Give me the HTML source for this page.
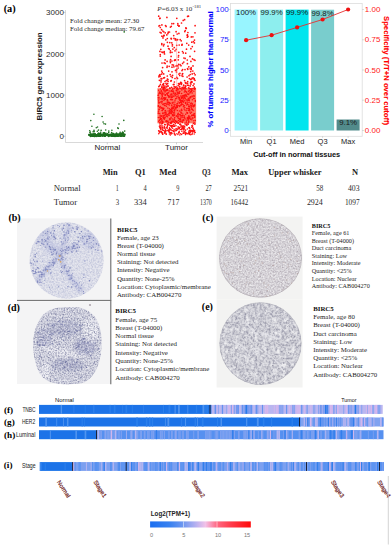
<!DOCTYPE html>
<html><head><meta charset="utf-8"><style>
html,body{margin:0;padding:0;background:#fff;width:392px;height:550px;overflow:hidden}
svg{display:block}
</style></head><body>
<svg width="392" height="550" viewBox="0 0 392 550">
<rect width="392" height="550" fill="#fff"/>
<text x="3.7" y="12.3" font-family="'Liberation Serif', serif" font-size="10.3" fill="#000" font-weight="bold" text-anchor="start">(a)</text>
<line x1="65.5" y1="10" x2="65.5" y2="142.5" stroke="#cfcfcf" stroke-width="0.8"/>
<line x1="65.5" y1="142.5" x2="203" y2="142.5" stroke="#cfcfcf" stroke-width="0.8"/>
<line x1="63.6" y1="136.3" x2="65.5" y2="136.3" stroke="#bbb" stroke-width="0.7"/>
<text x="63.9" y="139.20000000000002" font-family="'Liberation Sans', sans-serif" font-size="8" fill="#2a2a2a" text-anchor="end">0</text>
<line x1="63.6" y1="95.0" x2="65.5" y2="95.0" stroke="#bbb" stroke-width="0.7"/>
<text x="63.9" y="97.9" font-family="'Liberation Sans', sans-serif" font-size="8" fill="#2a2a2a" text-anchor="end">1000</text>
<line x1="63.6" y1="53.7" x2="65.5" y2="53.7" stroke="#bbb" stroke-width="0.7"/>
<text x="63.9" y="56.6" font-family="'Liberation Sans', sans-serif" font-size="8" fill="#2a2a2a" text-anchor="end">2000</text>
<line x1="63.6" y1="12.4" x2="65.5" y2="12.4" stroke="#bbb" stroke-width="0.7"/>
<text x="63.9" y="15.3" font-family="'Liberation Sans', sans-serif" font-size="8" fill="#2a2a2a" text-anchor="end">3000</text>
<line x1="107.3" y1="142.5" x2="107.3" y2="144.4" stroke="#bbb" stroke-width="0.7"/>
<line x1="176.5" y1="142.5" x2="176.5" y2="144.4" stroke="#bbb" stroke-width="0.7"/>
<text x="107.3" y="150.2" font-family="'Liberation Sans', sans-serif" font-size="8" fill="#222" text-anchor="middle">Normal</text>
<text x="176.5" y="150.2" font-family="'Liberation Sans', sans-serif" font-size="8" fill="#222" text-anchor="middle">Tumor</text>
<text transform="translate(42.3,76.4) rotate(-90)" font-family="'Liberation Sans', sans-serif" font-size="7.9" font-weight="bold" fill="#1a1a1a" text-anchor="middle">BIRC5 gene expression</text>
<text x="70" y="23.3" font-family="'Liberation Serif', serif" font-size="6.85" fill="#262626" text-anchor="start">Fold change mean: 27.30</text>
<text x="70" y="30.9" font-family="'Liberation Serif', serif" font-size="6.85" fill="#262626" text-anchor="start">Fold change median: 79.67</text>
<text x="157.3" y="10.7" font-family="'Liberation Serif', serif" font-size="7.1" fill="#333"><tspan font-style="italic">P</tspan>=6.03 x 10<tspan font-size="4.7" dy="-2.4" dx="0.3">-181</tspan></text>
<g fill="#1f6f1f"><circle cx="91.5" cy="135.7" r="0.8"/><circle cx="102.1" cy="135.0" r="0.8"/><circle cx="104.6" cy="133.1" r="0.8"/><circle cx="92.2" cy="134.3" r="0.8"/><circle cx="97.0" cy="135.1" r="0.8"/><circle cx="123.1" cy="134.6" r="0.8"/><circle cx="90.6" cy="136.4" r="0.8"/><circle cx="99.4" cy="136.1" r="0.8"/><circle cx="118.4" cy="134.8" r="0.8"/><circle cx="109.9" cy="134.5" r="0.8"/><circle cx="91.2" cy="135.6" r="0.8"/><circle cx="96.3" cy="134.9" r="0.8"/><circle cx="110.0" cy="135.2" r="0.8"/><circle cx="99.7" cy="135.5" r="0.8"/><circle cx="109.6" cy="134.6" r="0.8"/><circle cx="120.5" cy="135.7" r="0.8"/><circle cx="93.2" cy="136.1" r="0.8"/><circle cx="116.2" cy="135.5" r="0.8"/><circle cx="113.0" cy="134.0" r="0.8"/><circle cx="109.6" cy="134.7" r="0.8"/><circle cx="110.4" cy="135.1" r="0.8"/><circle cx="105.4" cy="135.7" r="0.8"/><circle cx="112.9" cy="133.2" r="0.8"/><circle cx="114.2" cy="135.0" r="0.8"/><circle cx="99.2" cy="136.2" r="0.8"/><circle cx="113.0" cy="135.5" r="0.8"/><circle cx="93.1" cy="133.3" r="0.8"/><circle cx="116.6" cy="134.5" r="0.8"/><circle cx="120.4" cy="134.7" r="0.8"/><circle cx="105.1" cy="134.2" r="0.8"/><circle cx="120.1" cy="136.2" r="0.8"/><circle cx="103.9" cy="135.2" r="0.8"/><circle cx="94.3" cy="136.4" r="0.8"/><circle cx="97.3" cy="131.3" r="0.8"/><circle cx="98.4" cy="135.4" r="0.8"/><circle cx="104.0" cy="132.9" r="0.8"/><circle cx="113.8" cy="136.3" r="0.8"/><circle cx="111.2" cy="134.3" r="0.8"/><circle cx="117.1" cy="136.0" r="0.8"/><circle cx="117.7" cy="136.1" r="0.8"/><circle cx="111.8" cy="134.9" r="0.8"/><circle cx="91.3" cy="134.1" r="0.8"/><circle cx="90.8" cy="135.0" r="0.8"/><circle cx="94.4" cy="134.0" r="0.8"/><circle cx="120.5" cy="133.8" r="0.8"/><circle cx="94.3" cy="135.0" r="0.8"/><circle cx="93.3" cy="135.1" r="0.8"/><circle cx="124.8" cy="134.8" r="0.8"/><circle cx="92.6" cy="135.0" r="0.8"/><circle cx="98.5" cy="134.9" r="0.8"/><circle cx="123.2" cy="134.4" r="0.8"/><circle cx="94.2" cy="135.6" r="0.8"/><circle cx="124.2" cy="135.5" r="0.8"/><circle cx="114.0" cy="135.9" r="0.8"/><circle cx="116.8" cy="134.8" r="0.8"/><circle cx="117.0" cy="134.3" r="0.8"/><circle cx="124.5" cy="136.0" r="0.8"/><circle cx="118.0" cy="135.3" r="0.8"/><circle cx="107.6" cy="134.3" r="0.8"/><circle cx="89.9" cy="135.4" r="0.8"/><circle cx="113.9" cy="134.1" r="0.8"/><circle cx="105.0" cy="136.0" r="0.8"/><circle cx="102.1" cy="116.5" r="0.8"/><circle cx="97.1" cy="135.2" r="0.8"/><circle cx="121.4" cy="135.4" r="0.8"/><circle cx="106.2" cy="135.3" r="0.8"/><circle cx="112.7" cy="135.0" r="0.8"/><circle cx="117.1" cy="136.3" r="0.8"/><circle cx="117.4" cy="134.8" r="0.8"/><circle cx="117.8" cy="135.4" r="0.8"/><circle cx="123.1" cy="134.0" r="0.8"/><circle cx="95.0" cy="135.8" r="0.8"/><circle cx="118.0" cy="135.7" r="0.8"/><circle cx="118.7" cy="134.5" r="0.8"/><circle cx="108.7" cy="132.4" r="0.8"/><circle cx="89.4" cy="134.8" r="0.8"/><circle cx="122.6" cy="132.8" r="0.8"/><circle cx="120.4" cy="135.3" r="0.8"/><circle cx="99.5" cy="134.7" r="0.8"/><circle cx="110.1" cy="135.1" r="0.8"/><circle cx="121.8" cy="134.8" r="0.8"/><circle cx="105.4" cy="133.8" r="0.8"/><circle cx="122.0" cy="135.5" r="0.8"/><circle cx="108.1" cy="135.6" r="0.8"/><circle cx="95.5" cy="135.3" r="0.8"/><circle cx="117.8" cy="134.5" r="0.8"/><circle cx="109.0" cy="135.3" r="0.8"/><circle cx="107.6" cy="133.8" r="0.8"/><circle cx="109.1" cy="135.0" r="0.8"/><circle cx="98.9" cy="135.1" r="0.8"/><circle cx="116.3" cy="135.3" r="0.8"/><circle cx="104.9" cy="136.3" r="0.8"/><circle cx="113.9" cy="135.6" r="0.8"/><circle cx="108.2" cy="135.5" r="0.8"/><circle cx="120.5" cy="136.0" r="0.8"/><circle cx="98.3" cy="135.8" r="0.8"/><circle cx="93.9" cy="136.2" r="0.8"/><circle cx="104.9" cy="135.0" r="0.8"/><circle cx="113.1" cy="134.0" r="0.8"/><circle cx="121.3" cy="135.6" r="0.8"/><circle cx="94.1" cy="134.6" r="0.8"/><circle cx="123.8" cy="133.8" r="0.8"/><circle cx="106.5" cy="134.8" r="0.8"/><circle cx="119.0" cy="124.0" r="0.8"/><circle cx="101.1" cy="134.9" r="0.8"/><circle cx="100.4" cy="133.8" r="0.8"/><circle cx="104.8" cy="135.4" r="0.8"/><circle cx="100.9" cy="134.6" r="0.8"/><circle cx="124.5" cy="134.9" r="0.8"/><circle cx="124.0" cy="136.1" r="0.8"/><circle cx="117.0" cy="134.0" r="0.8"/><circle cx="93.6" cy="134.6" r="0.8"/><circle cx="98.2" cy="136.2" r="0.8"/><circle cx="122.1" cy="133.5" r="0.8"/><circle cx="91.0" cy="135.0" r="0.8"/><circle cx="104.3" cy="135.9" r="0.8"/><circle cx="117.8" cy="127.9" r="0.8"/><circle cx="119.8" cy="133.4" r="0.8"/><circle cx="101.1" cy="130.4" r="0.8"/><circle cx="122.4" cy="134.6" r="0.8"/><circle cx="97.5" cy="135.4" r="0.8"/><circle cx="94.7" cy="134.3" r="0.8"/><circle cx="99.9" cy="134.5" r="0.8"/><circle cx="99.4" cy="135.6" r="0.8"/><circle cx="89.6" cy="135.3" r="0.8"/><circle cx="89.5" cy="134.9" r="0.8"/><circle cx="106.0" cy="134.9" r="0.8"/><circle cx="92.7" cy="136.3" r="0.8"/><circle cx="119.0" cy="135.0" r="0.8"/><circle cx="107.2" cy="135.4" r="0.8"/><circle cx="118.9" cy="135.4" r="0.8"/><circle cx="111.9" cy="136.0" r="0.8"/><circle cx="93.6" cy="134.9" r="0.8"/><circle cx="115.6" cy="134.2" r="0.8"/><circle cx="119.3" cy="134.7" r="0.8"/><circle cx="113.1" cy="135.4" r="0.8"/><circle cx="105.5" cy="135.1" r="0.8"/><circle cx="105.0" cy="134.1" r="0.8"/><circle cx="108.6" cy="136.2" r="0.8"/><circle cx="123.8" cy="120.4" r="0.8"/><circle cx="102.7" cy="134.7" r="0.8"/><circle cx="107.0" cy="134.3" r="0.8"/><circle cx="98.4" cy="134.3" r="0.8"/><circle cx="103.3" cy="133.1" r="0.8"/><circle cx="97.3" cy="134.9" r="0.8"/><circle cx="108.0" cy="135.4" r="0.8"/><circle cx="120.6" cy="135.7" r="0.8"/><circle cx="100.7" cy="135.5" r="0.8"/><circle cx="112.1" cy="135.2" r="0.8"/><circle cx="119.1" cy="134.6" r="0.8"/><circle cx="118.2" cy="134.3" r="0.8"/><circle cx="107.8" cy="135.0" r="0.8"/><circle cx="118.7" cy="136.2" r="0.8"/><circle cx="121.1" cy="135.5" r="0.8"/><circle cx="90.0" cy="135.1" r="0.8"/><circle cx="101.9" cy="135.1" r="0.8"/><circle cx="111.6" cy="132.5" r="0.8"/><circle cx="113.5" cy="133.9" r="0.8"/><circle cx="115.9" cy="135.8" r="0.8"/><circle cx="108.2" cy="135.3" r="0.8"/><circle cx="98.0" cy="135.8" r="0.8"/><circle cx="98.5" cy="134.8" r="0.8"/><circle cx="124.1" cy="135.8" r="0.8"/><circle cx="102.7" cy="135.5" r="0.8"/><circle cx="111.2" cy="136.1" r="0.8"/><circle cx="91.7" cy="135.4" r="0.8"/><circle cx="99.9" cy="135.4" r="0.8"/><circle cx="89.4" cy="134.9" r="0.8"/><circle cx="113.9" cy="134.9" r="0.8"/><circle cx="99.4" cy="135.4" r="0.8"/><circle cx="93.2" cy="135.6" r="0.8"/><circle cx="96.1" cy="136.0" r="0.8"/><circle cx="105.5" cy="124.1" r="0.8"/><circle cx="123.8" cy="136.0" r="0.8"/><circle cx="123.0" cy="135.1" r="0.8"/><circle cx="109.9" cy="134.7" r="0.8"/><circle cx="93.7" cy="135.3" r="0.8"/><circle cx="107.3" cy="134.7" r="0.8"/><circle cx="121.3" cy="133.2" r="0.8"/><circle cx="89.8" cy="135.6" r="0.8"/><circle cx="99.8" cy="133.6" r="0.8"/><circle cx="101.3" cy="134.7" r="0.8"/><circle cx="116.0" cy="134.8" r="0.8"/><circle cx="93.2" cy="131.5" r="0.8"/><circle cx="99.4" cy="133.5" r="0.8"/><circle cx="103.1" cy="135.4" r="0.8"/><circle cx="104.4" cy="132.9" r="0.8"/><circle cx="90.6" cy="135.0" r="0.8"/><circle cx="122.7" cy="132.0" r="0.8"/><circle cx="98.5" cy="133.4" r="0.8"/><circle cx="123.4" cy="135.4" r="0.8"/><circle cx="118.2" cy="136.0" r="0.8"/><circle cx="108.7" cy="136.4" r="0.8"/><circle cx="90.7" cy="136.0" r="0.8"/><circle cx="112.2" cy="135.8" r="0.8"/><circle cx="90.7" cy="135.3" r="0.8"/><circle cx="101.3" cy="134.9" r="0.8"/><circle cx="115.6" cy="135.1" r="0.8"/><circle cx="99.8" cy="134.8" r="0.8"/><circle cx="103.1" cy="135.5" r="0.8"/><circle cx="121.6" cy="134.7" r="0.8"/><circle cx="96.8" cy="134.9" r="0.8"/><circle cx="93.9" cy="114.2" r="0.8"/><circle cx="92.2" cy="135.2" r="0.8"/><circle cx="98.2" cy="135.0" r="0.8"/><circle cx="120.9" cy="135.2" r="0.8"/><circle cx="107.8" cy="135.2" r="0.8"/><circle cx="101.1" cy="135.4" r="0.8"/><circle cx="93.4" cy="135.4" r="0.8"/><circle cx="111.6" cy="135.1" r="0.8"/><circle cx="97.9" cy="134.6" r="0.8"/><circle cx="105.0" cy="135.4" r="0.8"/><circle cx="89.7" cy="130.8" r="0.8"/><circle cx="114.5" cy="134.8" r="0.8"/><circle cx="88.9" cy="134.5" r="0.8"/><circle cx="122.4" cy="135.4" r="0.8"/><circle cx="97.9" cy="135.1" r="0.8"/><circle cx="94.5" cy="135.0" r="0.8"/><circle cx="115.0" cy="136.4" r="0.8"/><circle cx="116.5" cy="135.7" r="0.8"/><circle cx="117.1" cy="134.9" r="0.8"/><circle cx="122.1" cy="134.7" r="0.8"/><circle cx="98.0" cy="134.9" r="0.8"/><circle cx="114.1" cy="135.8" r="0.8"/><circle cx="109.9" cy="135.2" r="0.8"/><circle cx="97.0" cy="135.0" r="0.8"/><circle cx="105.5" cy="135.1" r="0.8"/><circle cx="112.2" cy="136.1" r="0.8"/><circle cx="97.8" cy="134.0" r="0.8"/><circle cx="114.3" cy="136.3" r="0.8"/><circle cx="113.2" cy="135.4" r="0.8"/><circle cx="98.2" cy="135.1" r="0.8"/><circle cx="90.1" cy="135.2" r="0.8"/><circle cx="104.1" cy="135.4" r="0.8"/><circle cx="115.6" cy="135.9" r="0.8"/><circle cx="96.3" cy="135.6" r="0.8"/><circle cx="97.2" cy="134.9" r="0.8"/><circle cx="116.4" cy="135.0" r="0.8"/><circle cx="95.7" cy="135.6" r="0.8"/><circle cx="104.0" cy="123.8" r="0.8"/><circle cx="103.1" cy="135.1" r="0.8"/><circle cx="124.1" cy="135.2" r="0.8"/><circle cx="103.1" cy="134.5" r="0.8"/><circle cx="120.8" cy="135.8" r="0.8"/><circle cx="100.8" cy="136.2" r="0.8"/><circle cx="122.7" cy="135.2" r="0.8"/><circle cx="102.6" cy="135.6" r="0.8"/><circle cx="100.9" cy="135.2" r="0.8"/><circle cx="101.6" cy="135.0" r="0.8"/><circle cx="93.4" cy="136.0" r="0.8"/><circle cx="118.6" cy="134.5" r="0.8"/><circle cx="104.5" cy="135.9" r="0.8"/><circle cx="122.1" cy="133.7" r="0.8"/><circle cx="102.0" cy="134.6" r="0.8"/><circle cx="118.2" cy="135.1" r="0.8"/><circle cx="90.4" cy="135.8" r="0.8"/><circle cx="98.2" cy="135.8" r="0.8"/><circle cx="121.3" cy="135.7" r="0.8"/><circle cx="111.2" cy="136.2" r="0.8"/><circle cx="114.8" cy="134.3" r="0.8"/><circle cx="116.2" cy="134.7" r="0.8"/><circle cx="111.8" cy="135.3" r="0.8"/><circle cx="106.1" cy="134.8" r="0.8"/><circle cx="123.3" cy="136.1" r="0.8"/><circle cx="106.7" cy="135.4" r="0.8"/><circle cx="95.5" cy="135.6" r="0.8"/><circle cx="116.8" cy="135.4" r="0.8"/><circle cx="100.7" cy="135.8" r="0.8"/><circle cx="91.8" cy="135.9" r="0.8"/><circle cx="116.1" cy="133.9" r="0.8"/><circle cx="108.8" cy="134.6" r="0.8"/><circle cx="124.3" cy="134.8" r="0.8"/><circle cx="91.9" cy="126.2" r="0.8"/><circle cx="106.9" cy="135.0" r="0.8"/><circle cx="103.9" cy="135.0" r="0.8"/><circle cx="113.2" cy="135.8" r="0.8"/><circle cx="93.3" cy="135.6" r="0.8"/><circle cx="99.5" cy="136.2" r="0.8"/><circle cx="96.1" cy="136.0" r="0.8"/><circle cx="97.8" cy="135.1" r="0.8"/><circle cx="100.7" cy="133.8" r="0.8"/><circle cx="124.7" cy="131.1" r="0.8"/><circle cx="112.5" cy="136.1" r="0.8"/><circle cx="92.6" cy="136.1" r="0.8"/><circle cx="121.9" cy="136.2" r="0.8"/><circle cx="99.5" cy="134.4" r="0.8"/><circle cx="110.0" cy="135.7" r="0.8"/><circle cx="102.3" cy="135.7" r="0.8"/><circle cx="117.0" cy="134.2" r="0.8"/><circle cx="92.7" cy="136.3" r="0.8"/><circle cx="102.2" cy="135.2" r="0.8"/><circle cx="96.3" cy="135.0" r="0.8"/><circle cx="96.2" cy="135.6" r="0.8"/><circle cx="100.7" cy="132.3" r="0.8"/><circle cx="96.2" cy="135.2" r="0.8"/><circle cx="108.7" cy="136.0" r="0.8"/><circle cx="108.8" cy="134.8" r="0.8"/><circle cx="92.2" cy="135.4" r="0.8"/><circle cx="99.1" cy="134.4" r="0.8"/><circle cx="123.3" cy="132.9" r="0.8"/><circle cx="103.9" cy="135.3" r="0.8"/><circle cx="124.9" cy="134.2" r="0.8"/><circle cx="96.3" cy="135.9" r="0.8"/><circle cx="121.4" cy="134.1" r="0.8"/><circle cx="120.8" cy="135.5" r="0.8"/><circle cx="94.8" cy="134.4" r="0.8"/><circle cx="121.7" cy="133.6" r="0.8"/><circle cx="111.4" cy="134.6" r="0.8"/><circle cx="99.1" cy="135.0" r="0.8"/><circle cx="122.3" cy="134.4" r="0.8"/><circle cx="123.8" cy="134.8" r="0.8"/><circle cx="93.5" cy="134.1" r="0.8"/><circle cx="90.8" cy="120.6" r="0.8"/><circle cx="102.9" cy="136.3" r="0.8"/><circle cx="94.7" cy="134.3" r="0.8"/><circle cx="96.9" cy="136.0" r="0.8"/><circle cx="95.5" cy="136.2" r="0.8"/><circle cx="103.3" cy="133.4" r="0.8"/><circle cx="97.8" cy="135.0" r="0.8"/><circle cx="121.3" cy="135.7" r="0.8"/><circle cx="90.3" cy="133.9" r="0.8"/><circle cx="93.2" cy="135.6" r="0.8"/><circle cx="100.0" cy="135.8" r="0.8"/><circle cx="109.9" cy="135.4" r="0.8"/><circle cx="104.7" cy="135.6" r="0.8"/><circle cx="111.2" cy="134.0" r="0.8"/><circle cx="117.1" cy="136.0" r="0.8"/><circle cx="95.4" cy="135.2" r="0.8"/><circle cx="104.4" cy="134.9" r="0.8"/><circle cx="104.9" cy="134.6" r="0.8"/><circle cx="91.9" cy="135.7" r="0.8"/><circle cx="117.0" cy="135.7" r="0.8"/><circle cx="102.5" cy="135.5" r="0.8"/><circle cx="93.8" cy="136.1" r="0.8"/><circle cx="118.3" cy="128.5" r="0.8"/><circle cx="124.3" cy="135.2" r="0.8"/><circle cx="94.9" cy="136.4" r="0.8"/><circle cx="122.5" cy="135.7" r="0.8"/><circle cx="94.6" cy="134.8" r="0.8"/><circle cx="98.8" cy="135.7" r="0.8"/><circle cx="122.1" cy="135.2" r="0.8"/><circle cx="98.4" cy="135.1" r="0.8"/><circle cx="95.5" cy="134.9" r="0.8"/><circle cx="122.7" cy="134.8" r="0.8"/><circle cx="117.2" cy="135.1" r="0.8"/><circle cx="108.1" cy="135.1" r="0.8"/><circle cx="108.9" cy="136.1" r="0.8"/><circle cx="120.8" cy="135.7" r="0.8"/><circle cx="103.1" cy="122.1" r="0.8"/><circle cx="98.5" cy="130.1" r="0.8"/><circle cx="116.5" cy="133.0" r="0.8"/><circle cx="95.3" cy="135.3" r="0.8"/><circle cx="98.1" cy="135.8" r="0.8"/><circle cx="124.4" cy="135.7" r="0.8"/><circle cx="89.0" cy="135.3" r="0.8"/><circle cx="94.3" cy="134.8" r="0.8"/><circle cx="121.2" cy="135.6" r="0.8"/><circle cx="97.1" cy="135.0" r="0.8"/><circle cx="101.7" cy="134.6" r="0.8"/><circle cx="101.8" cy="134.8" r="0.8"/><circle cx="96.3" cy="135.3" r="0.8"/><circle cx="106.0" cy="133.4" r="0.8"/><circle cx="94.3" cy="131.7" r="0.8"/><circle cx="111.9" cy="130.3" r="0.8"/><circle cx="98.4" cy="133.4" r="0.8"/><circle cx="112.2" cy="134.9" r="0.8"/><circle cx="104.9" cy="135.8" r="0.8"/><circle cx="115.4" cy="136.2" r="0.8"/><circle cx="108.1" cy="134.6" r="0.8"/><circle cx="97.5" cy="127.0" r="0.8"/><circle cx="108.8" cy="131.0" r="0.8"/><circle cx="94.0" cy="135.5" r="0.8"/><circle cx="112.1" cy="135.0" r="0.8"/><circle cx="95.2" cy="133.8" r="0.8"/><circle cx="121.0" cy="134.7" r="0.8"/><circle cx="114.7" cy="135.0" r="0.8"/><circle cx="105.7" cy="130.0" r="0.8"/><circle cx="105.2" cy="135.7" r="0.8"/><circle cx="90.3" cy="134.9" r="0.8"/><circle cx="116.0" cy="134.7" r="0.8"/><circle cx="98.5" cy="135.9" r="0.8"/><circle cx="104.6" cy="135.8" r="0.8"/><circle cx="112.1" cy="134.8" r="0.8"/><circle cx="96.7" cy="136.4" r="0.8"/><circle cx="97.4" cy="134.9" r="0.8"/><circle cx="123.0" cy="135.8" r="0.8"/><circle cx="100.8" cy="135.9" r="0.8"/><circle cx="121.7" cy="135.2" r="0.8"/><circle cx="124.2" cy="135.9" r="0.8"/><circle cx="119.2" cy="135.6" r="0.8"/><circle cx="115.1" cy="135.5" r="0.8"/><circle cx="100.0" cy="135.8" r="0.8"/><circle cx="121.8" cy="134.4" r="0.8"/><circle cx="89.9" cy="132.5" r="0.8"/><circle cx="94.0" cy="130.4" r="0.8"/><circle cx="90.4" cy="132.0" r="0.8"/><circle cx="115.5" cy="135.8" r="0.8"/><circle cx="110.2" cy="135.0" r="0.8"/><circle cx="121.1" cy="136.1" r="0.8"/><circle cx="120.2" cy="132.2" r="0.8"/><circle cx="96.3" cy="127.7" r="0.8"/><circle cx="90.1" cy="135.0" r="0.8"/><circle cx="118.7" cy="134.2" r="0.8"/><circle cx="124.2" cy="31.9" r="0.8"/></g>
<rect x="157.4" y="88.3" width="38.7" height="35" fill="#ff7866"/>
<g fill="#ff1010"><circle cx="181.7" cy="98.5" r="0.75"/><circle cx="161.9" cy="92.0" r="0.75"/><circle cx="186.4" cy="95.7" r="0.75"/><circle cx="170.1" cy="103.2" r="0.75"/><circle cx="159.0" cy="97.4" r="0.75"/><circle cx="168.7" cy="113.2" r="0.75"/><circle cx="171.9" cy="99.6" r="0.75"/><circle cx="194.1" cy="105.9" r="0.75"/><circle cx="189.9" cy="109.9" r="0.75"/><circle cx="159.4" cy="102.8" r="0.75"/><circle cx="174.4" cy="115.2" r="0.75"/><circle cx="171.1" cy="112.8" r="0.75"/><circle cx="178.2" cy="96.1" r="0.75"/><circle cx="190.3" cy="91.7" r="0.75"/><circle cx="188.7" cy="94.5" r="0.75"/><circle cx="158.2" cy="95.6" r="0.75"/><circle cx="186.6" cy="122.2" r="0.75"/><circle cx="158.4" cy="105.5" r="0.75"/><circle cx="176.5" cy="116.0" r="0.75"/><circle cx="165.1" cy="105.6" r="0.75"/><circle cx="171.1" cy="117.2" r="0.75"/><circle cx="167.9" cy="121.1" r="0.75"/><circle cx="168.8" cy="96.0" r="0.75"/><circle cx="184.2" cy="105.7" r="0.75"/><circle cx="162.3" cy="110.5" r="0.75"/><circle cx="161.2" cy="115.7" r="0.75"/><circle cx="184.1" cy="115.7" r="0.75"/><circle cx="181.6" cy="100.8" r="0.75"/><circle cx="173.1" cy="102.2" r="0.75"/><circle cx="191.3" cy="91.6" r="0.75"/><circle cx="191.3" cy="89.5" r="0.75"/><circle cx="165.9" cy="97.7" r="0.75"/><circle cx="191.7" cy="105.8" r="0.75"/><circle cx="172.3" cy="119.0" r="0.75"/><circle cx="166.9" cy="104.5" r="0.75"/><circle cx="178.0" cy="114.6" r="0.75"/><circle cx="186.2" cy="110.8" r="0.75"/><circle cx="171.2" cy="99.8" r="0.75"/><circle cx="164.0" cy="117.6" r="0.75"/><circle cx="182.8" cy="114.1" r="0.75"/><circle cx="164.5" cy="103.7" r="0.75"/><circle cx="187.0" cy="108.5" r="0.75"/><circle cx="162.9" cy="104.5" r="0.75"/><circle cx="191.1" cy="96.8" r="0.75"/><circle cx="165.3" cy="99.0" r="0.75"/><circle cx="184.4" cy="117.6" r="0.75"/><circle cx="164.0" cy="94.0" r="0.75"/><circle cx="167.4" cy="99.8" r="0.75"/><circle cx="177.6" cy="94.1" r="0.75"/><circle cx="170.4" cy="95.1" r="0.75"/><circle cx="194.5" cy="113.7" r="0.75"/><circle cx="162.0" cy="121.7" r="0.75"/><circle cx="162.0" cy="101.8" r="0.75"/><circle cx="194.8" cy="115.9" r="0.75"/><circle cx="185.5" cy="103.6" r="0.75"/><circle cx="165.5" cy="110.5" r="0.75"/><circle cx="162.2" cy="95.7" r="0.75"/><circle cx="172.6" cy="89.8" r="0.75"/><circle cx="173.0" cy="115.8" r="0.75"/><circle cx="184.0" cy="105.8" r="0.75"/><circle cx="181.7" cy="104.5" r="0.75"/><circle cx="163.5" cy="109.4" r="0.75"/><circle cx="173.3" cy="114.1" r="0.75"/><circle cx="192.0" cy="103.4" r="0.75"/><circle cx="179.6" cy="114.4" r="0.75"/><circle cx="173.9" cy="96.5" r="0.75"/><circle cx="185.1" cy="118.9" r="0.75"/><circle cx="187.0" cy="112.7" r="0.75"/><circle cx="189.9" cy="112.0" r="0.75"/><circle cx="182.1" cy="104.2" r="0.75"/><circle cx="169.8" cy="110.2" r="0.75"/><circle cx="161.8" cy="103.0" r="0.75"/><circle cx="187.3" cy="113.1" r="0.75"/><circle cx="181.6" cy="97.2" r="0.75"/><circle cx="174.0" cy="104.3" r="0.75"/><circle cx="181.3" cy="102.7" r="0.75"/><circle cx="183.3" cy="120.6" r="0.75"/><circle cx="165.0" cy="111.1" r="0.75"/><circle cx="187.1" cy="102.0" r="0.75"/><circle cx="176.4" cy="122.1" r="0.75"/><circle cx="159.6" cy="107.3" r="0.75"/><circle cx="164.2" cy="115.5" r="0.75"/><circle cx="193.2" cy="106.5" r="0.75"/><circle cx="162.0" cy="108.4" r="0.75"/><circle cx="178.3" cy="113.3" r="0.75"/><circle cx="177.3" cy="110.6" r="0.75"/><circle cx="189.0" cy="106.5" r="0.75"/><circle cx="173.5" cy="121.2" r="0.75"/><circle cx="166.0" cy="112.1" r="0.75"/><circle cx="172.8" cy="114.8" r="0.75"/><circle cx="162.8" cy="122.5" r="0.75"/><circle cx="171.4" cy="90.5" r="0.75"/><circle cx="168.4" cy="102.3" r="0.75"/><circle cx="158.7" cy="103.0" r="0.75"/><circle cx="173.8" cy="112.6" r="0.75"/><circle cx="171.3" cy="97.7" r="0.75"/><circle cx="166.5" cy="114.1" r="0.75"/><circle cx="193.2" cy="106.7" r="0.75"/><circle cx="166.3" cy="116.2" r="0.75"/><circle cx="172.8" cy="95.9" r="0.75"/><circle cx="163.0" cy="115.3" r="0.75"/><circle cx="188.3" cy="110.4" r="0.75"/><circle cx="175.7" cy="107.9" r="0.75"/><circle cx="166.6" cy="121.8" r="0.75"/><circle cx="171.3" cy="110.6" r="0.75"/><circle cx="188.7" cy="116.7" r="0.75"/><circle cx="175.6" cy="98.7" r="0.75"/><circle cx="178.6" cy="92.9" r="0.75"/><circle cx="189.2" cy="100.8" r="0.75"/><circle cx="189.8" cy="97.8" r="0.75"/><circle cx="172.2" cy="97.3" r="0.75"/><circle cx="174.1" cy="95.0" r="0.75"/><circle cx="158.3" cy="113.4" r="0.75"/><circle cx="168.7" cy="97.0" r="0.75"/><circle cx="169.4" cy="105.1" r="0.75"/><circle cx="174.1" cy="110.5" r="0.75"/><circle cx="182.7" cy="101.1" r="0.75"/><circle cx="192.7" cy="118.0" r="0.75"/><circle cx="160.3" cy="117.1" r="0.75"/><circle cx="191.9" cy="115.6" r="0.75"/><circle cx="163.4" cy="117.2" r="0.75"/><circle cx="181.8" cy="89.1" r="0.75"/><circle cx="158.6" cy="121.3" r="0.75"/><circle cx="182.6" cy="97.2" r="0.75"/><circle cx="162.0" cy="93.5" r="0.75"/><circle cx="166.9" cy="115.3" r="0.75"/><circle cx="171.1" cy="93.9" r="0.75"/><circle cx="191.8" cy="115.8" r="0.75"/><circle cx="164.4" cy="119.3" r="0.75"/><circle cx="180.8" cy="115.5" r="0.75"/><circle cx="183.1" cy="119.4" r="0.75"/><circle cx="187.5" cy="117.5" r="0.75"/><circle cx="165.5" cy="112.4" r="0.75"/><circle cx="177.9" cy="114.1" r="0.75"/><circle cx="174.5" cy="119.0" r="0.75"/><circle cx="178.8" cy="97.7" r="0.75"/><circle cx="166.9" cy="93.4" r="0.75"/><circle cx="176.5" cy="90.6" r="0.75"/><circle cx="175.6" cy="93.6" r="0.75"/><circle cx="176.5" cy="105.7" r="0.75"/><circle cx="178.3" cy="118.3" r="0.75"/><circle cx="158.4" cy="117.5" r="0.75"/><circle cx="175.6" cy="108.0" r="0.75"/><circle cx="182.9" cy="117.5" r="0.75"/><circle cx="172.1" cy="103.0" r="0.75"/><circle cx="193.9" cy="91.2" r="0.75"/><circle cx="181.9" cy="110.5" r="0.75"/><circle cx="159.3" cy="109.6" r="0.75"/><circle cx="183.6" cy="120.6" r="0.75"/><circle cx="170.5" cy="122.4" r="0.75"/><circle cx="177.2" cy="105.3" r="0.75"/><circle cx="191.6" cy="89.8" r="0.75"/><circle cx="184.9" cy="110.1" r="0.75"/><circle cx="170.8" cy="118.2" r="0.75"/><circle cx="171.8" cy="104.9" r="0.75"/><circle cx="177.7" cy="115.1" r="0.75"/><circle cx="166.0" cy="103.6" r="0.75"/><circle cx="173.9" cy="107.7" r="0.75"/><circle cx="189.0" cy="98.7" r="0.75"/><circle cx="189.0" cy="102.5" r="0.75"/><circle cx="176.9" cy="97.9" r="0.75"/><circle cx="177.0" cy="122.1" r="0.75"/><circle cx="182.5" cy="115.8" r="0.75"/><circle cx="170.5" cy="99.5" r="0.75"/><circle cx="169.3" cy="108.8" r="0.75"/><circle cx="181.8" cy="115.6" r="0.75"/><circle cx="159.7" cy="113.5" r="0.75"/><circle cx="191.1" cy="107.4" r="0.75"/><circle cx="160.0" cy="98.9" r="0.75"/><circle cx="158.4" cy="95.1" r="0.75"/><circle cx="192.5" cy="109.5" r="0.75"/><circle cx="182.7" cy="115.7" r="0.75"/><circle cx="192.0" cy="109.6" r="0.75"/><circle cx="181.1" cy="110.2" r="0.75"/><circle cx="184.1" cy="109.1" r="0.75"/><circle cx="183.5" cy="95.9" r="0.75"/><circle cx="183.0" cy="104.4" r="0.75"/><circle cx="186.6" cy="92.1" r="0.75"/><circle cx="164.9" cy="89.9" r="0.75"/><circle cx="187.0" cy="120.0" r="0.75"/><circle cx="182.6" cy="101.3" r="0.75"/><circle cx="188.8" cy="115.7" r="0.75"/><circle cx="179.1" cy="97.5" r="0.75"/><circle cx="169.4" cy="103.1" r="0.75"/><circle cx="170.0" cy="103.4" r="0.75"/><circle cx="182.1" cy="120.7" r="0.75"/><circle cx="160.2" cy="108.1" r="0.75"/><circle cx="159.7" cy="92.7" r="0.75"/><circle cx="188.3" cy="108.4" r="0.75"/><circle cx="192.4" cy="104.0" r="0.75"/><circle cx="158.7" cy="101.9" r="0.75"/><circle cx="180.2" cy="120.9" r="0.75"/><circle cx="194.7" cy="105.0" r="0.75"/><circle cx="173.5" cy="92.1" r="0.75"/><circle cx="182.2" cy="95.9" r="0.75"/><circle cx="163.8" cy="89.1" r="0.75"/><circle cx="158.4" cy="112.1" r="0.75"/><circle cx="162.7" cy="121.8" r="0.75"/><circle cx="161.5" cy="118.5" r="0.75"/><circle cx="163.0" cy="89.2" r="0.75"/><circle cx="185.0" cy="96.9" r="0.75"/><circle cx="185.5" cy="95.0" r="0.75"/><circle cx="160.1" cy="115.2" r="0.75"/><circle cx="184.7" cy="118.0" r="0.75"/><circle cx="185.3" cy="91.5" r="0.75"/><circle cx="181.6" cy="113.0" r="0.75"/><circle cx="175.3" cy="120.7" r="0.75"/><circle cx="167.7" cy="121.8" r="0.75"/><circle cx="184.9" cy="89.0" r="0.75"/><circle cx="158.7" cy="111.0" r="0.75"/><circle cx="188.6" cy="91.3" r="0.75"/><circle cx="169.8" cy="113.7" r="0.75"/><circle cx="164.4" cy="118.2" r="0.75"/><circle cx="176.3" cy="90.7" r="0.75"/><circle cx="171.9" cy="108.4" r="0.75"/><circle cx="174.5" cy="111.9" r="0.75"/><circle cx="163.6" cy="116.0" r="0.75"/><circle cx="171.7" cy="110.8" r="0.75"/><circle cx="181.6" cy="103.0" r="0.75"/><circle cx="172.5" cy="115.6" r="0.75"/><circle cx="193.4" cy="115.6" r="0.75"/><circle cx="179.3" cy="98.7" r="0.75"/><circle cx="160.5" cy="122.1" r="0.75"/><circle cx="184.4" cy="117.1" r="0.75"/><circle cx="170.6" cy="109.4" r="0.75"/><circle cx="194.6" cy="117.2" r="0.75"/><circle cx="180.6" cy="99.2" r="0.75"/><circle cx="174.1" cy="119.2" r="0.75"/><circle cx="172.2" cy="112.2" r="0.75"/><circle cx="180.6" cy="119.4" r="0.75"/><circle cx="188.2" cy="98.3" r="0.75"/><circle cx="158.3" cy="97.6" r="0.75"/><circle cx="173.9" cy="108.8" r="0.75"/><circle cx="188.6" cy="119.1" r="0.75"/><circle cx="159.8" cy="117.3" r="0.75"/><circle cx="188.4" cy="118.4" r="0.75"/><circle cx="179.5" cy="98.0" r="0.75"/><circle cx="189.9" cy="116.4" r="0.75"/><circle cx="183.7" cy="120.0" r="0.75"/><circle cx="171.1" cy="91.5" r="0.75"/><circle cx="178.8" cy="116.0" r="0.75"/><circle cx="165.7" cy="114.4" r="0.75"/><circle cx="192.9" cy="96.7" r="0.75"/><circle cx="180.8" cy="111.9" r="0.75"/><circle cx="175.5" cy="95.7" r="0.75"/><circle cx="167.7" cy="114.4" r="0.75"/><circle cx="187.6" cy="104.4" r="0.75"/><circle cx="161.5" cy="116.3" r="0.75"/><circle cx="186.9" cy="96.6" r="0.75"/><circle cx="179.8" cy="119.5" r="0.75"/><circle cx="191.1" cy="106.6" r="0.75"/><circle cx="175.9" cy="108.9" r="0.75"/><circle cx="165.2" cy="95.2" r="0.75"/><circle cx="164.9" cy="112.7" r="0.75"/><circle cx="171.7" cy="108.0" r="0.75"/><circle cx="173.2" cy="106.4" r="0.75"/><circle cx="163.7" cy="90.1" r="0.75"/><circle cx="195.3" cy="101.5" r="0.75"/><circle cx="162.1" cy="110.4" r="0.75"/><circle cx="187.5" cy="94.0" r="0.75"/><circle cx="180.4" cy="100.5" r="0.75"/><circle cx="177.5" cy="89.3" r="0.75"/><circle cx="159.4" cy="122.7" r="0.75"/><circle cx="190.4" cy="105.3" r="0.75"/><circle cx="179.3" cy="97.6" r="0.75"/><circle cx="187.2" cy="103.3" r="0.75"/><circle cx="193.4" cy="115.0" r="0.75"/><circle cx="188.7" cy="121.7" r="0.75"/><circle cx="167.6" cy="89.9" r="0.75"/><circle cx="165.7" cy="94.8" r="0.75"/><circle cx="161.3" cy="90.4" r="0.75"/><circle cx="178.9" cy="118.6" r="0.75"/><circle cx="175.2" cy="121.2" r="0.75"/><circle cx="192.0" cy="90.8" r="0.75"/><circle cx="180.4" cy="102.3" r="0.75"/><circle cx="162.7" cy="121.6" r="0.75"/><circle cx="167.8" cy="108.0" r="0.75"/><circle cx="182.0" cy="121.5" r="0.75"/><circle cx="183.1" cy="102.1" r="0.75"/><circle cx="174.9" cy="94.1" r="0.75"/><circle cx="194.1" cy="122.7" r="0.75"/><circle cx="166.4" cy="89.9" r="0.75"/><circle cx="167.7" cy="100.7" r="0.75"/><circle cx="191.8" cy="119.7" r="0.75"/><circle cx="189.3" cy="90.2" r="0.75"/><circle cx="187.5" cy="113.0" r="0.75"/><circle cx="182.3" cy="122.5" r="0.75"/><circle cx="160.3" cy="93.6" r="0.75"/><circle cx="186.3" cy="120.9" r="0.75"/><circle cx="183.4" cy="98.9" r="0.75"/><circle cx="180.2" cy="114.7" r="0.75"/><circle cx="162.1" cy="99.7" r="0.75"/><circle cx="167.8" cy="92.9" r="0.75"/><circle cx="176.1" cy="94.4" r="0.75"/><circle cx="167.1" cy="93.5" r="0.75"/><circle cx="183.4" cy="89.0" r="0.75"/><circle cx="184.9" cy="95.3" r="0.75"/><circle cx="159.5" cy="120.5" r="0.75"/><circle cx="166.4" cy="120.7" r="0.75"/><circle cx="190.4" cy="119.2" r="0.75"/><circle cx="163.4" cy="104.0" r="0.75"/><circle cx="161.8" cy="120.5" r="0.75"/><circle cx="189.5" cy="110.2" r="0.75"/><circle cx="175.0" cy="100.3" r="0.75"/><circle cx="188.8" cy="105.0" r="0.75"/><circle cx="181.6" cy="93.5" r="0.75"/><circle cx="166.4" cy="90.6" r="0.75"/><circle cx="184.8" cy="107.6" r="0.75"/><circle cx="163.6" cy="118.6" r="0.75"/><circle cx="168.1" cy="102.8" r="0.75"/><circle cx="164.0" cy="97.9" r="0.75"/><circle cx="189.4" cy="100.1" r="0.75"/><circle cx="164.4" cy="105.5" r="0.75"/><circle cx="170.0" cy="119.7" r="0.75"/><circle cx="162.4" cy="122.3" r="0.75"/><circle cx="160.3" cy="119.4" r="0.75"/><circle cx="183.1" cy="95.9" r="0.75"/><circle cx="176.0" cy="98.4" r="0.75"/><circle cx="167.8" cy="95.5" r="0.75"/><circle cx="171.8" cy="122.7" r="0.75"/><circle cx="195.3" cy="120.4" r="0.75"/><circle cx="161.8" cy="98.6" r="0.75"/><circle cx="191.5" cy="90.6" r="0.75"/><circle cx="185.2" cy="98.7" r="0.75"/><circle cx="194.6" cy="89.2" r="0.75"/><circle cx="188.2" cy="100.3" r="0.75"/><circle cx="163.4" cy="88.7" r="0.75"/><circle cx="189.2" cy="106.7" r="0.75"/><circle cx="165.1" cy="103.6" r="0.75"/><circle cx="192.1" cy="96.1" r="0.75"/><circle cx="179.5" cy="93.3" r="0.75"/><circle cx="164.9" cy="115.1" r="0.75"/><circle cx="184.7" cy="95.4" r="0.75"/><circle cx="161.1" cy="91.6" r="0.75"/><circle cx="180.8" cy="105.6" r="0.75"/><circle cx="168.4" cy="95.7" r="0.75"/><circle cx="181.0" cy="112.9" r="0.75"/><circle cx="188.4" cy="108.7" r="0.75"/><circle cx="165.7" cy="90.9" r="0.75"/><circle cx="185.5" cy="102.6" r="0.75"/><circle cx="185.0" cy="90.5" r="0.75"/><circle cx="188.4" cy="100.1" r="0.75"/><circle cx="189.5" cy="118.3" r="0.75"/><circle cx="176.5" cy="89.1" r="0.75"/><circle cx="192.1" cy="105.0" r="0.75"/><circle cx="190.6" cy="97.8" r="0.75"/><circle cx="165.1" cy="117.2" r="0.75"/><circle cx="171.9" cy="94.2" r="0.75"/><circle cx="172.0" cy="109.1" r="0.75"/><circle cx="158.4" cy="106.5" r="0.75"/><circle cx="174.8" cy="106.3" r="0.75"/><circle cx="162.7" cy="113.2" r="0.75"/><circle cx="188.6" cy="118.4" r="0.75"/><circle cx="170.1" cy="113.1" r="0.75"/><circle cx="172.4" cy="114.4" r="0.75"/><circle cx="160.5" cy="118.6" r="0.75"/><circle cx="193.7" cy="105.6" r="0.75"/><circle cx="177.3" cy="106.8" r="0.75"/><circle cx="178.2" cy="89.3" r="0.75"/><circle cx="194.2" cy="96.3" r="0.75"/><circle cx="165.0" cy="92.1" r="0.75"/><circle cx="167.5" cy="116.7" r="0.75"/><circle cx="159.3" cy="91.9" r="0.75"/><circle cx="184.2" cy="95.3" r="0.75"/><circle cx="158.9" cy="109.2" r="0.75"/><circle cx="179.6" cy="106.6" r="0.75"/><circle cx="184.3" cy="92.1" r="0.75"/><circle cx="190.5" cy="113.3" r="0.75"/><circle cx="159.9" cy="92.8" r="0.75"/><circle cx="176.6" cy="105.8" r="0.75"/><circle cx="168.6" cy="92.8" r="0.75"/><circle cx="173.3" cy="93.3" r="0.75"/><circle cx="180.2" cy="118.2" r="0.75"/><circle cx="163.7" cy="108.3" r="0.75"/><circle cx="186.0" cy="94.3" r="0.75"/><circle cx="188.9" cy="120.9" r="0.75"/><circle cx="172.7" cy="103.1" r="0.75"/><circle cx="189.4" cy="106.7" r="0.75"/><circle cx="172.9" cy="121.0" r="0.75"/><circle cx="187.1" cy="100.2" r="0.75"/><circle cx="167.1" cy="100.1" r="0.75"/><circle cx="174.4" cy="122.4" r="0.75"/><circle cx="188.1" cy="120.0" r="0.75"/><circle cx="188.5" cy="117.8" r="0.75"/><circle cx="160.2" cy="106.4" r="0.75"/><circle cx="193.8" cy="120.7" r="0.75"/><circle cx="167.5" cy="103.1" r="0.75"/><circle cx="181.7" cy="101.1" r="0.75"/><circle cx="177.9" cy="91.0" r="0.75"/><circle cx="174.3" cy="106.0" r="0.75"/><circle cx="159.0" cy="93.4" r="0.75"/><circle cx="194.3" cy="115.3" r="0.75"/><circle cx="193.1" cy="110.4" r="0.75"/><circle cx="188.3" cy="119.0" r="0.75"/><circle cx="191.1" cy="89.8" r="0.75"/><circle cx="182.1" cy="97.7" r="0.75"/><circle cx="183.4" cy="98.0" r="0.75"/><circle cx="178.4" cy="120.4" r="0.75"/><circle cx="181.3" cy="97.2" r="0.75"/><circle cx="177.6" cy="103.5" r="0.75"/><circle cx="193.6" cy="98.5" r="0.75"/><circle cx="169.6" cy="110.9" r="0.75"/><circle cx="162.7" cy="109.0" r="0.75"/><circle cx="193.8" cy="106.3" r="0.75"/><circle cx="168.2" cy="104.6" r="0.75"/><circle cx="178.1" cy="93.7" r="0.75"/><circle cx="162.8" cy="93.1" r="0.75"/><circle cx="169.1" cy="102.6" r="0.75"/><circle cx="168.9" cy="97.0" r="0.75"/><circle cx="161.5" cy="107.4" r="0.75"/><circle cx="189.4" cy="109.6" r="0.75"/><circle cx="179.4" cy="111.0" r="0.75"/><circle cx="165.7" cy="113.0" r="0.75"/><circle cx="175.3" cy="107.5" r="0.75"/><circle cx="181.0" cy="104.7" r="0.75"/><circle cx="169.8" cy="96.9" r="0.75"/><circle cx="166.4" cy="106.2" r="0.75"/><circle cx="172.5" cy="108.7" r="0.75"/><circle cx="158.6" cy="100.7" r="0.75"/><circle cx="190.3" cy="96.8" r="0.75"/><circle cx="178.9" cy="105.5" r="0.75"/><circle cx="168.8" cy="122.6" r="0.75"/><circle cx="169.2" cy="115.2" r="0.75"/><circle cx="164.1" cy="90.9" r="0.75"/><circle cx="190.6" cy="103.7" r="0.75"/><circle cx="160.5" cy="101.9" r="0.75"/><circle cx="174.6" cy="113.9" r="0.75"/><circle cx="162.3" cy="96.3" r="0.75"/><circle cx="193.9" cy="114.0" r="0.75"/><circle cx="163.9" cy="100.2" r="0.75"/><circle cx="171.3" cy="111.8" r="0.75"/><circle cx="181.1" cy="117.8" r="0.75"/><circle cx="188.7" cy="106.4" r="0.75"/><circle cx="185.7" cy="114.2" r="0.75"/><circle cx="186.5" cy="104.9" r="0.75"/><circle cx="187.4" cy="113.0" r="0.75"/><circle cx="192.2" cy="93.0" r="0.75"/><circle cx="190.6" cy="88.7" r="0.75"/><circle cx="186.7" cy="108.8" r="0.75"/><circle cx="176.7" cy="121.7" r="0.75"/><circle cx="179.5" cy="103.0" r="0.75"/><circle cx="187.4" cy="118.6" r="0.75"/><circle cx="180.8" cy="101.7" r="0.75"/><circle cx="175.0" cy="104.4" r="0.75"/><circle cx="185.1" cy="98.7" r="0.75"/><circle cx="172.7" cy="107.7" r="0.75"/><circle cx="172.5" cy="99.7" r="0.75"/><circle cx="187.5" cy="117.8" r="0.75"/><circle cx="176.8" cy="103.9" r="0.75"/><circle cx="165.1" cy="99.1" r="0.75"/><circle cx="163.6" cy="108.4" r="0.75"/><circle cx="179.8" cy="91.6" r="0.75"/><circle cx="192.4" cy="99.7" r="0.75"/><circle cx="189.6" cy="117.4" r="0.75"/><circle cx="193.9" cy="95.6" r="0.75"/><circle cx="174.1" cy="119.9" r="0.75"/><circle cx="158.6" cy="90.2" r="0.75"/><circle cx="179.2" cy="105.7" r="0.75"/><circle cx="192.4" cy="115.2" r="0.75"/><circle cx="178.2" cy="122.9" r="0.75"/><circle cx="177.4" cy="106.4" r="0.75"/><circle cx="183.7" cy="102.0" r="0.75"/><circle cx="171.5" cy="109.1" r="0.75"/><circle cx="171.3" cy="121.2" r="0.75"/><circle cx="183.4" cy="106.7" r="0.75"/><circle cx="161.9" cy="101.5" r="0.75"/><circle cx="173.1" cy="107.9" r="0.75"/><circle cx="179.6" cy="118.9" r="0.75"/><circle cx="194.1" cy="105.3" r="0.75"/><circle cx="174.6" cy="110.1" r="0.75"/><circle cx="195.3" cy="100.4" r="0.75"/><circle cx="177.9" cy="116.7" r="0.75"/><circle cx="164.6" cy="99.5" r="0.75"/><circle cx="194.6" cy="117.0" r="0.75"/><circle cx="177.3" cy="92.4" r="0.75"/><circle cx="191.5" cy="112.3" r="0.75"/><circle cx="188.7" cy="122.7" r="0.75"/><circle cx="191.2" cy="103.1" r="0.75"/><circle cx="164.0" cy="98.6" r="0.75"/><circle cx="177.2" cy="106.0" r="0.75"/><circle cx="165.2" cy="94.9" r="0.75"/><circle cx="181.6" cy="109.3" r="0.75"/><circle cx="171.3" cy="122.8" r="0.75"/><circle cx="181.9" cy="90.1" r="0.75"/><circle cx="173.5" cy="115.7" r="0.75"/><circle cx="169.6" cy="112.4" r="0.75"/><circle cx="158.3" cy="99.1" r="0.75"/><circle cx="189.5" cy="108.8" r="0.75"/><circle cx="183.1" cy="95.4" r="0.75"/><circle cx="176.7" cy="107.6" r="0.75"/><circle cx="168.1" cy="110.9" r="0.75"/><circle cx="178.0" cy="122.9" r="0.75"/><circle cx="179.6" cy="102.7" r="0.75"/><circle cx="162.7" cy="94.0" r="0.75"/><circle cx="186.5" cy="92.3" r="0.75"/><circle cx="161.9" cy="94.5" r="0.75"/><circle cx="177.6" cy="116.9" r="0.75"/><circle cx="181.0" cy="116.3" r="0.75"/><circle cx="160.5" cy="89.0" r="0.75"/><circle cx="186.9" cy="99.7" r="0.75"/><circle cx="184.8" cy="100.8" r="0.75"/><circle cx="164.5" cy="97.8" r="0.75"/><circle cx="161.9" cy="119.7" r="0.75"/><circle cx="179.9" cy="100.6" r="0.75"/><circle cx="174.9" cy="101.9" r="0.75"/><circle cx="160.2" cy="119.2" r="0.75"/><circle cx="179.9" cy="121.6" r="0.75"/><circle cx="174.6" cy="109.9" r="0.75"/><circle cx="167.5" cy="90.1" r="0.75"/><circle cx="192.8" cy="118.0" r="0.75"/><circle cx="169.9" cy="119.5" r="0.75"/><circle cx="188.6" cy="99.0" r="0.75"/><circle cx="180.6" cy="121.6" r="0.75"/><circle cx="176.6" cy="121.3" r="0.75"/><circle cx="167.2" cy="102.0" r="0.75"/><circle cx="184.9" cy="96.2" r="0.75"/><circle cx="169.7" cy="118.7" r="0.75"/><circle cx="176.2" cy="115.9" r="0.75"/><circle cx="167.3" cy="94.6" r="0.75"/><circle cx="171.5" cy="95.0" r="0.75"/><circle cx="194.3" cy="98.6" r="0.75"/><circle cx="179.1" cy="92.6" r="0.75"/><circle cx="178.1" cy="101.9" r="0.75"/><circle cx="173.2" cy="90.9" r="0.75"/><circle cx="162.8" cy="117.0" r="0.75"/><circle cx="171.3" cy="97.0" r="0.75"/><circle cx="165.3" cy="98.4" r="0.75"/><circle cx="167.0" cy="89.8" r="0.75"/><circle cx="182.9" cy="100.3" r="0.75"/><circle cx="164.0" cy="112.9" r="0.75"/><circle cx="161.6" cy="97.9" r="0.75"/><circle cx="189.3" cy="93.0" r="0.75"/><circle cx="174.7" cy="117.4" r="0.75"/><circle cx="188.1" cy="94.1" r="0.75"/><circle cx="171.3" cy="113.5" r="0.75"/><circle cx="172.2" cy="121.6" r="0.75"/><circle cx="165.9" cy="121.3" r="0.75"/><circle cx="177.0" cy="96.4" r="0.75"/><circle cx="175.0" cy="93.1" r="0.75"/><circle cx="184.5" cy="97.6" r="0.75"/><circle cx="191.7" cy="108.8" r="0.75"/><circle cx="171.9" cy="97.1" r="0.75"/><circle cx="180.8" cy="95.9" r="0.75"/><circle cx="190.7" cy="92.8" r="0.75"/><circle cx="177.3" cy="107.3" r="0.75"/><circle cx="168.3" cy="115.1" r="0.75"/><circle cx="172.5" cy="111.2" r="0.75"/><circle cx="179.3" cy="99.3" r="0.75"/><circle cx="172.7" cy="91.6" r="0.75"/><circle cx="164.8" cy="117.9" r="0.75"/><circle cx="170.1" cy="111.4" r="0.75"/><circle cx="162.3" cy="107.9" r="0.75"/><circle cx="171.6" cy="105.8" r="0.75"/><circle cx="169.2" cy="90.9" r="0.75"/><circle cx="169.8" cy="96.4" r="0.75"/><circle cx="162.9" cy="113.3" r="0.75"/><circle cx="168.7" cy="102.5" r="0.75"/><circle cx="192.0" cy="115.3" r="0.75"/><circle cx="191.0" cy="118.2" r="0.75"/><circle cx="163.1" cy="98.1" r="0.75"/><circle cx="159.5" cy="131.8" r="0.75"/><circle cx="182.9" cy="128.2" r="0.75"/><circle cx="173.6" cy="131.6" r="0.75"/><circle cx="184.2" cy="126.9" r="0.75"/><circle cx="189.6" cy="128.2" r="0.75"/><circle cx="181.6" cy="126.1" r="0.75"/><circle cx="162.7" cy="134.2" r="0.75"/><circle cx="185.5" cy="132.2" r="0.75"/><circle cx="159.9" cy="123.9" r="0.75"/><circle cx="164.4" cy="126.3" r="0.75"/><circle cx="169.6" cy="128.5" r="0.75"/><circle cx="159.8" cy="127.7" r="0.75"/><circle cx="182.0" cy="126.0" r="0.75"/><circle cx="189.4" cy="130.7" r="0.75"/><circle cx="184.8" cy="127.0" r="0.75"/><circle cx="174.4" cy="131.9" r="0.75"/><circle cx="171.3" cy="123.0" r="0.75"/><circle cx="189.2" cy="132.8" r="0.75"/><circle cx="169.0" cy="124.0" r="0.75"/><circle cx="189.9" cy="131.1" r="0.75"/><circle cx="160.1" cy="126.9" r="0.75"/><circle cx="162.5" cy="133.0" r="0.75"/><circle cx="166.2" cy="134.2" r="0.75"/><circle cx="186.1" cy="124.7" r="0.75"/><circle cx="184.0" cy="128.7" r="0.75"/><circle cx="186.0" cy="133.3" r="0.75"/><circle cx="168.8" cy="124.7" r="0.75"/><circle cx="193.3" cy="129.0" r="0.75"/><circle cx="192.7" cy="131.9" r="0.75"/><circle cx="185.7" cy="133.3" r="0.75"/><circle cx="181.6" cy="129.4" r="0.75"/><circle cx="160.4" cy="132.0" r="0.75"/><circle cx="174.2" cy="130.0" r="0.75"/><circle cx="192.6" cy="125.3" r="0.75"/><circle cx="186.5" cy="124.0" r="0.75"/><circle cx="184.3" cy="133.1" r="0.75"/><circle cx="168.0" cy="130.4" r="0.75"/><circle cx="194.2" cy="131.4" r="0.75"/><circle cx="178.5" cy="127.0" r="0.75"/><circle cx="160.6" cy="128.3" r="0.75"/><circle cx="173.6" cy="126.3" r="0.75"/><circle cx="169.9" cy="125.4" r="0.75"/><circle cx="184.5" cy="131.7" r="0.75"/><circle cx="167.2" cy="126.9" r="0.75"/><circle cx="177.4" cy="129.3" r="0.75"/><circle cx="192.9" cy="128.2" r="0.75"/><circle cx="169.4" cy="133.9" r="0.75"/><circle cx="163.6" cy="130.6" r="0.75"/><circle cx="170.7" cy="133.2" r="0.75"/><circle cx="178.6" cy="132.6" r="0.75"/><circle cx="164.6" cy="131.7" r="0.75"/><circle cx="180.5" cy="129.5" r="0.75"/><circle cx="186.7" cy="133.3" r="0.75"/><circle cx="162.6" cy="127.4" r="0.75"/><circle cx="171.7" cy="126.4" r="0.75"/><circle cx="160.6" cy="127.3" r="0.75"/><circle cx="165.7" cy="132.0" r="0.75"/><circle cx="174.9" cy="125.1" r="0.75"/><circle cx="170.4" cy="129.5" r="0.75"/><circle cx="171.8" cy="125.9" r="0.75"/><circle cx="161.1" cy="123.3" r="0.75"/><circle cx="195.0" cy="132.5" r="0.75"/><circle cx="161.5" cy="132.2" r="0.75"/><circle cx="194.6" cy="130.6" r="0.75"/><circle cx="162.4" cy="129.8" r="0.75"/><circle cx="174.4" cy="126.2" r="0.75"/><circle cx="178.4" cy="123.3" r="0.75"/><circle cx="192.3" cy="131.4" r="0.75"/><circle cx="181.6" cy="134.4" r="0.75"/><circle cx="182.5" cy="127.0" r="0.75"/><circle cx="167.5" cy="125.5" r="0.75"/><circle cx="159.4" cy="132.8" r="0.75"/><circle cx="189.4" cy="127.5" r="0.75"/><circle cx="165.3" cy="131.4" r="0.75"/><circle cx="189.6" cy="134.3" r="0.75"/><circle cx="164.6" cy="132.9" r="0.75"/><circle cx="189.0" cy="132.5" r="0.75"/><circle cx="170.5" cy="126.1" r="0.75"/><circle cx="188.9" cy="127.8" r="0.75"/><circle cx="172.0" cy="130.5" r="0.75"/><circle cx="172.0" cy="133.4" r="0.75"/><circle cx="167.2" cy="123.9" r="0.75"/><circle cx="179.3" cy="131.3" r="0.75"/><circle cx="188.6" cy="132.1" r="0.75"/><circle cx="191.8" cy="134.5" r="0.75"/><circle cx="176.6" cy="129.9" r="0.75"/><circle cx="164.2" cy="127.6" r="0.75"/><circle cx="179.8" cy="124.6" r="0.75"/><circle cx="183.8" cy="125.8" r="0.75"/><circle cx="174.8" cy="134.7" r="0.75"/><circle cx="161.7" cy="123.9" r="0.75"/><circle cx="174.6" cy="126.2" r="0.75"/><circle cx="185.1" cy="123.1" r="0.75"/><circle cx="189.4" cy="133.6" r="0.75"/><circle cx="187.4" cy="129.1" r="0.75"/><circle cx="168.9" cy="131.6" r="0.75"/><circle cx="177.4" cy="129.0" r="0.75"/><circle cx="170.9" cy="129.2" r="0.75"/><circle cx="183.0" cy="133.3" r="0.75"/><circle cx="191.8" cy="125.8" r="0.75"/><circle cx="169.3" cy="129.3" r="0.75"/><circle cx="179.2" cy="128.2" r="0.75"/><circle cx="165.6" cy="124.7" r="0.75"/><circle cx="170.3" cy="129.5" r="0.75"/><circle cx="194.2" cy="134.1" r="0.75"/><circle cx="190.3" cy="134.8" r="0.75"/><circle cx="193.9" cy="131.2" r="0.75"/><circle cx="188.3" cy="124.3" r="0.75"/><circle cx="183.4" cy="131.1" r="0.75"/><circle cx="169.4" cy="130.7" r="0.75"/><circle cx="193.6" cy="129.7" r="0.75"/><circle cx="182.3" cy="127.6" r="0.75"/><circle cx="171.1" cy="133.9" r="0.75"/><circle cx="159.4" cy="126.2" r="0.75"/><circle cx="183.4" cy="129.3" r="0.75"/><circle cx="161.5" cy="131.6" r="0.75"/><circle cx="172.1" cy="130.8" r="0.75"/><circle cx="173.8" cy="130.2" r="0.75"/><circle cx="179.2" cy="128.7" r="0.75"/><circle cx="162.6" cy="126.1" r="0.75"/><circle cx="191.2" cy="130.4" r="0.75"/><circle cx="162.5" cy="133.7" r="0.75"/><circle cx="167.8" cy="124.8" r="0.75"/><circle cx="178.0" cy="127.0" r="0.75"/><circle cx="176.5" cy="130.5" r="0.75"/><circle cx="166.8" cy="130.7" r="0.75"/><circle cx="162.6" cy="130.0" r="0.75"/><circle cx="180.1" cy="124.6" r="0.75"/><circle cx="173.5" cy="124.5" r="0.75"/><circle cx="174.6" cy="133.7" r="0.75"/><circle cx="178.7" cy="132.2" r="0.75"/><circle cx="186.3" cy="125.1" r="0.75"/><circle cx="195.0" cy="132.2" r="0.75"/><circle cx="162.2" cy="133.3" r="0.75"/><circle cx="172.9" cy="125.9" r="0.75"/><circle cx="193.8" cy="130.6" r="0.75"/><circle cx="187.0" cy="125.4" r="0.75"/><circle cx="187.0" cy="124.2" r="0.75"/><circle cx="167.1" cy="128.4" r="0.75"/><circle cx="159.0" cy="130.9" r="0.75"/><circle cx="166.3" cy="127.6" r="0.75"/><circle cx="184.5" cy="129.1" r="0.75"/><circle cx="191.2" cy="131.2" r="0.75"/><circle cx="190.6" cy="130.6" r="0.75"/><circle cx="192.3" cy="133.7" r="0.75"/><circle cx="164.6" cy="132.5" r="0.75"/><circle cx="171.0" cy="132.7" r="0.75"/><circle cx="183.5" cy="133.3" r="0.75"/><circle cx="162.9" cy="128.5" r="0.75"/><circle cx="185.6" cy="134.5" r="0.75"/><circle cx="185.0" cy="124.0" r="0.75"/><circle cx="180.7" cy="124.9" r="0.75"/><circle cx="178.7" cy="133.1" r="0.75"/><circle cx="162.6" cy="134.3" r="0.75"/><circle cx="183.3" cy="127.0" r="0.75"/><circle cx="165.5" cy="129.3" r="0.75"/><circle cx="189.3" cy="130.8" r="0.75"/><circle cx="162.6" cy="123.5" r="0.75"/><circle cx="162.5" cy="133.0" r="0.75"/><circle cx="165.2" cy="130.5" r="0.75"/><circle cx="169.1" cy="131.9" r="0.75"/><circle cx="172.5" cy="125.5" r="0.75"/><circle cx="190.7" cy="130.3" r="0.75"/><circle cx="183.8" cy="133.1" r="0.75"/><circle cx="193.4" cy="123.4" r="0.75"/><circle cx="171.0" cy="125.6" r="0.75"/><circle cx="176.9" cy="133.8" r="0.75"/><circle cx="187.9" cy="123.8" r="0.75"/><circle cx="165.1" cy="133.2" r="0.75"/><circle cx="183.5" cy="128.7" r="0.75"/><circle cx="176.0" cy="125.7" r="0.75"/><circle cx="189.6" cy="128.7" r="0.75"/><circle cx="190.6" cy="131.1" r="0.75"/><circle cx="161.2" cy="127.9" r="0.75"/><circle cx="166.4" cy="134.0" r="0.75"/><circle cx="180.1" cy="124.0" r="0.75"/><circle cx="164.7" cy="128.3" r="0.75"/><circle cx="175.7" cy="130.7" r="0.75"/><circle cx="172.7" cy="128.2" r="0.75"/><circle cx="158.6" cy="130.8" r="0.75"/><circle cx="170.7" cy="123.5" r="0.75"/><circle cx="175.4" cy="134.9" r="0.75"/><circle cx="160.1" cy="125.6" r="0.75"/><circle cx="183.2" cy="127.2" r="0.75"/><circle cx="168.5" cy="129.9" r="0.75"/><circle cx="168.1" cy="130.6" r="0.75"/><circle cx="177.9" cy="134.6" r="0.75"/><circle cx="195.0" cy="123.8" r="0.75"/><circle cx="179.1" cy="132.7" r="0.75"/><circle cx="190.6" cy="132.8" r="0.75"/><circle cx="181.8" cy="131.3" r="0.75"/><circle cx="171.8" cy="127.4" r="0.75"/><circle cx="187.7" cy="133.8" r="0.75"/><circle cx="193.0" cy="131.8" r="0.75"/><circle cx="169.6" cy="132.7" r="0.75"/><circle cx="185.7" cy="130.0" r="0.75"/><circle cx="181.8" cy="128.2" r="0.75"/><circle cx="178.7" cy="128.8" r="0.75"/><circle cx="160.6" cy="128.0" r="0.75"/><circle cx="170.3" cy="134.9" r="0.75"/><circle cx="176.2" cy="128.4" r="0.75"/><circle cx="167.4" cy="126.8" r="0.75"/><circle cx="171.3" cy="125.4" r="0.75"/><circle cx="158.7" cy="133.7" r="0.75"/><circle cx="175.1" cy="129.3" r="0.75"/><circle cx="179.4" cy="127.6" r="0.75"/><circle cx="164.6" cy="124.4" r="0.75"/><circle cx="169.5" cy="127.7" r="0.75"/><circle cx="185.2" cy="130.5" r="0.75"/><circle cx="193.0" cy="128.1" r="0.75"/><circle cx="192.4" cy="130.8" r="0.75"/><circle cx="161.4" cy="126.0" r="0.75"/><circle cx="179.8" cy="134.9" r="0.75"/><circle cx="171.6" cy="132.8" r="0.75"/><circle cx="174.2" cy="133.7" r="0.75"/><circle cx="160.9" cy="129.7" r="0.75"/><circle cx="191.6" cy="127.3" r="0.75"/><circle cx="167.9" cy="123.6" r="0.75"/><circle cx="164.5" cy="127.2" r="0.75"/><circle cx="184.4" cy="126.6" r="0.75"/><circle cx="173.1" cy="126.3" r="0.75"/><circle cx="180.6" cy="133.7" r="0.75"/><circle cx="182.3" cy="126.3" r="0.75"/><circle cx="185.5" cy="134.6" r="0.75"/><circle cx="180.6" cy="124.6" r="0.75"/><circle cx="188.3" cy="133.8" r="0.75"/><circle cx="171.0" cy="125.4" r="0.75"/><circle cx="165.3" cy="130.3" r="0.75"/><circle cx="190.7" cy="131.4" r="0.75"/><circle cx="192.5" cy="126.5" r="0.75"/><circle cx="170.5" cy="132.5" r="0.75"/><circle cx="182.3" cy="128.8" r="0.75"/><circle cx="183.5" cy="128.0" r="0.75"/><circle cx="160.5" cy="128.9" r="0.75"/><circle cx="160.1" cy="131.3" r="0.75"/><circle cx="170.7" cy="129.8" r="0.75"/><circle cx="180.5" cy="127.0" r="0.75"/><circle cx="175.5" cy="123.4" r="0.75"/><circle cx="192.5" cy="130.6" r="0.75"/><circle cx="194.8" cy="124.2" r="0.75"/></g>
<g fill="#ff1010"><circle cx="185.1" cy="58.4" r="0.85"/><circle cx="161.9" cy="78.7" r="0.85"/><circle cx="163.7" cy="85.9" r="0.85"/><circle cx="161.8" cy="43.5" r="0.85"/><circle cx="174.0" cy="38.4" r="0.85"/><circle cx="180.1" cy="64.7" r="0.85"/><circle cx="182.6" cy="63.4" r="0.85"/><circle cx="170.6" cy="59.5" r="0.85"/><circle cx="168.0" cy="46.2" r="0.85"/><circle cx="186.5" cy="49.2" r="0.85"/><circle cx="169.8" cy="42.6" r="0.85"/><circle cx="194.4" cy="42.9" r="0.85"/><circle cx="168.7" cy="71.1" r="0.85"/><circle cx="193.0" cy="65.9" r="0.85"/><circle cx="158.8" cy="86.6" r="0.85"/><circle cx="182.6" cy="69.5" r="0.85"/><circle cx="171.8" cy="42.8" r="0.85"/><circle cx="166.9" cy="17.4" r="0.85"/><circle cx="161.8" cy="44.6" r="0.85"/><circle cx="163.4" cy="88.4" r="0.85"/><circle cx="176.9" cy="88.0" r="0.85"/><circle cx="165.2" cy="63.4" r="0.85"/><circle cx="171.9" cy="23.7" r="0.85"/><circle cx="165.0" cy="86.1" r="0.85"/><circle cx="192.3" cy="46.6" r="0.85"/><circle cx="159.6" cy="85.8" r="0.85"/><circle cx="167.4" cy="42.3" r="0.85"/><circle cx="176.8" cy="18.3" r="0.85"/><circle cx="171.1" cy="56.4" r="0.85"/><circle cx="175.4" cy="39.9" r="0.85"/><circle cx="191.7" cy="79.0" r="0.85"/><circle cx="185.4" cy="87.2" r="0.85"/><circle cx="182.2" cy="88.0" r="0.85"/><circle cx="190.2" cy="74.5" r="0.85"/><circle cx="179.2" cy="88.0" r="0.85"/><circle cx="192.2" cy="73.9" r="0.85"/><circle cx="181.5" cy="23.0" r="0.85"/><circle cx="167.7" cy="83.6" r="0.85"/><circle cx="174.4" cy="82.0" r="0.85"/><circle cx="166.0" cy="83.3" r="0.85"/><circle cx="182.1" cy="44.3" r="0.85"/><circle cx="195.0" cy="80.3" r="0.85"/><circle cx="179.4" cy="83.9" r="0.85"/><circle cx="190.2" cy="85.9" r="0.85"/><circle cx="168.3" cy="32.2" r="0.85"/><circle cx="188.7" cy="45.1" r="0.85"/><circle cx="170.7" cy="81.0" r="0.85"/><circle cx="191.2" cy="68.8" r="0.85"/><circle cx="183.6" cy="85.8" r="0.85"/><circle cx="175.1" cy="59.8" r="0.85"/><circle cx="190.9" cy="61.4" r="0.85"/><circle cx="190.9" cy="84.1" r="0.85"/><circle cx="187.1" cy="77.0" r="0.85"/><circle cx="165.2" cy="32.8" r="0.85"/><circle cx="195.0" cy="32.8" r="0.85"/><circle cx="159.4" cy="80.3" r="0.85"/><circle cx="194.3" cy="87.1" r="0.85"/><circle cx="192.0" cy="88.5" r="0.85"/><circle cx="185.5" cy="86.1" r="0.85"/><circle cx="164.7" cy="87.4" r="0.85"/><circle cx="161.8" cy="52.0" r="0.85"/><circle cx="192.2" cy="78.1" r="0.85"/><circle cx="190.9" cy="48.7" r="0.85"/><circle cx="159.7" cy="18.6" r="0.85"/><circle cx="187.6" cy="83.2" r="0.85"/><circle cx="159.9" cy="51.4" r="0.85"/><circle cx="167.0" cy="67.3" r="0.85"/><circle cx="162.3" cy="72.6" r="0.85"/><circle cx="194.9" cy="88.4" r="0.85"/><circle cx="190.7" cy="79.4" r="0.85"/><circle cx="176.4" cy="86.9" r="0.85"/><circle cx="174.2" cy="86.5" r="0.85"/><circle cx="183.7" cy="85.2" r="0.85"/><circle cx="185.6" cy="86.2" r="0.85"/><circle cx="162.6" cy="67.6" r="0.85"/><circle cx="176.7" cy="77.3" r="0.85"/><circle cx="171.3" cy="26.3" r="0.85"/><circle cx="194.0" cy="83.9" r="0.85"/><circle cx="185.3" cy="30.5" r="0.85"/><circle cx="165.0" cy="81.5" r="0.85"/><circle cx="161.0" cy="81.9" r="0.85"/><circle cx="177.2" cy="88.2" r="0.85"/><circle cx="178.9" cy="74.1" r="0.85"/><circle cx="158.9" cy="76.8" r="0.85"/><circle cx="182.5" cy="51.5" r="0.85"/><circle cx="178.6" cy="64.3" r="0.85"/><circle cx="194.6" cy="51.3" r="0.85"/><circle cx="184.8" cy="31.6" r="0.85"/><circle cx="170.2" cy="74.6" r="0.85"/><circle cx="194.2" cy="73.3" r="0.85"/><circle cx="172.6" cy="75.4" r="0.85"/><circle cx="163.7" cy="73.9" r="0.85"/><circle cx="158.7" cy="16.2" r="0.85"/><circle cx="192.5" cy="58.9" r="0.85"/><circle cx="180.9" cy="82.3" r="0.85"/><circle cx="167.3" cy="76.0" r="0.85"/><circle cx="162.8" cy="84.6" r="0.85"/><circle cx="187.3" cy="35.2" r="0.85"/><circle cx="160.3" cy="27.5" r="0.85"/><circle cx="170.4" cy="50.9" r="0.85"/><circle cx="178.6" cy="55.5" r="0.85"/><circle cx="194.2" cy="79.4" r="0.85"/><circle cx="185.9" cy="88.5" r="0.85"/><circle cx="177.2" cy="34.0" r="0.85"/><circle cx="195.0" cy="60.3" r="0.85"/><circle cx="181.6" cy="83.2" r="0.85"/><circle cx="172.4" cy="46.0" r="0.85"/><circle cx="172.9" cy="49.1" r="0.85"/><circle cx="181.0" cy="65.7" r="0.85"/><circle cx="170.3" cy="52.6" r="0.85"/><circle cx="178.4" cy="57.0" r="0.85"/><circle cx="181.0" cy="83.6" r="0.85"/><circle cx="191.9" cy="81.9" r="0.85"/><circle cx="185.0" cy="69.6" r="0.85"/><circle cx="176.0" cy="66.0" r="0.85"/><circle cx="163.7" cy="83.7" r="0.85"/><circle cx="177.9" cy="25.2" r="0.85"/><circle cx="177.9" cy="65.9" r="0.85"/><circle cx="167.3" cy="38.5" r="0.85"/><circle cx="188.7" cy="85.4" r="0.85"/><circle cx="182.0" cy="70.6" r="0.85"/><circle cx="191.3" cy="36.9" r="0.85"/><circle cx="160.1" cy="32.3" r="0.85"/><circle cx="189.0" cy="75.7" r="0.85"/><circle cx="163.0" cy="38.0" r="0.85"/><circle cx="167.7" cy="86.0" r="0.85"/><circle cx="171.6" cy="87.3" r="0.85"/><circle cx="177.6" cy="39.6" r="0.85"/><circle cx="161.7" cy="71.1" r="0.85"/><circle cx="195.1" cy="74.8" r="0.85"/><circle cx="175.0" cy="50.8" r="0.85"/><circle cx="187.8" cy="69.3" r="0.85"/><circle cx="164.0" cy="44.4" r="0.85"/><circle cx="172.0" cy="52.3" r="0.85"/><circle cx="167.2" cy="66.1" r="0.85"/><circle cx="171.0" cy="76.3" r="0.85"/><circle cx="159.2" cy="75.7" r="0.85"/><circle cx="179.4" cy="84.5" r="0.85"/><circle cx="165.0" cy="88.1" r="0.85"/><circle cx="168.6" cy="48.5" r="0.85"/><circle cx="167.4" cy="79.0" r="0.85"/><circle cx="161.9" cy="36.2" r="0.85"/><circle cx="190.0" cy="56.4" r="0.85"/><circle cx="174.0" cy="84.4" r="0.85"/><circle cx="181.2" cy="40.8" r="0.85"/><circle cx="160.1" cy="76.3" r="0.85"/><circle cx="172.0" cy="71.8" r="0.85"/><circle cx="169.3" cy="49.1" r="0.85"/><circle cx="182.3" cy="74.1" r="0.85"/><circle cx="171.4" cy="38.8" r="0.85"/><circle cx="179.7" cy="75.5" r="0.85"/><circle cx="165.5" cy="25.5" r="0.85"/><circle cx="184.6" cy="19.7" r="0.85"/><circle cx="182.9" cy="76.3" r="0.85"/><circle cx="161.1" cy="78.7" r="0.85"/><circle cx="172.4" cy="44.7" r="0.85"/><circle cx="176.7" cy="65.7" r="0.85"/><circle cx="186.3" cy="28.4" r="0.85"/><circle cx="180.3" cy="88.4" r="0.85"/><circle cx="175.5" cy="70.4" r="0.85"/><circle cx="173.7" cy="35.6" r="0.85"/><circle cx="191.2" cy="69.6" r="0.85"/><circle cx="176.5" cy="72.0" r="0.85"/><circle cx="188.8" cy="66.8" r="0.85"/><circle cx="185.7" cy="53.2" r="0.85"/><circle cx="160.0" cy="74.5" r="0.85"/><circle cx="178.8" cy="52.3" r="0.85"/><circle cx="186.8" cy="43.3" r="0.85"/><circle cx="166.6" cy="86.9" r="0.85"/><circle cx="188.5" cy="87.8" r="0.85"/><circle cx="161.7" cy="87.3" r="0.85"/><circle cx="179.2" cy="45.0" r="0.85"/><circle cx="183.5" cy="88.1" r="0.85"/><circle cx="176.2" cy="49.3" r="0.85"/><circle cx="183.9" cy="88.1" r="0.85"/><circle cx="179.9" cy="73.4" r="0.85"/><circle cx="188.5" cy="16.2" r="0.85"/><circle cx="163.8" cy="31.8" r="0.85"/><circle cx="177.5" cy="78.4" r="0.85"/><circle cx="194.8" cy="88.5" r="0.85"/><circle cx="168.1" cy="81.4" r="0.85"/><circle cx="167.9" cy="79.5" r="0.85"/><circle cx="178.9" cy="33.4" r="0.85"/><circle cx="173.9" cy="66.8" r="0.85"/><circle cx="169.7" cy="88.2" r="0.85"/><circle cx="187.9" cy="32.5" r="0.85"/><circle cx="167.9" cy="33.6" r="0.85"/><circle cx="160.4" cy="84.4" r="0.85"/><circle cx="172.2" cy="64.8" r="0.85"/><circle cx="176.4" cy="70.3" r="0.85"/><circle cx="171.9" cy="61.0" r="0.85"/><circle cx="165.8" cy="39.8" r="0.85"/><circle cx="178.9" cy="26.2" r="0.85"/><circle cx="170.0" cy="88.2" r="0.85"/><circle cx="173.5" cy="65.1" r="0.85"/><circle cx="170.4" cy="62.6" r="0.85"/><circle cx="187.7" cy="81.5" r="0.85"/><circle cx="184.6" cy="80.6" r="0.85"/><circle cx="180.2" cy="39.7" r="0.85"/><circle cx="192.8" cy="71.0" r="0.85"/><circle cx="190.7" cy="71.6" r="0.85"/><circle cx="174.4" cy="88.1" r="0.85"/><circle cx="160.3" cy="56.1" r="0.85"/><circle cx="161.1" cy="32.9" r="0.85"/><circle cx="165.1" cy="59.9" r="0.85"/><circle cx="179.1" cy="25.8" r="0.85"/><circle cx="176.8" cy="39.9" r="0.85"/><circle cx="183.3" cy="52.9" r="0.85"/><circle cx="166.2" cy="80.5" r="0.85"/><circle cx="163.8" cy="35.7" r="0.85"/><circle cx="166.1" cy="26.4" r="0.85"/><circle cx="162.0" cy="87.3" r="0.85"/><circle cx="193.4" cy="41.7" r="0.85"/><circle cx="182.7" cy="73.6" r="0.85"/><circle cx="191.7" cy="82.2" r="0.85"/><circle cx="164.2" cy="51.7" r="0.85"/><circle cx="184.0" cy="88.1" r="0.85"/><circle cx="189.2" cy="88.3" r="0.85"/><circle cx="167.0" cy="80.5" r="0.85"/><circle cx="170.2" cy="61.1" r="0.85"/><circle cx="164.2" cy="62.9" r="0.85"/><circle cx="170.4" cy="27.1" r="0.85"/><circle cx="164.1" cy="35.4" r="0.85"/><circle cx="194.5" cy="40.1" r="0.85"/><circle cx="159.7" cy="75.1" r="0.85"/><circle cx="182.0" cy="75.8" r="0.85"/><circle cx="178.5" cy="83.6" r="0.85"/><circle cx="175.5" cy="87.5" r="0.85"/><circle cx="174.3" cy="47.5" r="0.85"/><circle cx="162.7" cy="52.4" r="0.85"/><circle cx="163.0" cy="36.8" r="0.85"/><circle cx="195.1" cy="25.7" r="0.85"/><circle cx="177.8" cy="23.7" r="0.85"/><circle cx="171.3" cy="80.7" r="0.85"/><circle cx="176.7" cy="45.3" r="0.85"/><circle cx="161.9" cy="24.9" r="0.85"/><circle cx="190.2" cy="68.8" r="0.85"/><circle cx="178.3" cy="59.8" r="0.85"/><circle cx="163.6" cy="87.6" r="0.85"/><circle cx="191.3" cy="81.6" r="0.85"/><circle cx="166.8" cy="34.9" r="0.85"/><circle cx="159.7" cy="25.5" r="0.85"/><circle cx="194.0" cy="59.7" r="0.85"/><circle cx="193.2" cy="77.9" r="0.85"/><circle cx="160.3" cy="54.5" r="0.85"/><circle cx="175.0" cy="78.5" r="0.85"/><circle cx="185.7" cy="82.6" r="0.85"/><circle cx="187.4" cy="85.2" r="0.85"/><circle cx="161.0" cy="80.3" r="0.85"/><circle cx="162.0" cy="63.0" r="0.85"/><circle cx="187.4" cy="63.7" r="0.85"/><circle cx="175.4" cy="60.0" r="0.85"/><circle cx="177.3" cy="88.3" r="0.85"/><circle cx="182.2" cy="87.4" r="0.85"/><circle cx="179.7" cy="86.6" r="0.85"/><circle cx="172.3" cy="77.4" r="0.85"/><circle cx="164.5" cy="53.9" r="0.85"/><circle cx="193.1" cy="85.5" r="0.85"/><circle cx="189.4" cy="78.6" r="0.85"/><circle cx="176.1" cy="31.7" r="0.85"/><circle cx="162.0" cy="86.1" r="0.85"/><circle cx="162.8" cy="31.0" r="0.85"/><circle cx="178.2" cy="68.0" r="0.85"/><circle cx="175.7" cy="87.0" r="0.85"/><circle cx="178.2" cy="85.7" r="0.85"/><circle cx="172.0" cy="67.2" r="0.85"/><circle cx="173.3" cy="84.6" r="0.85"/><circle cx="163.2" cy="84.4" r="0.85"/><circle cx="190.5" cy="82.9" r="0.85"/><circle cx="191.2" cy="67.5" r="0.85"/><circle cx="193.1" cy="88.5" r="0.85"/><circle cx="187.5" cy="68.5" r="0.85"/><circle cx="183.8" cy="62.1" r="0.85"/><circle cx="186.0" cy="83.4" r="0.85"/><circle cx="168.2" cy="86.0" r="0.85"/><circle cx="172.9" cy="88.4" r="0.85"/><circle cx="169.2" cy="66.3" r="0.85"/><circle cx="161.6" cy="29.7" r="0.85"/><circle cx="167.1" cy="61.4" r="0.85"/><circle cx="187.3" cy="60.0" r="0.85"/><circle cx="160.8" cy="49.3" r="0.85"/><circle cx="180.5" cy="82.7" r="0.85"/><circle cx="160.0" cy="18.2" r="0.85"/><circle cx="183.9" cy="58.0" r="0.85"/><circle cx="171.1" cy="38.4" r="0.85"/><circle cx="175.4" cy="38.8" r="0.85"/><circle cx="158.9" cy="26.0" r="0.85"/><circle cx="173.6" cy="23.6" r="0.85"/><circle cx="161.7" cy="74.1" r="0.85"/><circle cx="185.4" cy="82.7" r="0.85"/><circle cx="164.1" cy="52.4" r="0.85"/><circle cx="163.7" cy="77.9" r="0.85"/><circle cx="166.6" cy="84.6" r="0.85"/><circle cx="194.3" cy="78.6" r="0.85"/><circle cx="187.6" cy="16.4" r="0.85"/><circle cx="176.8" cy="69.2" r="0.85"/><circle cx="191.8" cy="42.2" r="0.85"/><circle cx="181.9" cy="45.2" r="0.85"/><circle cx="181.4" cy="84.5" r="0.85"/><circle cx="187.4" cy="34.9" r="0.85"/><circle cx="184.8" cy="87.5" r="0.85"/><circle cx="164.5" cy="77.6" r="0.85"/><circle cx="183.2" cy="20.4" r="0.85"/><circle cx="163.5" cy="45.8" r="0.85"/><circle cx="192.9" cy="36.8" r="0.85"/><circle cx="185.8" cy="27.9" r="0.85"/><circle cx="187.9" cy="36.4" r="0.85"/><circle cx="174.5" cy="60.4" r="0.85"/><circle cx="187.3" cy="37.2" r="0.85"/><circle cx="169.5" cy="32.0" r="0.85"/></g>
<line x1="176.7" y1="38" x2="176.7" y2="88" stroke="#ff8080" stroke-width="0.5"/>
<rect x="230.5" y="3.4" width="131.7" height="132.9" fill="#fff" stroke="#dcdcdc" stroke-width="0.8"/>
<rect x="234.6" y="9.5" width="23" height="121.0" fill="#98f5ff"/>
<text x="246.1" y="15.3" font-family="'Liberation Sans', sans-serif" font-size="7.8" fill="#1a1a1a" text-anchor="middle">100%</text>
<text x="246.1" y="143.9" font-family="'Liberation Sans', sans-serif" font-size="7.5" fill="#222" text-anchor="middle">Min</text>
<line x1="246.1" y1="136.3" x2="246.1" y2="137.8" stroke="#bbb" stroke-width="0.6"/>
<rect x="260.1" y="9.6" width="23" height="120.9" fill="#8deeee"/>
<text x="271.6" y="15.4" font-family="'Liberation Sans', sans-serif" font-size="7.8" fill="#1a1a1a" text-anchor="middle">99.9%</text>
<text x="271.6" y="143.9" font-family="'Liberation Sans', sans-serif" font-size="7.5" fill="#222" text-anchor="middle">Q1</text>
<line x1="271.6" y1="136.3" x2="271.6" y2="137.8" stroke="#bbb" stroke-width="0.6"/>
<rect x="285.6" y="9.6" width="23" height="120.9" fill="#00e5ee"/>
<text x="297.1" y="15.4" font-family="'Liberation Sans', sans-serif" font-size="7.8" fill="#1a1a1a" text-anchor="middle">99.9%</text>
<text x="297.1" y="143.9" font-family="'Liberation Sans', sans-serif" font-size="7.5" fill="#222" text-anchor="middle">Med</text>
<line x1="297.1" y1="136.3" x2="297.1" y2="137.8" stroke="#bbb" stroke-width="0.6"/>
<rect x="311.1" y="9.7" width="23" height="120.8" fill="#79cdcd"/>
<text x="322.6" y="15.5" font-family="'Liberation Sans', sans-serif" font-size="7.8" fill="#1a1a1a" text-anchor="middle">99.8%</text>
<text x="322.6" y="143.9" font-family="'Liberation Sans', sans-serif" font-size="7.5" fill="#222" text-anchor="middle">Q3</text>
<line x1="322.6" y1="136.3" x2="322.6" y2="137.8" stroke="#bbb" stroke-width="0.6"/>
<rect x="336.6" y="119.5" width="23" height="11.0" fill="#528b8b"/>
<text x="348.1" y="125.3" font-family="'Liberation Sans', sans-serif" font-size="7.8" fill="#1a1a1a" text-anchor="middle">9.1%</text>
<text x="348.1" y="143.9" font-family="'Liberation Sans', sans-serif" font-size="7.5" fill="#222" text-anchor="middle">Max</text>
<line x1="348.1" y1="136.3" x2="348.1" y2="137.8" stroke="#bbb" stroke-width="0.6"/>
<text x="228.8" y="133.0" font-family="'Liberation Sans', sans-serif" font-size="8" fill="#2020ff" text-anchor="end">0</text>
<line x1="229" y1="130.5" x2="230.5" y2="130.5" stroke="#bbb" stroke-width="0.6"/>
<text x="228.8" y="102.8" font-family="'Liberation Sans', sans-serif" font-size="8" fill="#2020ff" text-anchor="end">25</text>
<line x1="229" y1="100.2" x2="230.5" y2="100.2" stroke="#bbb" stroke-width="0.6"/>
<text x="228.8" y="72.5" font-family="'Liberation Sans', sans-serif" font-size="8" fill="#2020ff" text-anchor="end">50</text>
<line x1="229" y1="70.0" x2="230.5" y2="70.0" stroke="#bbb" stroke-width="0.6"/>
<text x="228.8" y="42.2" font-family="'Liberation Sans', sans-serif" font-size="8" fill="#2020ff" text-anchor="end">75</text>
<line x1="229" y1="39.8" x2="230.5" y2="39.8" stroke="#bbb" stroke-width="0.6"/>
<text x="228.8" y="12.0" font-family="'Liberation Sans', sans-serif" font-size="8" fill="#2020ff" text-anchor="end">100</text>
<line x1="229" y1="9.5" x2="230.5" y2="9.5" stroke="#bbb" stroke-width="0.6"/>
<text x="364.8" y="133.0" font-family="'Liberation Sans', sans-serif" font-size="8" fill="#ff2020" text-anchor="start">0.00</text>
<line x1="362.2" y1="130.5" x2="363.8" y2="130.5" stroke="#bbb" stroke-width="0.6"/>
<text x="364.8" y="102.8" font-family="'Liberation Sans', sans-serif" font-size="8" fill="#ff2020" text-anchor="start">0.25</text>
<line x1="362.2" y1="100.2" x2="363.8" y2="100.2" stroke="#bbb" stroke-width="0.6"/>
<text x="364.8" y="72.5" font-family="'Liberation Sans', sans-serif" font-size="8" fill="#ff2020" text-anchor="start">0.50</text>
<line x1="362.2" y1="70.0" x2="363.8" y2="70.0" stroke="#bbb" stroke-width="0.6"/>
<text x="364.8" y="42.2" font-family="'Liberation Sans', sans-serif" font-size="8" fill="#ff2020" text-anchor="start">0.75</text>
<line x1="362.2" y1="39.8" x2="363.8" y2="39.8" stroke="#bbb" stroke-width="0.6"/>
<text x="364.8" y="12.0" font-family="'Liberation Sans', sans-serif" font-size="8" fill="#ff2020" text-anchor="start">1.00</text>
<line x1="362.2" y1="9.5" x2="363.8" y2="9.5" stroke="#bbb" stroke-width="0.6"/>
<polyline points="246.1,40.2 271.6,35.2 297.1,27.4 322.6,19.5 348.1,9.5" fill="none" stroke="#e83030" stroke-width="0.9"/>
<circle cx="246.1" cy="40.2" r="2.1" fill="#ee1111"/>
<circle cx="271.6" cy="35.2" r="2.1" fill="#ee1111"/>
<circle cx="297.1" cy="27.4" r="2.1" fill="#ee1111"/>
<circle cx="322.6" cy="19.5" r="2.1" fill="#ee1111"/>
<circle cx="348.1" cy="9.5" r="2.1" fill="#ee1111"/>
<text transform="translate(213.1,69.4) rotate(-90)" font-family="'Liberation Sans', sans-serif" font-size="7.7" font-weight="bold" fill="#0000ff" stroke="#0000ff" stroke-width="0.12" text-anchor="middle">% of tumors higher than normal</text>
<text transform="translate(384.4,70.6) rotate(90)" font-family="'Liberation Sans', sans-serif" font-size="7.7" font-weight="bold" fill="#ff0000" stroke="#ff0000" stroke-width="0.12" text-anchor="middle">Specificity (T/T+N over cutoff)</text>
<text x="296.7" y="156.6" font-family="'Liberation Sans', sans-serif" font-size="7.4" fill="#111" font-weight="bold" text-anchor="middle">Cut-off in normal tissues</text>
<text x="102.7" y="174.6" font-family="'Liberation Serif', serif" font-size="8.0" fill="#1a1a1a" font-weight="bold" textLength="14.9" lengthAdjust="spacingAndGlyphs">Min</text>
<text x="134.9" y="174.6" font-family="'Liberation Serif', serif" font-size="8.0" fill="#1a1a1a" font-weight="bold" textLength="10.9" lengthAdjust="spacingAndGlyphs">Q1</text>
<text x="159.2" y="174.6" font-family="'Liberation Serif', serif" font-size="8.0" fill="#1a1a1a" font-weight="bold" textLength="17.3" lengthAdjust="spacingAndGlyphs">Med</text>
<text x="202" y="174.6" font-family="'Liberation Serif', serif" font-size="8.0" fill="#1a1a1a" font-weight="bold" textLength="8.6" lengthAdjust="spacingAndGlyphs">Q3</text>
<text x="231.4" y="174.6" font-family="'Liberation Serif', serif" font-size="8.0" fill="#1a1a1a" font-weight="bold" textLength="16.8" lengthAdjust="spacingAndGlyphs">Max</text>
<text x="268.2" y="174.6" font-family="'Liberation Serif', serif" font-size="8.0" fill="#1a1a1a" font-weight="bold" textLength="53.4" lengthAdjust="spacingAndGlyphs">Upper whisker</text>
<text x="351.9" y="174.6" font-family="'Liberation Serif', serif" font-size="8.0" fill="#1a1a1a" font-weight="bold" textLength="6.1" lengthAdjust="spacingAndGlyphs">N</text>
<text x="53.7" y="191.0" font-family="'Liberation Serif', serif" font-size="8.0" fill="#2a2a2a" textLength="26.9" lengthAdjust="spacingAndGlyphs">Normal</text>
<text x="53.7" y="204.5" font-family="'Liberation Serif', serif" font-size="8.0" fill="#2a2a2a" textLength="23.4" lengthAdjust="spacingAndGlyphs">Tumor</text>
<text x="115.8" y="191.0" font-family="'Liberation Serif', serif" font-size="8.0" fill="#2a2a2a" textLength="3.0" lengthAdjust="spacingAndGlyphs">1</text>
<text x="143.6" y="191.0" font-family="'Liberation Serif', serif" font-size="8.0" fill="#2a2a2a" textLength="3.2" lengthAdjust="spacingAndGlyphs">4</text>
<text x="176.3" y="191.0" font-family="'Liberation Serif', serif" font-size="8.0" fill="#2a2a2a" textLength="3.1" lengthAdjust="spacingAndGlyphs">9</text>
<text x="205.4" y="191.0" font-family="'Liberation Serif', serif" font-size="8.0" fill="#2a2a2a" textLength="6.4" lengthAdjust="spacingAndGlyphs">27</text>
<text x="233.5" y="191.0" font-family="'Liberation Serif', serif" font-size="8.0" fill="#2a2a2a" textLength="14.7" lengthAdjust="spacingAndGlyphs">2521</text>
<text x="316.3" y="191.0" font-family="'Liberation Serif', serif" font-size="8.0" fill="#2a2a2a" textLength="7.0" lengthAdjust="spacingAndGlyphs">58</text>
<text x="348" y="191.0" font-family="'Liberation Serif', serif" font-size="8.0" fill="#2a2a2a" textLength="11.6" lengthAdjust="spacingAndGlyphs">403</text>
<text x="115.8" y="204.5" font-family="'Liberation Serif', serif" font-size="8.0" fill="#2a2a2a" textLength="3.4" lengthAdjust="spacingAndGlyphs">3</text>
<text x="134.1" y="204.5" font-family="'Liberation Serif', serif" font-size="8.0" fill="#2a2a2a" textLength="12.7" lengthAdjust="spacingAndGlyphs">334</text>
<text x="167.5" y="204.5" font-family="'Liberation Serif', serif" font-size="8.0" fill="#2a2a2a" textLength="11.9" lengthAdjust="spacingAndGlyphs">717</text>
<text x="200" y="204.5" font-family="'Liberation Serif', serif" font-size="8.0" fill="#2a2a2a" textLength="11.8" lengthAdjust="spacingAndGlyphs">1370</text>
<text x="230.6" y="204.5" font-family="'Liberation Serif', serif" font-size="8.0" fill="#2a2a2a" textLength="17.6" lengthAdjust="spacingAndGlyphs">16442</text>
<text x="306.9" y="204.5" font-family="'Liberation Serif', serif" font-size="8.0" fill="#2a2a2a" textLength="15.9" lengthAdjust="spacingAndGlyphs">2924</text>
<text x="344.9" y="204.5" font-family="'Liberation Serif', serif" font-size="8.0" fill="#2a2a2a" textLength="14.7" lengthAdjust="spacingAndGlyphs">1097</text>
<defs>
<filter id="gd" x="0" y="0" width="100%" height="100%" color-interpolation-filters="sRGB"><feTurbulence type="fractalNoise" baseFrequency="0.55" numOctaves="2" seed="3" result="n0"/><feGaussianBlur in="n0" stdDeviation="0.4" result="n"/><feColorMatrix in="n" type="matrix" values="0 0 0 0 0.6 0 0 0 0 0.62 0 0 0 0 0.8 2.0 0 0 0 -0.8" result="c"/><feComposite in="c" in2="SourceGraphic" operator="in"/></filter>
<filter id="gl" x="0" y="0" width="100%" height="100%" color-interpolation-filters="sRGB"><feTurbulence type="fractalNoise" baseFrequency="0.6" numOctaves="2" seed="5" result="n0"/><feGaussianBlur in="n0" stdDeviation="0.4" result="n"/><feColorMatrix in="n" type="matrix" values="0 0 0 0 1 0 0 0 0 1 0 0 0 0 1 2.6 0 0 0 -1.05" result="c"/><feComposite in="c" in2="SourceGraphic" operator="in"/></filter>
<filter id="gbd" x="0" y="0" width="100%" height="100%" color-interpolation-filters="sRGB"><feTurbulence type="fractalNoise" baseFrequency="0.6" numOctaves="2" seed="21" result="n0"/><feGaussianBlur in="n0" stdDeviation="0.4" result="n"/><feColorMatrix in="n" type="matrix" values="0 0 0 0 0.68 0 0 0 0 0.7 0 0 0 0 0.82 1.6 0 0 0 -0.6" result="c"/><feComposite in="c" in2="SourceGraphic" operator="in"/></filter>
<filter id="gdd" x="0" y="0" width="100%" height="100%" color-interpolation-filters="sRGB"><feTurbulence type="fractalNoise" baseFrequency="0.7" numOctaves="2" seed="23" result="n0"/><feGaussianBlur in="n0" stdDeviation="0.4" result="n"/><feColorMatrix in="n" type="matrix" values="0 0 0 0 0.52 0 0 0 0 0.53 0 0 0 0 0.65 2.3 0 0 0 -0.9" result="c"/><feComposite in="c" in2="SourceGraphic" operator="in"/></filter>
<filter id="gcd" x="0" y="0" width="100%" height="100%" color-interpolation-filters="sRGB"><feTurbulence type="fractalNoise" baseFrequency="0.6" numOctaves="2" seed="7" result="n0"/><feGaussianBlur in="n0" stdDeviation="0.4" result="n"/><feColorMatrix in="n" type="matrix" values="0 0 0 0 0.66 0 0 0 0 0.63 0 0 0 0 0.67 1.8 0 0 0 -0.7" result="c"/><feComposite in="c" in2="SourceGraphic" operator="in"/></filter>
<filter id="ged" x="0" y="0" width="100%" height="100%" color-interpolation-filters="sRGB"><feTurbulence type="fractalNoise" baseFrequency="0.45" numOctaves="2" seed="13" result="n0"/><feGaussianBlur in="n0" stdDeviation="0.4" result="n"/><feColorMatrix in="n" type="matrix" values="0 0 0 0 0.58 0 0 0 0 0.58 0 0 0 0 0.65 2.2 0 0 0 -0.85" result="c"/><feComposite in="c" in2="SourceGraphic" operator="in"/></filter>
<filter id="gel" x="0" y="0" width="100%" height="100%" color-interpolation-filters="sRGB"><feTurbulence type="fractalNoise" baseFrequency="0.22" numOctaves="2" seed="14" result="n0"/><feGaussianBlur in="n0" stdDeviation="0.4" result="n"/><feColorMatrix in="n" type="matrix" values="0 0 0 0 1 0 0 0 0 1 0 0 0 0 1 3.2 0 0 0 -1.55" result="c"/><feComposite in="c" in2="SourceGraphic" operator="in"/></filter>
<clipPath id="cb"><ellipse cx="66.6" cy="260.5" rx="37" ry="38.2"/></clipPath>
<clipPath id="cd"><path d="M44,312 C58,305 84,304 95,316 C104,328 104,350 101,366 C96,380 82,387 64,386 C46,385 33,375 32,358 C30,340 32,322 44,312Z"/></clipPath>
<clipPath id="ce"><ellipse cx="260.5" cy="343.6" rx="40.9" ry="41.2"/></clipPath>
<filter id="blur1"><feGaussianBlur stdDeviation="1.8"/></filter>
<filter id="blur05"><feGaussianBlur stdDeviation="0.5"/></filter>
</defs>
<rect x="17" y="218.4" width="93.6" height="82.2" fill="#f4f4f5"/>
<ellipse cx="66.6" cy="260.5" rx="37" ry="38.2" fill="#dfe0ea"/>
<g clip-path="url(#cb)"><g filter="url(#blur1)" stroke="#b0b5da" stroke-width="4.5" fill="none" opacity="0.7"><path d="M69.9,225 L59.7,254.7"/><path d="M59.7,254.7 L38.2,279.2"/><path d="M38.2,279.2 L32,288"/><path d="M59.7,254.7 L66.8,273"/><path d="M66.8,273 L82,292"/><path d="M59.7,254.7 L77,244.5"/><path d="M44.4,240.4 L59.7,254.7"/></g><g filter="url(#blur1)" fill="#c2c6e2" opacity="0.7"><ellipse cx="90" cy="240" rx="10" ry="9"/><ellipse cx="45" cy="236" rx="10" ry="8"/><ellipse cx="52" cy="248" rx="8" ry="6"/></g></g>
<ellipse cx="66.6" cy="260.5" rx="37" ry="38.2" fill="#fff" filter="url(#gbd)"/>
<ellipse cx="66.6" cy="260.5" rx="37" ry="38.2" fill="#fff" filter="url(#gl)" opacity="0.35"/>
<g filter="url(#blur05)">
<circle cx="57.0" cy="251.9" r="0.7" fill="#9298c8"/><circle cx="67.9" cy="237.3" r="0.6" fill="#868dc0"/><circle cx="35.1" cy="254.8" r="0.7" fill="#7a82ba"/><circle cx="52.9" cy="260.4" r="0.5" fill="#7a82ba"/><circle cx="90.7" cy="236.3" r="0.5" fill="#7a82ba"/><circle cx="91.4" cy="248.0" r="0.8" fill="#7a82ba"/><circle cx="59.0" cy="253.9" r="0.5" fill="#868dc0"/><circle cx="91.0" cy="234.3" r="0.5" fill="#a0a6ce"/><circle cx="54.3" cy="237.2" r="0.8" fill="#7a82ba"/><circle cx="60.3" cy="250.4" r="0.5" fill="#7a82ba"/><circle cx="71.1" cy="277.1" r="0.6" fill="#9298c8"/><circle cx="64.7" cy="235.1" r="0.9" fill="#9298c8"/><circle cx="68.2" cy="230.8" r="0.6" fill="#868dc0"/><circle cx="41.9" cy="243.2" r="0.8" fill="#9298c8"/><circle cx="69.1" cy="279.2" r="0.8" fill="#9298c8"/><circle cx="43.1" cy="235.8" r="0.7" fill="#a0a6ce"/><circle cx="71.5" cy="278.4" r="0.8" fill="#868dc0"/><circle cx="41.3" cy="274.6" r="0.8" fill="#7a82ba"/><circle cx="101.7" cy="251.0" r="0.7" fill="#9298c8"/><circle cx="93.7" cy="244.2" r="0.5" fill="#9298c8"/><circle cx="59.5" cy="226.2" r="0.5" fill="#7a82ba"/><circle cx="48.1" cy="266.6" r="0.9" fill="#868dc0"/><circle cx="61.6" cy="258.8" r="0.7" fill="#7a82ba"/><circle cx="46.4" cy="266.1" r="0.6" fill="#868dc0"/><circle cx="44.1" cy="283.6" r="0.5" fill="#9298c8"/><circle cx="53.3" cy="265.5" r="0.8" fill="#868dc0"/><circle cx="46.4" cy="268.8" r="0.5" fill="#a0a6ce"/><circle cx="47.4" cy="233.8" r="0.5" fill="#868dc0"/><circle cx="45.7" cy="269.8" r="0.7" fill="#868dc0"/><circle cx="61.6" cy="272.6" r="0.7" fill="#7a82ba"/><circle cx="77.3" cy="247.2" r="0.6" fill="#868dc0"/><circle cx="45.5" cy="247.1" r="0.7" fill="#7a82ba"/><circle cx="49.2" cy="262.5" r="0.8" fill="#9298c8"/><circle cx="48.0" cy="236.2" r="0.6" fill="#9298c8"/><circle cx="63.3" cy="228.4" r="0.8" fill="#868dc0"/><circle cx="77.1" cy="228.9" r="0.9" fill="#868dc0"/><circle cx="64.7" cy="234.6" r="0.8" fill="#9298c8"/><circle cx="74.4" cy="248.5" r="0.5" fill="#868dc0"/><circle cx="60.8" cy="270.9" r="0.7" fill="#868dc0"/><circle cx="61.2" cy="263.9" r="0.6" fill="#a0a6ce"/><circle cx="97.9" cy="250.3" r="0.7" fill="#9298c8"/><circle cx="67.1" cy="242.2" r="0.6" fill="#9298c8"/><circle cx="61.6" cy="251.6" r="0.5" fill="#7a82ba"/><circle cx="65.9" cy="258.8" r="0.6" fill="#7a82ba"/><circle cx="69.2" cy="225.1" r="0.8" fill="#9298c8"/><circle cx="74.7" cy="281.3" r="0.6" fill="#868dc0"/><circle cx="66.4" cy="232.5" r="0.8" fill="#9298c8"/><circle cx="68.6" cy="239.1" r="0.6" fill="#a0a6ce"/><circle cx="33.2" cy="270.6" r="0.6" fill="#7a82ba"/><circle cx="71.7" cy="275.2" r="0.9" fill="#a0a6ce"/><circle cx="73.8" cy="245.1" r="0.8" fill="#a0a6ce"/><circle cx="86.9" cy="241.5" r="0.9" fill="#868dc0"/><circle cx="45.5" cy="268.5" r="0.5" fill="#868dc0"/><circle cx="97.6" cy="248.0" r="0.5" fill="#a0a6ce"/><circle cx="34.9" cy="273.5" r="0.8" fill="#868dc0"/><circle cx="45.6" cy="240.9" r="0.8" fill="#7a82ba"/><circle cx="58.7" cy="286.8" r="0.6" fill="#7a82ba"/><circle cx="41.7" cy="276.7" r="0.7" fill="#868dc0"/><circle cx="40.6" cy="245.5" r="0.5" fill="#9298c8"/><circle cx="50.6" cy="249.3" r="0.9" fill="#7a82ba"/><circle cx="35.3" cy="265.1" r="0.6" fill="#9298c8"/><circle cx="49.4" cy="287.3" r="0.5" fill="#868dc0"/><circle cx="47.7" cy="231.5" r="0.8" fill="#868dc0"/><circle cx="57.9" cy="225.6" r="0.7" fill="#9298c8"/><circle cx="53.0" cy="227.9" r="0.7" fill="#7a82ba"/><circle cx="60.2" cy="238.3" r="0.8" fill="#a0a6ce"/><circle cx="88.4" cy="236.1" r="0.8" fill="#a0a6ce"/><circle cx="49.3" cy="266.5" r="0.5" fill="#a0a6ce"/><circle cx="72.9" cy="280.6" r="0.6" fill="#868dc0"/><circle cx="63.7" cy="235.0" r="0.5" fill="#9298c8"/><circle cx="81.4" cy="231.6" r="0.7" fill="#7a82ba"/><circle cx="98.4" cy="245.4" r="0.6" fill="#a0a6ce"/><circle cx="75.6" cy="243.0" r="0.8" fill="#a0a6ce"/><circle cx="44.7" cy="239.6" r="0.6" fill="#868dc0"/><circle cx="73.2" cy="228.4" r="0.8" fill="#a0a6ce"/><circle cx="61.4" cy="267.4" r="0.7" fill="#9298c8"/><circle cx="34.7" cy="261.6" r="0.6" fill="#868dc0"/><circle cx="45.9" cy="241.1" r="0.5" fill="#9298c8"/><circle cx="66.4" cy="233.8" r="0.6" fill="#a0a6ce"/><circle cx="39.9" cy="279.9" r="0.8" fill="#9298c8"/><circle cx="39.7" cy="241.8" r="0.6" fill="#9298c8"/><circle cx="66.5" cy="271.1" r="0.8" fill="#868dc0"/><circle cx="76.8" cy="285.4" r="0.5" fill="#9298c8"/><circle cx="74.3" cy="245.8" r="0.5" fill="#868dc0"/><circle cx="73.2" cy="248.1" r="0.6" fill="#9298c8"/><circle cx="83.4" cy="291.4" r="0.6" fill="#868dc0"/><circle cx="61.3" cy="241.9" r="0.8" fill="#9298c8"/><circle cx="79.0" cy="290.5" r="0.5" fill="#868dc0"/><circle cx="82.6" cy="241.2" r="0.5" fill="#a0a6ce"/><circle cx="59.2" cy="256.5" r="0.6" fill="#7a82ba"/><circle cx="62.0" cy="244.7" r="0.5" fill="#7a82ba"/><circle cx="63.6" cy="257.5" r="0.7" fill="#a0a6ce"/><circle cx="33.4" cy="259.9" r="0.6" fill="#7a82ba"/><circle cx="72.6" cy="252.3" r="0.5" fill="#a0a6ce"/><circle cx="54.4" cy="230.8" r="0.7" fill="#7a82ba"/><circle cx="43.2" cy="244.2" r="0.7" fill="#868dc0"/><circle cx="77.3" cy="247.8" r="0.8" fill="#868dc0"/><circle cx="61.5" cy="248.8" r="0.7" fill="#a0a6ce"/><circle cx="61.7" cy="267.2" r="0.7" fill="#868dc0"/><circle cx="73.7" cy="245.8" r="0.7" fill="#868dc0"/><circle cx="53.5" cy="251.6" r="0.6" fill="#9298c8"/><circle cx="79.3" cy="282.7" r="0.5" fill="#7a82ba"/><circle cx="72.1" cy="246.9" r="0.7" fill="#9298c8"/><circle cx="38.1" cy="241.7" r="0.9" fill="#7a82ba"/><circle cx="71.8" cy="251.9" r="0.8" fill="#868dc0"/><circle cx="51.6" cy="235.4" r="0.5" fill="#868dc0"/><circle cx="84.7" cy="260.9" r="0.6" fill="#9298c8"/><circle cx="61.6" cy="253.8" r="0.6" fill="#868dc0"/><circle cx="42.7" cy="261.1" r="0.6" fill="#9298c8"/><circle cx="82.3" cy="236.5" r="0.6" fill="#a0a6ce"/><circle cx="70.3" cy="277.9" r="0.6" fill="#a0a6ce"/><circle cx="92.3" cy="237.9" r="0.5" fill="#a0a6ce"/><circle cx="93.4" cy="247.3" r="0.7" fill="#a0a6ce"/><circle cx="62.0" cy="251.5" r="0.5" fill="#868dc0"/><circle cx="33.9" cy="273.6" r="0.7" fill="#7a82ba"/><circle cx="67.8" cy="240.5" r="0.7" fill="#a0a6ce"/><circle cx="64.3" cy="266.0" r="0.8" fill="#7a82ba"/><circle cx="53.9" cy="236.3" r="0.7" fill="#7a82ba"/><circle cx="76.4" cy="226.9" r="0.8" fill="#a0a6ce"/><circle cx="69.4" cy="248.8" r="0.5" fill="#868dc0"/><circle cx="93.4" cy="240.4" r="0.5" fill="#7a82ba"/><circle cx="51.5" cy="252.4" r="0.8" fill="#9298c8"/><circle cx="55.0" cy="234.6" r="0.5" fill="#a0a6ce"/><circle cx="42.8" cy="274.9" r="0.5" fill="#868dc0"/><circle cx="41.6" cy="276.7" r="0.8" fill="#9298c8"/><circle cx="68.5" cy="233.3" r="0.8" fill="#868dc0"/><circle cx="37.7" cy="282.4" r="0.6" fill="#868dc0"/><circle cx="65.5" cy="240.3" r="0.5" fill="#7a82ba"/><circle cx="44.4" cy="280.3" r="0.6" fill="#a0a6ce"/><circle cx="82.5" cy="236.5" r="0.5" fill="#7a82ba"/><circle cx="72.5" cy="273.2" r="0.5" fill="#9298c8"/><circle cx="43.6" cy="274.1" r="0.7" fill="#868dc0"/><circle cx="60.3" cy="255.8" r="0.7" fill="#7a82ba"/><circle cx="56.5" cy="253.2" r="0.8" fill="#7a82ba"/><circle cx="62.3" cy="230.3" r="0.7" fill="#a0a6ce"/><circle cx="62.2" cy="266.0" r="0.5" fill="#868dc0"/><circle cx="49.3" cy="237.3" r="0.7" fill="#a0a6ce"/><circle cx="56.3" cy="254.8" r="0.8" fill="#a0a6ce"/><circle cx="37.7" cy="267.8" r="0.8" fill="#7a82ba"/><circle cx="53.5" cy="259.2" r="0.9" fill="#a0a6ce"/><circle cx="76.3" cy="282.7" r="0.7" fill="#9298c8"/><circle cx="60.0" cy="260.0" r="0.7" fill="#868dc0"/><circle cx="77.9" cy="227.2" r="0.7" fill="#868dc0"/><circle cx="96.5" cy="243.9" r="0.8" fill="#868dc0"/><circle cx="75.9" cy="286.7" r="0.8" fill="#9298c8"/><circle cx="69.8" cy="275.3" r="0.8" fill="#9298c8"/><circle cx="55.8" cy="258.7" r="0.8" fill="#9298c8"/><circle cx="33.2" cy="264.1" r="0.8" fill="#a0a6ce"/><circle cx="55.4" cy="249.9" r="0.8" fill="#7a82ba"/><circle cx="93.8" cy="237.7" r="0.5" fill="#868dc0"/><circle cx="53.9" cy="239.2" r="0.5" fill="#868dc0"/><circle cx="78.0" cy="243.1" r="0.5" fill="#9298c8"/><circle cx="42.1" cy="239.8" r="0.9" fill="#868dc0"/><circle cx="55.1" cy="239.1" r="0.7" fill="#a0a6ce"/><circle cx="50.9" cy="272.5" r="0.8" fill="#a0a6ce"/><circle cx="98.4" cy="243.9" r="0.5" fill="#868dc0"/><circle cx="72.5" cy="280.8" r="0.6" fill="#9298c8"/><circle cx="60.3" cy="260.9" r="0.8" fill="#a0a6ce"/><circle cx="62.9" cy="259.4" r="0.6" fill="#7a82ba"/><circle cx="64.0" cy="231.9" r="0.7" fill="#7a82ba"/><circle cx="42.3" cy="241.2" r="0.5" fill="#9298c8"/><circle cx="68.5" cy="231.8" r="0.5" fill="#7a82ba"/><circle cx="31.3" cy="263.6" r="0.7" fill="#868dc0"/><circle cx="88.8" cy="247.0" r="0.5" fill="#868dc0"/><circle cx="53.6" cy="262.6" r="0.7" fill="#9298c8"/><circle cx="69.0" cy="225.4" r="0.8" fill="#9298c8"/><circle cx="69.0" cy="270.6" r="0.7" fill="#9298c8"/><circle cx="73.7" cy="246.4" r="0.8" fill="#7a82ba"/><circle cx="63.5" cy="250.8" r="0.7" fill="#a0a6ce"/><circle cx="38.4" cy="268.2" r="0.7" fill="#9298c8"/><circle cx="52.1" cy="254.6" r="0.9" fill="#868dc0"/><circle cx="44.2" cy="275.4" r="0.5" fill="#a0a6ce"/><circle cx="50.7" cy="273.4" r="0.8" fill="#a0a6ce"/><circle cx="81.5" cy="285.1" r="0.7" fill="#868dc0"/><circle cx="54.7" cy="263.1" r="0.8" fill="#9298c8"/><circle cx="50.8" cy="247.5" r="0.5" fill="#7a82ba"/><circle cx="67.0" cy="248.4" r="0.8" fill="#9298c8"/><circle cx="53.8" cy="264.1" r="0.8" fill="#9298c8"/><circle cx="33.8" cy="271.5" r="0.5" fill="#868dc0"/><circle cx="60.4" cy="261.4" r="0.5" fill="#7a82ba"/><circle cx="67.9" cy="286.7" r="0.6" fill="#7a82ba"/><circle cx="68.5" cy="250.3" r="0.7" fill="#9298c8"/><circle cx="62.3" cy="229.2" r="0.7" fill="#a0a6ce"/><circle cx="62.0" cy="256.0" r="0.8" fill="#a0a6ce"/><circle cx="68.9" cy="270.4" r="0.8" fill="#a0a6ce"/><circle cx="36.2" cy="272.6" r="0.5" fill="#7a82ba"/><circle cx="82.9" cy="238.8" r="0.5" fill="#868dc0"/><circle cx="65.6" cy="252.5" r="0.7" fill="#868dc0"/><circle cx="68.4" cy="247.5" r="0.7" fill="#7a82ba"/><circle cx="47.5" cy="238.6" r="0.9" fill="#9298c8"/><circle cx="71.7" cy="287.0" r="0.8" fill="#7a82ba"/><circle cx="38.2" cy="272.1" r="0.5" fill="#868dc0"/><circle cx="68.1" cy="271.3" r="0.6" fill="#868dc0"/><circle cx="53.2" cy="225.8" r="0.7" fill="#a0a6ce"/><circle cx="67.5" cy="273.6" r="0.7" fill="#a0a6ce"/><circle cx="83.7" cy="293.4" r="0.7" fill="#9298c8"/><circle cx="40.0" cy="282.3" r="0.8" fill="#868dc0"/><circle cx="83.1" cy="238.3" r="0.5" fill="#7a82ba"/><circle cx="48.2" cy="269.8" r="0.6" fill="#a0a6ce"/><circle cx="65.6" cy="239.1" r="0.6" fill="#a0a6ce"/><circle cx="91.2" cy="242.4" r="0.6" fill="#9298c8"/><circle cx="64.6" cy="249.4" r="0.6" fill="#a0a6ce"/><circle cx="62.1" cy="257.1" r="0.8" fill="#868dc0"/><circle cx="62.0" cy="253.2" r="0.6" fill="#a0a6ce"/><circle cx="44.9" cy="241.5" r="0.6" fill="#a0a6ce"/><circle cx="70.0" cy="268.0" r="0.8" fill="#7a82ba"/><circle cx="77.0" cy="244.5" r="0.8" fill="#7a82ba"/><circle cx="41.7" cy="243.5" r="0.8" fill="#9298c8"/><circle cx="85.0" cy="228.9" r="0.7" fill="#9298c8"/><circle cx="78.8" cy="287.4" r="0.6" fill="#a0a6ce"/><circle cx="90.1" cy="246.6" r="0.5" fill="#9298c8"/><circle cx="45.6" cy="267.8" r="0.8" fill="#9298c8"/><circle cx="45.5" cy="270.0" r="0.5" fill="#7a82ba"/><circle cx="62.6" cy="271.6" r="0.5" fill="#7a82ba"/><circle cx="39.4" cy="275.1" r="0.6" fill="#7a82ba"/><circle cx="48.7" cy="239.0" r="0.7" fill="#9298c8"/><circle cx="65.4" cy="265.1" r="0.7" fill="#7a82ba"/><circle cx="36.7" cy="253.3" r="0.7" fill="#a0a6ce"/><circle cx="74.8" cy="283.5" r="0.5" fill="#a0a6ce"/><circle cx="93.5" cy="237.6" r="0.6" fill="#868dc0"/><circle cx="79.9" cy="233.6" r="0.7" fill="#7a82ba"/><circle cx="35.2" cy="256.7" r="0.8" fill="#7a82ba"/><circle cx="80.9" cy="288.2" r="0.7" fill="#868dc0"/><circle cx="78.6" cy="245.0" r="0.6" fill="#a0a6ce"/><circle cx="38.5" cy="272.2" r="0.9" fill="#9298c8"/><circle cx="37.2" cy="261.4" r="0.9" fill="#9298c8"/><circle cx="53.4" cy="253.8" r="0.9" fill="#a0a6ce"/><circle cx="64.0" cy="225.3" r="0.9" fill="#9298c8"/><circle cx="95.5" cy="249.8" r="0.8" fill="#9298c8"/><circle cx="55.6" cy="238.5" r="0.8" fill="#868dc0"/><circle cx="32.6" cy="270.7" r="0.6" fill="#7a82ba"/><circle cx="73.3" cy="251.0" r="0.5" fill="#9298c8"/><circle cx="62.7" cy="260.2" r="0.6" fill="#a0a6ce"/><circle cx="54.4" cy="250.0" r="0.7" fill="#7a82ba"/><circle cx="72.4" cy="243.7" r="0.5" fill="#868dc0"/><circle cx="53.8" cy="261.8" r="0.8" fill="#a0a6ce"/><circle cx="49.1" cy="248.7" r="0.5" fill="#9298c8"/><circle cx="77.6" cy="284.1" r="0.6" fill="#9298c8"/><circle cx="82.3" cy="237.6" r="0.7" fill="#a0a6ce"/><circle cx="36.5" cy="243.3" r="0.9" fill="#9298c8"/><circle cx="44.2" cy="269.1" r="0.6" fill="#9298c8"/><circle cx="76.8" cy="251.1" r="0.8" fill="#7a82ba"/><circle cx="88.1" cy="231.0" r="0.7" fill="#9298c8"/><circle cx="86.6" cy="235.7" r="0.5" fill="#a0a6ce"/><circle cx="54.1" cy="249.8" r="0.5" fill="#9298c8"/><circle cx="98.9" cy="253.1" r="0.5" fill="#9298c8"/><circle cx="43.6" cy="270.4" r="0.9" fill="#9298c8"/><circle cx="62.8" cy="250.2" r="0.6" fill="#7a82ba"/><circle cx="70.4" cy="279.2" r="0.8" fill="#a0a6ce"/><circle cx="89.1" cy="236.6" r="0.8" fill="#7a82ba"/><circle cx="63.9" cy="238.1" r="0.6" fill="#868dc0"/><circle cx="67.2" cy="223.9" r="0.8" fill="#a0a6ce"/><circle cx="41.8" cy="272.6" r="0.9" fill="#9298c8"/><circle cx="71.7" cy="276.2" r="0.6" fill="#a0a6ce"/><circle cx="89.6" cy="280.8" r="0.7" fill="#7a82ba"/><circle cx="78.1" cy="237.2" r="0.7" fill="#7a82ba"/><circle cx="54.0" cy="262.9" r="0.8" fill="#868dc0"/><circle cx="43.9" cy="244.2" r="0.8" fill="#9298c8"/><circle cx="74.8" cy="231.7" r="0.7" fill="#7a82ba"/><circle cx="79.4" cy="247.4" r="0.8" fill="#868dc0"/><circle cx="49.7" cy="265.9" r="0.9" fill="#a0a6ce"/><circle cx="68.4" cy="275.5" r="0.6" fill="#7a82ba"/><circle cx="41.2" cy="282.6" r="0.6" fill="#9298c8"/><circle cx="49.9" cy="246.7" r="0.5" fill="#a0a6ce"/><circle cx="44.3" cy="276.6" r="0.6" fill="#a0a6ce"/><circle cx="47.0" cy="269.7" r="0.8" fill="#7a82ba"/><circle cx="75.2" cy="248.4" r="0.9" fill="#9298c8"/><circle cx="50.1" cy="269.5" r="0.7" fill="#868dc0"/><circle cx="36.1" cy="269.3" r="0.8" fill="#868dc0"/><circle cx="67.7" cy="230.3" r="0.6" fill="#9298c8"/><circle cx="56.3" cy="259.0" r="0.9" fill="#a0a6ce"/><circle cx="83.9" cy="274.9" r="0.8" fill="#a0a6ce"/><circle cx="64.2" cy="236.0" r="0.6" fill="#9298c8"/><circle cx="45.7" cy="233.5" r="0.7" fill="#868dc0"/><circle cx="51.7" cy="264.7" r="0.5" fill="#7a82ba"/><circle cx="56.1" cy="260.9" r="0.6" fill="#868dc0"/><circle cx="72.8" cy="248.2" r="0.8" fill="#7a82ba"/><circle cx="52.5" cy="247.2" r="0.8" fill="#a0a6ce"/><circle cx="80.7" cy="237.8" r="0.6" fill="#7a82ba"/><circle cx="53.2" cy="249.1" r="0.9" fill="#9298c8"/><circle cx="52.4" cy="262.4" r="0.7" fill="#868dc0"/><circle cx="49.8" cy="247.0" r="0.6" fill="#7a82ba"/><circle cx="98.9" cy="245.5" r="0.6" fill="#9298c8"/><circle cx="67.8" cy="271.6" r="0.8" fill="#868dc0"/><circle cx="84.8" cy="236.4" r="0.6" fill="#7a82ba"/><circle cx="78.7" cy="241.4" r="0.8" fill="#868dc0"/><circle cx="72.9" cy="284.5" r="0.5" fill="#868dc0"/><circle cx="47.7" cy="237.6" r="0.6" fill="#9298c8"/><circle cx="87.2" cy="239.5" r="0.8" fill="#868dc0"/><circle cx="89.3" cy="243.0" r="0.5" fill="#a0a6ce"/><circle cx="68.8" cy="247.0" r="0.7" fill="#7a82ba"/><circle cx="40.2" cy="271.8" r="0.9" fill="#9298c8"/><circle cx="89.7" cy="238.2" r="0.7" fill="#7a82ba"/><circle cx="39.8" cy="276.6" r="0.6" fill="#868dc0"/><circle cx="33.2" cy="267.9" r="0.7" fill="#a0a6ce"/><circle cx="65.8" cy="250.0" r="0.7" fill="#7a82ba"/><circle cx="92.5" cy="246.7" r="0.5" fill="#9298c8"/><circle cx="72.0" cy="249.1" r="0.6" fill="#9298c8"/><circle cx="53.6" cy="233.3" r="0.6" fill="#9298c8"/><circle cx="60.6" cy="255.1" r="0.9" fill="#868dc0"/><circle cx="30.3" cy="262.9" r="0.6" fill="#7a82ba"/><circle cx="43.2" cy="232.0" r="0.6" fill="#868dc0"/><circle cx="72.4" cy="227.8" r="0.7" fill="#a0a6ce"/><circle cx="35.4" cy="271.2" r="0.7" fill="#7a82ba"/><circle cx="68.8" cy="231.2" r="0.5" fill="#9298c8"/><circle cx="84.3" cy="243.9" r="0.9" fill="#9298c8"/><circle cx="35.7" cy="272.8" r="0.8" fill="#868dc0"/><circle cx="37.7" cy="281.3" r="0.7" fill="#7a82ba"/><circle cx="42.0" cy="274.3" r="0.9" fill="#7a82ba"/><circle cx="64.5" cy="267.5" r="0.9" fill="#868dc0"/><circle cx="66.4" cy="232.6" r="0.7" fill="#a0a6ce"/><circle cx="66.9" cy="250.6" r="0.7" fill="#a0a6ce"/><circle cx="55.2" cy="237.0" r="0.5" fill="#a0a6ce"/><circle cx="86.3" cy="243.1" r="0.5" fill="#9298c8"/><circle cx="77.4" cy="229.5" r="0.6" fill="#868dc0"/><circle cx="47.6" cy="244.0" r="0.8" fill="#7a82ba"/><circle cx="69.9" cy="279.1" r="0.6" fill="#9298c8"/><circle cx="49.7" cy="262.7" r="0.8" fill="#9298c8"/><circle cx="49.5" cy="246.5" r="0.7" fill="#7a82ba"/><circle cx="69.1" cy="224.6" r="0.7" fill="#a0a6ce"/><circle cx="66.4" cy="246.7" r="0.6" fill="#868dc0"/><circle cx="50.8" cy="233.0" r="0.7" fill="#7a82ba"/><circle cx="32.0" cy="271.1" r="0.5" fill="#868dc0"/><circle cx="90.7" cy="236.6" r="0.6" fill="#a0a6ce"/><circle cx="67.2" cy="253.4" r="0.6" fill="#868dc0"/><circle cx="44.6" cy="274.1" r="0.5" fill="#7a82ba"/><circle cx="71.3" cy="230.2" r="0.5" fill="#9298c8"/><circle cx="74.0" cy="242.7" r="0.8" fill="#9298c8"/><circle cx="63.1" cy="243.6" r="0.9" fill="#a0a6ce"/><circle cx="83.7" cy="277.5" r="0.5" fill="#7a82ba"/>
</g>
<circle cx="59.7" cy="255.8" r="0.9" fill="#d0a060"/><circle cx="58.7" cy="259.8" r="0.8" fill="#d0a060"/><circle cx="60.7" cy="261.9" r="0.8" fill="#d8a868"/><circle cx="47.4" cy="271" r="0.7" fill="#c8a070"/>
<line x1="110.8" y1="218.4" x2="110.8" y2="301" stroke="#6a6a6a" stroke-width="1.1"/>
<line x1="17" y1="300.4" x2="110.8" y2="300.4" stroke="#6a6a6a" stroke-width="1"/>
<text x="8.4" y="220.9" font-family="'Liberation Serif', serif" font-size="10" fill="#000" font-weight="bold" text-anchor="start">(b)</text>
<text x="116.9" y="231.5" font-family="'Liberation Serif', serif" font-size="6.9" fill="#111" font-weight="bold" text-anchor="start">BIRC5</text>
<text x="116.9" y="239.7" font-family="'Liberation Serif', serif" font-size="6.9" fill="#1e1e1e" text-anchor="start">Female, age 23</text>
<text x="116.9" y="247.9" font-family="'Liberation Serif', serif" font-size="6.9" fill="#1e1e1e" text-anchor="start">Breast (T-04000)</text>
<text x="116.9" y="256.0" font-family="'Liberation Serif', serif" font-size="6.9" fill="#1e1e1e" text-anchor="start">Normal tissue</text>
<text x="116.9" y="264.2" font-family="'Liberation Serif', serif" font-size="6.9" fill="#1e1e1e" text-anchor="start">Staining: Not detected</text>
<text x="116.9" y="272.4" font-family="'Liberation Serif', serif" font-size="6.9" fill="#1e1e1e" text-anchor="start">Intensity: Negative</text>
<text x="116.9" y="280.6" font-family="'Liberation Serif', serif" font-size="6.9" fill="#1e1e1e" text-anchor="start">Quantity: None-25%</text>
<text x="116.9" y="288.8" font-family="'Liberation Serif', serif" font-size="6.9" fill="#1e1e1e" text-anchor="start">Location: Cytoplasmic/membrane</text>
<text x="116.9" y="296.9" font-family="'Liberation Serif', serif" font-size="6.9" fill="#1e1e1e" text-anchor="start">Antibody: CAB004270</text>
<rect x="216.6" y="216.6" width="86" height="83" fill="#f3f3f2"/>
<ellipse cx="260.5" cy="258" rx="41.3" ry="39.5" fill="#d6d3d8"/>
<ellipse cx="260.5" cy="258" rx="41.3" ry="39.5" fill="#fff" filter="url(#gcd)"/>
<ellipse cx="260.5" cy="258" rx="41.3" ry="39.5" fill="#fff" filter="url(#gl)" opacity="0.6"/>
<g filter="url(#blur05)">
<ellipse cx="260.5" cy="258" rx="41" ry="39.2" fill="none" stroke="#aca6ac" stroke-width="0.9" opacity="0.55"/>
<circle cx="239.8" cy="254.7" r="0.6" fill="#b0a6ae"/><circle cx="266.1" cy="296.2" r="0.6" fill="#bcaeac"/><circle cx="238.3" cy="243.1" r="0.7" fill="#bcaeac"/><circle cx="256.8" cy="254.4" r="0.5" fill="#c4b4b2"/><circle cx="282.1" cy="232.9" r="0.7" fill="#bcaeac"/><circle cx="274.2" cy="239.8" r="0.5" fill="#b0a6ae"/><circle cx="255.2" cy="272.6" r="0.7" fill="#c4b4b2"/><circle cx="237.6" cy="252.5" r="0.6" fill="#bcaeac"/><circle cx="272.7" cy="265.6" r="0.7" fill="#b0a6ae"/><circle cx="224.5" cy="240.3" r="0.7" fill="#b0a6ae"/><circle cx="224.3" cy="264.0" r="0.7" fill="#bcaeac"/><circle cx="239.9" cy="267.1" r="0.7" fill="#b0a6ae"/><circle cx="288.6" cy="247.9" r="0.4" fill="#b8a8a6"/><circle cx="279.6" cy="253.2" r="0.6" fill="#c4b4b2"/><circle cx="286.9" cy="234.4" r="0.4" fill="#c4b4b2"/><circle cx="237.6" cy="269.3" r="0.5" fill="#bcaeac"/><circle cx="233.2" cy="272.8" r="0.7" fill="#bcaeac"/><circle cx="239.1" cy="255.8" r="0.4" fill="#bcaeac"/><circle cx="270.1" cy="276.6" r="0.4" fill="#c4b4b2"/><circle cx="290.7" cy="259.2" r="0.7" fill="#bcaeac"/><circle cx="228.3" cy="240.7" r="0.6" fill="#bcaeac"/><circle cx="286.7" cy="280.0" r="0.7" fill="#bcaeac"/><circle cx="283.0" cy="289.9" r="0.6" fill="#bcaeac"/><circle cx="228.5" cy="274.2" r="0.7" fill="#b0a6ae"/><circle cx="243.6" cy="265.3" r="0.6" fill="#b8a8a6"/><circle cx="293.3" cy="245.5" r="0.4" fill="#b0a6ae"/><circle cx="296.3" cy="269.8" r="0.4" fill="#b8a8a6"/><circle cx="240.0" cy="230.0" r="0.4" fill="#b8a8a6"/><circle cx="269.4" cy="243.2" r="0.6" fill="#c4b4b2"/><circle cx="287.9" cy="232.9" r="0.7" fill="#b8a8a6"/><circle cx="239.7" cy="271.8" r="0.7" fill="#b8a8a6"/><circle cx="274.1" cy="236.2" r="0.5" fill="#bcaeac"/><circle cx="269.1" cy="245.1" r="0.6" fill="#b0a6ae"/><circle cx="237.9" cy="244.9" r="0.5" fill="#b8a8a6"/><circle cx="297.4" cy="273.7" r="0.6" fill="#b8a8a6"/><circle cx="255.7" cy="260.8" r="0.7" fill="#c4b4b2"/><circle cx="276.9" cy="246.1" r="0.6" fill="#c4b4b2"/><circle cx="291.0" cy="264.2" r="0.5" fill="#bcaeac"/><circle cx="288.2" cy="239.6" r="0.5" fill="#c4b4b2"/><circle cx="274.7" cy="235.1" r="0.6" fill="#b8a8a6"/><circle cx="266.0" cy="249.7" r="0.5" fill="#b8a8a6"/><circle cx="297.0" cy="261.2" r="0.6" fill="#c4b4b2"/><circle cx="260.1" cy="292.8" r="0.7" fill="#b0a6ae"/><circle cx="228.3" cy="262.3" r="0.7" fill="#b0a6ae"/><circle cx="283.9" cy="262.6" r="0.6" fill="#b8a8a6"/><circle cx="297.3" cy="261.5" r="0.6" fill="#b0a6ae"/><circle cx="258.7" cy="248.0" r="0.5" fill="#c4b4b2"/><circle cx="259.1" cy="276.3" r="0.4" fill="#b8a8a6"/><circle cx="276.9" cy="262.8" r="0.5" fill="#b8a8a6"/><circle cx="293.5" cy="240.2" r="0.5" fill="#b8a8a6"/><circle cx="249.1" cy="273.9" r="0.4" fill="#c4b4b2"/><circle cx="290.1" cy="241.4" r="0.6" fill="#bcaeac"/><circle cx="245.2" cy="223.1" r="0.5" fill="#b0a6ae"/><circle cx="262.2" cy="263.6" r="0.6" fill="#c4b4b2"/><circle cx="287.9" cy="266.9" r="0.7" fill="#c4b4b2"/><circle cx="298.7" cy="256.5" r="0.6" fill="#bcaeac"/><circle cx="232.6" cy="283.5" r="0.6" fill="#bcaeac"/><circle cx="287.8" cy="264.3" r="0.5" fill="#c4b4b2"/><circle cx="256.6" cy="240.6" r="0.7" fill="#b0a6ae"/><circle cx="231.0" cy="272.4" r="0.7" fill="#c4b4b2"/><circle cx="249.8" cy="244.0" r="0.6" fill="#b0a6ae"/><circle cx="287.0" cy="286.5" r="0.5" fill="#b0a6ae"/><circle cx="297.4" cy="251.6" r="0.7" fill="#b0a6ae"/><circle cx="268.4" cy="285.1" r="0.7" fill="#c4b4b2"/><circle cx="269.2" cy="268.6" r="0.4" fill="#b0a6ae"/><circle cx="232.6" cy="237.6" r="0.6" fill="#b8a8a6"/><circle cx="253.4" cy="293.1" r="0.6" fill="#b8a8a6"/><circle cx="232.5" cy="278.3" r="0.6" fill="#b0a6ae"/><circle cx="233.6" cy="231.3" r="0.5" fill="#b8a8a6"/><circle cx="287.9" cy="286.7" r="0.5" fill="#bcaeac"/><circle cx="274.1" cy="279.7" r="0.5" fill="#b8a8a6"/><circle cx="229.7" cy="279.1" r="0.6" fill="#b8a8a6"/><circle cx="262.2" cy="262.6" r="0.7" fill="#c4b4b2"/><circle cx="277.1" cy="228.5" r="0.7" fill="#b0a6ae"/><circle cx="282.4" cy="267.7" r="0.6" fill="#b0a6ae"/><circle cx="245.5" cy="261.0" r="0.6" fill="#b0a6ae"/><circle cx="246.0" cy="284.8" r="0.6" fill="#b8a8a6"/><circle cx="274.5" cy="227.5" r="0.7" fill="#c4b4b2"/><circle cx="224.7" cy="247.3" r="0.6" fill="#c4b4b2"/><circle cx="247.0" cy="233.1" r="0.7" fill="#c4b4b2"/><circle cx="244.8" cy="240.4" r="0.6" fill="#b8a8a6"/><circle cx="266.1" cy="287.2" r="0.6" fill="#b8a8a6"/><circle cx="281.2" cy="257.2" r="0.6" fill="#bcaeac"/><circle cx="246.3" cy="282.2" r="0.5" fill="#b8a8a6"/><circle cx="263.0" cy="220.9" r="0.7" fill="#b0a6ae"/><circle cx="225.1" cy="253.8" r="0.5" fill="#bcaeac"/><circle cx="247.3" cy="244.3" r="0.7" fill="#bcaeac"/><circle cx="233.0" cy="250.2" r="0.6" fill="#b0a6ae"/><circle cx="267.5" cy="290.5" r="0.5" fill="#b8a8a6"/><circle cx="254.1" cy="263.0" r="0.4" fill="#b8a8a6"/><circle cx="273.3" cy="265.5" r="0.7" fill="#b8a8a6"/><circle cx="226.0" cy="265.8" r="0.7" fill="#bcaeac"/><circle cx="254.2" cy="263.9" r="0.6" fill="#bcaeac"/><circle cx="236.6" cy="239.7" r="0.7" fill="#bcaeac"/><circle cx="244.3" cy="230.1" r="0.6" fill="#b0a6ae"/><circle cx="265.6" cy="296.2" r="0.5" fill="#c4b4b2"/><circle cx="226.8" cy="273.6" r="0.7" fill="#b8a8a6"/><circle cx="230.3" cy="241.7" r="0.5" fill="#b0a6ae"/><circle cx="259.3" cy="258.0" r="0.7" fill="#bcaeac"/><circle cx="269.8" cy="295.4" r="0.6" fill="#bcaeac"/><circle cx="270.4" cy="265.0" r="0.6" fill="#b0a6ae"/><circle cx="264.0" cy="283.0" r="0.7" fill="#bcaeac"/><circle cx="249.9" cy="282.5" r="0.6" fill="#b8a8a6"/><circle cx="248.4" cy="223.9" r="0.7" fill="#b8a8a6"/><circle cx="241.1" cy="260.9" r="0.5" fill="#b8a8a6"/><circle cx="258.6" cy="270.4" r="0.7" fill="#c4b4b2"/><circle cx="224.5" cy="272.0" r="0.7" fill="#c4b4b2"/><circle cx="291.6" cy="283.1" r="0.6" fill="#b8a8a6"/><circle cx="246.1" cy="222.2" r="0.4" fill="#c4b4b2"/><circle cx="283.1" cy="267.3" r="0.4" fill="#b0a6ae"/>
</g>
<text x="202.3" y="220.9" font-family="'Liberation Serif', serif" font-size="10" fill="#000" font-weight="bold" text-anchor="start">(c)</text>
<text x="311.8" y="227.8" font-family="'Liberation Serif', serif" font-size="6.2" fill="#111" font-weight="bold" text-anchor="start">BIRC5</text>
<text x="311.8" y="235.3" font-family="'Liberation Serif', serif" font-size="6.2" fill="#1e1e1e" text-anchor="start">Female, age 61</text>
<text x="311.8" y="242.9" font-family="'Liberation Serif', serif" font-size="6.2" fill="#1e1e1e" text-anchor="start">Breast (T-04000)</text>
<text x="311.8" y="250.4" font-family="'Liberation Serif', serif" font-size="6.2" fill="#1e1e1e" text-anchor="start">Duct carcinoma</text>
<text x="311.8" y="257.9" font-family="'Liberation Serif', serif" font-size="6.2" fill="#1e1e1e" text-anchor="start">Staining: Low</text>
<text x="311.8" y="265.4" font-family="'Liberation Serif', serif" font-size="6.2" fill="#1e1e1e" text-anchor="start">Intensity: Moderate</text>
<text x="311.8" y="273.0" font-family="'Liberation Serif', serif" font-size="6.2" fill="#1e1e1e" text-anchor="start">Quantity: &lt;25%</text>
<text x="311.8" y="280.5" font-family="'Liberation Serif', serif" font-size="6.2" fill="#1e1e1e" text-anchor="start">Location: Nuclear</text>
<text x="311.8" y="288.0" font-family="'Liberation Serif', serif" font-size="6.2" fill="#1e1e1e" text-anchor="start">Antibody: CAB004270</text>
<rect x="17" y="301.2" width="93.6" height="82.8" fill="#f4f4f5"/>
<clipPath id="cd2"><path d="M54.5,308.5 C62,306.8 74,306.5 81,308 C88,310 93,314 96,318.5 C100,326 102,335 101.5,343 C101.5,352 100,362 96,370 C92,377 88,382 80,383.6 C70,385 58,384.5 50,382 C44,379 41,376 39,372 C35,364 33,352 33.2,343 C33.5,333 36,325 40.5,318.5 C44,313 49,310 54.5,308.5Z"/></clipPath>
<path d="M54.5,308.5 C62,306.8 74,306.5 81,308 C88,310 93,314 96,318.5 C100,326 102,335 101.5,343 C101.5,352 100,362 96,370 C92,377 88,382 80,383.6 C70,385 58,384.5 50,382 C44,379 41,376 39,372 C35,364 33,352 33.2,343 C33.5,333 36,325 40.5,318.5 C44,313 49,310 54.5,308.5Z" fill="#d2d3e0"/>
<g clip-path="url(#cd2)"><g filter="url(#blur1)" opacity="0.7"><ellipse cx="65" cy="328.5" rx="17" ry="8.5" fill="#a8abc8"/><ellipse cx="85" cy="346.5" rx="11" ry="9" fill="#9c9fc2"/><ellipse cx="68" cy="365" rx="17" ry="6.5" fill="#a6a9c6"/><ellipse cx="44" cy="338.5" rx="8" ry="10.5" fill="#b4b6d0"/></g><g filter="url(#blur1)" fill="#eeeef4" opacity="0.85"><ellipse cx="91" cy="330" rx="8" ry="12" transform="rotate(0 91 330)"/><ellipse cx="62" cy="352" rx="24" ry="3.2" transform="rotate(12 62 352)"/><ellipse cx="45" cy="371" rx="6" ry="8" transform="rotate(0 45 371)"/></g></g>
<path d="M54.5,308.5 C62,306.8 74,306.5 81,308 C88,310 93,314 96,318.5 C100,326 102,335 101.5,343 C101.5,352 100,362 96,370 C92,377 88,382 80,383.6 C70,385 58,384.5 50,382 C44,379 41,376 39,372 C35,364 33,352 33.2,343 C33.5,333 36,325 40.5,318.5 C44,313 49,310 54.5,308.5Z" fill="#fff" filter="url(#gdd)"/>
<path d="M54.5,308.5 C62,306.8 74,306.5 81,308 C88,310 93,314 96,318.5 C100,326 102,335 101.5,343 C101.5,352 100,362 96,370 C92,377 88,382 80,383.6 C70,385 58,384.5 50,382 C44,379 41,376 39,372 C35,364 33,352 33.2,343 C33.5,333 36,325 40.5,318.5 C44,313 49,310 54.5,308.5Z" fill="#fff" filter="url(#gl)" opacity="0.6"/>
<g filter="url(#blur05)">
<circle cx="68.5" cy="331.5" r="0.7" fill="#7378a4"/><circle cx="75.1" cy="332.8" r="0.6" fill="#989cc0"/><circle cx="39.1" cy="344.4" r="0.7" fill="#8a8eb4"/><circle cx="76.8" cy="330.5" r="0.7" fill="#7e83ac"/><circle cx="53.4" cy="366.7" r="0.5" fill="#7e83ac"/><circle cx="48.3" cy="325.0" r="0.8" fill="#8a8eb4"/><circle cx="83.7" cy="338.4" r="0.6" fill="#7378a4"/><circle cx="61.5" cy="337.8" r="0.7" fill="#989cc0"/><circle cx="91.3" cy="343.8" r="0.6" fill="#989cc0"/><circle cx="92.6" cy="351.5" r="0.8" fill="#989cc0"/><circle cx="70.4" cy="364.7" r="0.6" fill="#8a8eb4"/><circle cx="50.8" cy="358.8" r="0.5" fill="#7e83ac"/><circle cx="76.9" cy="347.4" r="0.7" fill="#7378a4"/><circle cx="79.6" cy="344.2" r="0.8" fill="#7e83ac"/><circle cx="39.4" cy="344.7" r="0.7" fill="#8a8eb4"/><circle cx="83.8" cy="338.8" r="0.5" fill="#7378a4"/><circle cx="66.5" cy="326.2" r="0.6" fill="#989cc0"/><circle cx="45.8" cy="331.1" r="0.6" fill="#8a8eb4"/><circle cx="74.4" cy="324.6" r="0.5" fill="#8a8eb4"/><circle cx="88.9" cy="352.1" r="0.5" fill="#8a8eb4"/><circle cx="48.4" cy="329.7" r="0.5" fill="#7e83ac"/><circle cx="71.0" cy="332.8" r="0.6" fill="#7e83ac"/><circle cx="71.9" cy="359.3" r="0.7" fill="#7e83ac"/><circle cx="67.2" cy="363.3" r="0.6" fill="#7378a4"/><circle cx="73.8" cy="346.2" r="0.7" fill="#8a8eb4"/><circle cx="74.5" cy="362.1" r="0.7" fill="#7e83ac"/><circle cx="53.9" cy="323.9" r="0.7" fill="#989cc0"/><circle cx="52.3" cy="325.4" r="0.7" fill="#7378a4"/><circle cx="52.7" cy="333.9" r="0.8" fill="#989cc0"/><circle cx="54.7" cy="325.6" r="0.7" fill="#7e83ac"/><circle cx="46.0" cy="342.4" r="0.6" fill="#989cc0"/><circle cx="78.7" cy="345.2" r="0.6" fill="#7378a4"/><circle cx="76.4" cy="373.6" r="0.5" fill="#989cc0"/><circle cx="59.9" cy="332.8" r="0.8" fill="#7e83ac"/><circle cx="58.5" cy="321.5" r="0.7" fill="#7e83ac"/><circle cx="48.8" cy="345.8" r="0.5" fill="#8a8eb4"/><circle cx="55.9" cy="365.0" r="0.8" fill="#7e83ac"/><circle cx="41.0" cy="339.9" r="0.6" fill="#8a8eb4"/><circle cx="47.8" cy="331.6" r="0.7" fill="#8a8eb4"/><circle cx="69.1" cy="336.9" r="0.5" fill="#7e83ac"/><circle cx="60.7" cy="363.2" r="0.8" fill="#8a8eb4"/><circle cx="78.0" cy="345.3" r="0.8" fill="#8a8eb4"/><circle cx="77.5" cy="346.6" r="0.5" fill="#8a8eb4"/><circle cx="50.2" cy="334.4" r="0.7" fill="#7e83ac"/><circle cx="76.6" cy="362.3" r="0.6" fill="#8a8eb4"/><circle cx="64.2" cy="310.4" r="0.6" fill="#989cc0"/><circle cx="64.3" cy="367.6" r="0.8" fill="#7378a4"/><circle cx="62.6" cy="336.4" r="0.7" fill="#8a8eb4"/><circle cx="42.0" cy="329.3" r="0.5" fill="#7378a4"/><circle cx="62.6" cy="317.9" r="0.7" fill="#7378a4"/><circle cx="78.7" cy="346.6" r="0.7" fill="#7378a4"/><circle cx="81.7" cy="368.2" r="0.5" fill="#8a8eb4"/><circle cx="59.5" cy="320.8" r="0.7" fill="#8a8eb4"/><circle cx="79.7" cy="325.3" r="0.7" fill="#7e83ac"/><circle cx="93.7" cy="349.0" r="0.5" fill="#989cc0"/><circle cx="85.7" cy="348.3" r="0.5" fill="#7e83ac"/><circle cx="43.9" cy="335.5" r="0.7" fill="#989cc0"/><circle cx="37.9" cy="335.0" r="0.6" fill="#7378a4"/><circle cx="63.6" cy="340.2" r="0.7" fill="#7378a4"/><circle cx="98.3" cy="349.0" r="0.7" fill="#7378a4"/><circle cx="80.1" cy="349.7" r="0.7" fill="#989cc0"/><circle cx="66.9" cy="334.7" r="0.6" fill="#8a8eb4"/><circle cx="39.0" cy="333.3" r="0.6" fill="#989cc0"/><circle cx="71.6" cy="369.7" r="0.5" fill="#7378a4"/><circle cx="63.2" cy="330.9" r="0.7" fill="#8a8eb4"/><circle cx="42.7" cy="345.2" r="0.6" fill="#989cc0"/><circle cx="44.0" cy="345.2" r="0.8" fill="#7378a4"/><circle cx="59.4" cy="344.1" r="0.7" fill="#7e83ac"/><circle cx="57.9" cy="360.0" r="0.5" fill="#7378a4"/><circle cx="43.7" cy="338.1" r="0.6" fill="#7e83ac"/><circle cx="45.5" cy="343.1" r="0.6" fill="#7378a4"/><circle cx="52.6" cy="367.0" r="0.6" fill="#8a8eb4"/><circle cx="60.0" cy="332.7" r="0.6" fill="#8a8eb4"/><circle cx="72.8" cy="326.4" r="0.5" fill="#989cc0"/><circle cx="75.9" cy="324.5" r="0.5" fill="#8a8eb4"/><circle cx="87.8" cy="342.8" r="0.7" fill="#8a8eb4"/><circle cx="84.9" cy="349.6" r="0.6" fill="#8a8eb4"/><circle cx="71.0" cy="381.3" r="0.6" fill="#989cc0"/><circle cx="86.5" cy="352.8" r="0.7" fill="#989cc0"/><circle cx="82.5" cy="376.1" r="0.6" fill="#8a8eb4"/><circle cx="39.2" cy="359.1" r="0.6" fill="#7e83ac"/><circle cx="88.5" cy="342.7" r="0.6" fill="#989cc0"/><circle cx="90.6" cy="351.5" r="0.5" fill="#8a8eb4"/><circle cx="69.4" cy="326.9" r="0.6" fill="#989cc0"/><circle cx="47.4" cy="320.4" r="0.7" fill="#8a8eb4"/><circle cx="39.0" cy="341.3" r="0.5" fill="#989cc0"/><circle cx="52.3" cy="343.7" r="0.8" fill="#7e83ac"/><circle cx="54.5" cy="325.4" r="0.8" fill="#8a8eb4"/><circle cx="59.3" cy="332.9" r="0.6" fill="#989cc0"/><circle cx="70.9" cy="337.1" r="0.5" fill="#989cc0"/><circle cx="53.2" cy="327.9" r="0.5" fill="#8a8eb4"/><circle cx="63.6" cy="333.4" r="0.5" fill="#7e83ac"/><circle cx="39.4" cy="330.5" r="0.5" fill="#989cc0"/><circle cx="84.2" cy="338.8" r="0.8" fill="#7e83ac"/><circle cx="79.1" cy="340.4" r="0.5" fill="#989cc0"/><circle cx="44.2" cy="338.7" r="0.6" fill="#989cc0"/><circle cx="77.8" cy="359.5" r="0.8" fill="#7378a4"/><circle cx="55.2" cy="317.9" r="0.7" fill="#7e83ac"/><circle cx="40.0" cy="340.1" r="0.5" fill="#8a8eb4"/><circle cx="50.1" cy="342.3" r="0.6" fill="#989cc0"/><circle cx="49.4" cy="334.6" r="0.6" fill="#7e83ac"/><circle cx="49.0" cy="323.9" r="0.6" fill="#8a8eb4"/><circle cx="50.7" cy="326.2" r="0.6" fill="#989cc0"/><circle cx="41.9" cy="339.7" r="0.5" fill="#7e83ac"/><circle cx="76.4" cy="362.6" r="0.7" fill="#7378a4"/><circle cx="74.7" cy="370.7" r="0.5" fill="#7378a4"/><circle cx="57.2" cy="329.9" r="0.5" fill="#7378a4"/><circle cx="86.4" cy="350.3" r="0.7" fill="#8a8eb4"/><circle cx="90.8" cy="355.8" r="0.8" fill="#7378a4"/><circle cx="62.8" cy="363.6" r="0.8" fill="#8a8eb4"/><circle cx="40.0" cy="356.8" r="0.6" fill="#7378a4"/><circle cx="54.5" cy="325.5" r="0.7" fill="#8a8eb4"/><circle cx="81.0" cy="326.0" r="0.7" fill="#7378a4"/><circle cx="98.2" cy="340.8" r="0.5" fill="#8a8eb4"/><circle cx="80.2" cy="354.2" r="0.7" fill="#989cc0"/><circle cx="54.9" cy="332.0" r="0.7" fill="#7378a4"/><circle cx="69.7" cy="331.3" r="0.7" fill="#7378a4"/><circle cx="40.4" cy="339.5" r="0.5" fill="#8a8eb4"/><circle cx="41.7" cy="337.2" r="0.7" fill="#8a8eb4"/><circle cx="79.1" cy="330.6" r="0.5" fill="#7e83ac"/><circle cx="59.4" cy="359.9" r="0.5" fill="#8a8eb4"/><circle cx="37.4" cy="342.7" r="0.8" fill="#7378a4"/><circle cx="86.5" cy="346.3" r="0.6" fill="#8a8eb4"/><circle cx="65.8" cy="321.6" r="0.6" fill="#8a8eb4"/><circle cx="67.7" cy="328.5" r="0.6" fill="#8a8eb4"/><circle cx="62.5" cy="324.7" r="0.7" fill="#8a8eb4"/><circle cx="84.5" cy="318.1" r="0.7" fill="#989cc0"/><circle cx="60.2" cy="329.9" r="0.7" fill="#989cc0"/><circle cx="37.8" cy="332.5" r="0.6" fill="#8a8eb4"/><circle cx="50.9" cy="338.9" r="0.6" fill="#8a8eb4"/><circle cx="78.9" cy="353.0" r="0.7" fill="#8a8eb4"/><circle cx="83.5" cy="339.5" r="0.7" fill="#8a8eb4"/><circle cx="95.1" cy="343.3" r="0.6" fill="#7378a4"/><circle cx="81.6" cy="333.2" r="0.7" fill="#989cc0"/><circle cx="70.5" cy="312.0" r="0.6" fill="#8a8eb4"/><circle cx="70.7" cy="366.8" r="0.5" fill="#7e83ac"/><circle cx="61.3" cy="324.4" r="0.7" fill="#8a8eb4"/><circle cx="98.7" cy="347.8" r="0.5" fill="#989cc0"/><circle cx="43.1" cy="330.0" r="0.5" fill="#989cc0"/><circle cx="43.3" cy="337.2" r="0.7" fill="#7378a4"/><circle cx="51.0" cy="334.0" r="0.5" fill="#8a8eb4"/><circle cx="58.0" cy="362.9" r="0.7" fill="#989cc0"/><circle cx="53.7" cy="363.2" r="0.5" fill="#8a8eb4"/><circle cx="51.8" cy="333.2" r="0.5" fill="#7378a4"/><circle cx="80.6" cy="329.0" r="0.8" fill="#7e83ac"/><circle cx="94.1" cy="358.6" r="0.5" fill="#8a8eb4"/><circle cx="38.1" cy="338.1" r="0.5" fill="#8a8eb4"/><circle cx="70.0" cy="359.0" r="0.6" fill="#7e83ac"/><circle cx="86.5" cy="348.8" r="0.6" fill="#7e83ac"/><circle cx="48.9" cy="336.7" r="0.5" fill="#7e83ac"/><circle cx="94.2" cy="363.2" r="0.5" fill="#8a8eb4"/><circle cx="43.8" cy="328.6" r="0.5" fill="#7378a4"/><circle cx="76.8" cy="347.6" r="0.5" fill="#7378a4"/><circle cx="84.2" cy="343.3" r="0.6" fill="#8a8eb4"/><circle cx="55.5" cy="378.8" r="0.7" fill="#989cc0"/><circle cx="75.9" cy="330.4" r="0.7" fill="#8a8eb4"/><circle cx="42.5" cy="345.3" r="0.7" fill="#8a8eb4"/><circle cx="63.0" cy="336.6" r="0.5" fill="#989cc0"/><circle cx="84.2" cy="342.7" r="0.5" fill="#7e83ac"/><circle cx="81.3" cy="367.4" r="0.8" fill="#7e83ac"/><circle cx="74.6" cy="317.9" r="0.5" fill="#7e83ac"/><circle cx="86.5" cy="367.4" r="0.7" fill="#7378a4"/><circle cx="63.8" cy="368.2" r="0.5" fill="#7e83ac"/><circle cx="48.9" cy="337.9" r="0.5" fill="#989cc0"/><circle cx="50.3" cy="337.7" r="0.6" fill="#7e83ac"/><circle cx="76.6" cy="366.7" r="0.7" fill="#8a8eb4"/><circle cx="60.7" cy="360.5" r="0.8" fill="#989cc0"/><circle cx="72.2" cy="364.0" r="0.5" fill="#7378a4"/><circle cx="80.8" cy="377.7" r="0.8" fill="#7e83ac"/><circle cx="60.5" cy="324.3" r="0.6" fill="#989cc0"/><circle cx="67.7" cy="364.8" r="0.6" fill="#8a8eb4"/><circle cx="64.7" cy="373.5" r="0.5" fill="#8a8eb4"/><circle cx="64.5" cy="331.3" r="0.6" fill="#7378a4"/><circle cx="39.6" cy="356.1" r="0.7" fill="#7e83ac"/><circle cx="82.6" cy="324.3" r="0.6" fill="#7378a4"/><circle cx="64.7" cy="325.0" r="0.7" fill="#989cc0"/><circle cx="55.2" cy="369.2" r="0.7" fill="#7378a4"/><circle cx="45.7" cy="342.1" r="0.7" fill="#989cc0"/><circle cx="39.6" cy="345.3" r="0.8" fill="#7378a4"/><circle cx="74.9" cy="332.8" r="0.7" fill="#7e83ac"/><circle cx="87.9" cy="343.0" r="0.8" fill="#8a8eb4"/><circle cx="43.8" cy="330.2" r="0.5" fill="#7378a4"/><circle cx="69.4" cy="367.0" r="0.7" fill="#989cc0"/><circle cx="74.6" cy="364.3" r="0.5" fill="#8a8eb4"/><circle cx="48.0" cy="371.2" r="0.5" fill="#7378a4"/><circle cx="62.9" cy="321.5" r="0.7" fill="#7e83ac"/><circle cx="53.1" cy="334.1" r="0.7" fill="#8a8eb4"/><circle cx="77.6" cy="343.1" r="0.5" fill="#7378a4"/><circle cx="92.7" cy="350.0" r="0.6" fill="#8a8eb4"/><circle cx="42.9" cy="342.5" r="0.7" fill="#989cc0"/><circle cx="65.5" cy="362.5" r="0.7" fill="#7378a4"/><circle cx="66.0" cy="361.3" r="0.6" fill="#7378a4"/><circle cx="69.0" cy="321.7" r="0.6" fill="#989cc0"/><circle cx="77.3" cy="343.4" r="0.7" fill="#8a8eb4"/><circle cx="58.3" cy="333.2" r="0.5" fill="#7e83ac"/><circle cx="81.6" cy="343.3" r="0.7" fill="#989cc0"/><circle cx="63.1" cy="361.4" r="0.5" fill="#7378a4"/><circle cx="38.2" cy="332.3" r="0.8" fill="#7e83ac"/><circle cx="52.3" cy="370.2" r="0.7" fill="#989cc0"/><circle cx="47.1" cy="363.0" r="0.5" fill="#8a8eb4"/>
</g>
<circle cx="90" cy="305" r="1.1" fill="#b0a8b0"/>
<line x1="110.8" y1="300.4" x2="110.8" y2="384.3" stroke="#6a6a6a" stroke-width="1.1"/>
<text x="7.7" y="310.5" font-family="'Liberation Serif', serif" font-size="10" fill="#000" font-weight="bold" text-anchor="start">(d)</text>
<text x="115.3" y="313.4" font-family="'Liberation Serif', serif" font-size="6.9" fill="#111" font-weight="bold" text-anchor="start">BIRC5</text>
<text x="115.3" y="321.7" font-family="'Liberation Serif', serif" font-size="6.9" fill="#1e1e1e" text-anchor="start">Female, age 75</text>
<text x="115.3" y="329.9" font-family="'Liberation Serif', serif" font-size="6.9" fill="#1e1e1e" text-anchor="start">Breast (T-04000)</text>
<text x="115.3" y="338.2" font-family="'Liberation Serif', serif" font-size="6.9" fill="#1e1e1e" text-anchor="start">Normal tissue</text>
<text x="115.3" y="346.4" font-family="'Liberation Serif', serif" font-size="6.9" fill="#1e1e1e" text-anchor="start">Staining: Not detected</text>
<text x="115.3" y="354.7" font-family="'Liberation Serif', serif" font-size="6.9" fill="#1e1e1e" text-anchor="start">Intensity: Negative</text>
<text x="115.3" y="363.0" font-family="'Liberation Serif', serif" font-size="6.9" fill="#1e1e1e" text-anchor="start">Quantity: None-25%</text>
<text x="115.3" y="371.2" font-family="'Liberation Serif', serif" font-size="6.9" fill="#1e1e1e" text-anchor="start">Location: Cytoplasmic/membrane</text>
<text x="115.3" y="379.5" font-family="'Liberation Serif', serif" font-size="6.9" fill="#1e1e1e" text-anchor="start">Antibody: CAB004270</text>
<rect x="216.6" y="299.5" width="86" height="88" fill="#f3f3f2"/>
<ellipse cx="260.5" cy="343.6" rx="40.9" ry="41.2" fill="#d8d8de"/>
<ellipse cx="260.5" cy="343.6" rx="40.9" ry="41.2" fill="#fff" filter="url(#ged)"/>
<ellipse cx="260.5" cy="343.6" rx="40.9" ry="41.2" fill="#fff" filter="url(#gel)" opacity="0.6"/>
<g clip-path="url(#ce)"><g stroke="#e4e4ea" stroke-width="1.2" fill="none" opacity="0.8" filter="url(#blur05)"><path d="M245,322 C252,330 256,336 262,334 C268,332 272,340 280,338"/><path d="M250,350 C258,345 262,352 270,356 C276,359 280,366 284,372"/><path d="M232,340 C238,346 244,344 248,352"/><path d="M262,334 L266,350"/></g></g>
<g filter="url(#blur05)">
<ellipse cx="260.5" cy="343.6" rx="40.6" ry="40.9" fill="none" stroke="#a4a4b0" stroke-width="0.9" opacity="0.5"/>
<circle cx="248.3" cy="349.7" r="0.6" fill="#9c9caa"/><circle cx="244.6" cy="337.3" r="0.7" fill="#9c9caa"/><circle cx="293.8" cy="327.7" r="0.8" fill="#a4a4b0"/><circle cx="264.4" cy="309.7" r="0.8" fill="#b4b4c0"/><circle cx="245.6" cy="376.6" r="0.5" fill="#acacb8"/><circle cx="249.5" cy="325.5" r="0.5" fill="#b4b4c0"/><circle cx="242.3" cy="354.8" r="0.5" fill="#b4b4c0"/><circle cx="291.4" cy="336.8" r="0.8" fill="#9c9caa"/><circle cx="276.5" cy="343.1" r="0.5" fill="#9c9caa"/><circle cx="287.2" cy="336.5" r="0.7" fill="#a4a4b0"/><circle cx="247.2" cy="371.3" r="0.8" fill="#acacb8"/><circle cx="235.0" cy="362.6" r="0.8" fill="#acacb8"/><circle cx="283.6" cy="363.4" r="0.7" fill="#acacb8"/><circle cx="240.9" cy="326.1" r="0.8" fill="#acacb8"/><circle cx="253.4" cy="370.5" r="0.7" fill="#acacb8"/><circle cx="298.8" cy="354.3" r="0.7" fill="#b4b4c0"/><circle cx="279.7" cy="340.9" r="0.4" fill="#9c9caa"/><circle cx="235.4" cy="338.0" r="0.6" fill="#acacb8"/><circle cx="262.7" cy="316.5" r="0.7" fill="#b4b4c0"/><circle cx="277.7" cy="323.3" r="0.4" fill="#b4b4c0"/><circle cx="242.1" cy="310.3" r="0.6" fill="#acacb8"/><circle cx="236.6" cy="364.0" r="0.8" fill="#a4a4b0"/><circle cx="251.5" cy="357.4" r="0.7" fill="#acacb8"/><circle cx="239.1" cy="334.0" r="0.7" fill="#acacb8"/><circle cx="280.9" cy="310.3" r="0.7" fill="#acacb8"/><circle cx="261.7" cy="330.6" r="0.6" fill="#a4a4b0"/><circle cx="249.1" cy="374.5" r="0.7" fill="#acacb8"/><circle cx="265.7" cy="311.2" r="0.5" fill="#9c9caa"/><circle cx="247.2" cy="380.4" r="0.8" fill="#9c9caa"/><circle cx="242.8" cy="330.7" r="0.5" fill="#a4a4b0"/><circle cx="223.0" cy="344.1" r="0.6" fill="#b4b4c0"/><circle cx="269.9" cy="312.9" r="0.5" fill="#a4a4b0"/><circle cx="229.2" cy="328.0" r="0.6" fill="#a4a4b0"/><circle cx="250.5" cy="355.4" r="0.6" fill="#b4b4c0"/><circle cx="250.1" cy="376.3" r="0.5" fill="#a4a4b0"/><circle cx="241.2" cy="310.3" r="0.7" fill="#b4b4c0"/><circle cx="274.4" cy="334.1" r="0.5" fill="#b4b4c0"/><circle cx="228.8" cy="350.4" r="0.7" fill="#9c9caa"/><circle cx="267.1" cy="313.1" r="0.7" fill="#9c9caa"/><circle cx="277.6" cy="380.3" r="0.6" fill="#a4a4b0"/><circle cx="252.2" cy="318.9" r="0.4" fill="#a4a4b0"/><circle cx="266.6" cy="309.0" r="0.6" fill="#b4b4c0"/><circle cx="280.0" cy="313.4" r="0.8" fill="#b4b4c0"/><circle cx="250.6" cy="374.6" r="0.5" fill="#a4a4b0"/><circle cx="278.0" cy="335.0" r="0.7" fill="#acacb8"/><circle cx="254.4" cy="307.4" r="0.6" fill="#acacb8"/><circle cx="268.9" cy="380.3" r="0.6" fill="#9c9caa"/><circle cx="252.7" cy="324.9" r="0.6" fill="#a4a4b0"/><circle cx="286.5" cy="322.1" r="0.7" fill="#9c9caa"/><circle cx="259.8" cy="318.9" r="0.8" fill="#acacb8"/><circle cx="289.6" cy="345.1" r="0.5" fill="#9c9caa"/><circle cx="263.4" cy="305.6" r="0.5" fill="#acacb8"/><circle cx="287.8" cy="326.6" r="0.6" fill="#9c9caa"/><circle cx="275.8" cy="306.2" r="0.7" fill="#b4b4c0"/><circle cx="248.7" cy="348.2" r="0.6" fill="#acacb8"/><circle cx="281.3" cy="343.7" r="0.5" fill="#9c9caa"/><circle cx="276.4" cy="354.6" r="0.6" fill="#9c9caa"/><circle cx="237.5" cy="326.0" r="0.7" fill="#b4b4c0"/><circle cx="263.0" cy="352.5" r="0.5" fill="#acacb8"/><circle cx="265.9" cy="315.7" r="0.4" fill="#9c9caa"/><circle cx="254.8" cy="311.7" r="0.4" fill="#9c9caa"/><circle cx="288.4" cy="364.1" r="0.6" fill="#acacb8"/><circle cx="264.0" cy="372.8" r="0.6" fill="#b4b4c0"/><circle cx="266.8" cy="323.3" r="0.7" fill="#acacb8"/><circle cx="259.5" cy="334.2" r="0.7" fill="#a4a4b0"/><circle cx="238.5" cy="318.0" r="0.4" fill="#b4b4c0"/><circle cx="280.1" cy="339.9" r="0.6" fill="#9c9caa"/><circle cx="263.2" cy="319.1" r="0.6" fill="#9c9caa"/><circle cx="260.7" cy="334.3" r="0.4" fill="#a4a4b0"/><circle cx="240.8" cy="376.0" r="0.6" fill="#a4a4b0"/><circle cx="278.4" cy="321.0" r="0.4" fill="#9c9caa"/><circle cx="288.5" cy="352.7" r="0.7" fill="#9c9caa"/><circle cx="272.8" cy="379.6" r="0.6" fill="#b4b4c0"/><circle cx="281.3" cy="376.7" r="0.5" fill="#a4a4b0"/><circle cx="275.5" cy="356.6" r="0.5" fill="#9c9caa"/><circle cx="288.8" cy="337.7" r="0.6" fill="#9c9caa"/><circle cx="280.9" cy="355.1" r="0.6" fill="#b4b4c0"/><circle cx="239.4" cy="345.5" r="0.5" fill="#9c9caa"/><circle cx="241.8" cy="329.0" r="0.8" fill="#b4b4c0"/><circle cx="278.4" cy="313.1" r="0.6" fill="#acacb8"/><circle cx="272.7" cy="365.6" r="0.8" fill="#9c9caa"/><circle cx="298.5" cy="346.1" r="0.8" fill="#b4b4c0"/><circle cx="245.4" cy="379.7" r="0.6" fill="#9c9caa"/><circle cx="254.4" cy="362.8" r="0.4" fill="#b4b4c0"/><circle cx="269.2" cy="318.8" r="0.5" fill="#a4a4b0"/><circle cx="287.8" cy="320.5" r="0.6" fill="#9c9caa"/><circle cx="259.1" cy="365.4" r="0.5" fill="#b4b4c0"/><circle cx="298.6" cy="345.9" r="0.8" fill="#acacb8"/><circle cx="261.8" cy="325.9" r="0.4" fill="#9c9caa"/><circle cx="281.0" cy="320.3" r="0.7" fill="#9c9caa"/><circle cx="289.0" cy="352.2" r="0.4" fill="#b4b4c0"/><circle cx="265.2" cy="346.3" r="0.6" fill="#acacb8"/><circle cx="295.4" cy="343.2" r="0.6" fill="#a4a4b0"/><circle cx="244.7" cy="375.0" r="0.5" fill="#9c9caa"/><circle cx="277.0" cy="330.8" r="0.7" fill="#acacb8"/><circle cx="265.6" cy="322.6" r="0.7" fill="#a4a4b0"/><circle cx="242.6" cy="360.1" r="0.5" fill="#a4a4b0"/><circle cx="253.2" cy="380.0" r="0.8" fill="#a4a4b0"/><circle cx="262.0" cy="337.0" r="0.7" fill="#a4a4b0"/><circle cx="287.3" cy="363.9" r="0.5" fill="#9c9caa"/><circle cx="268.6" cy="378.2" r="0.8" fill="#9c9caa"/><circle cx="242.5" cy="366.3" r="0.5" fill="#a4a4b0"/><circle cx="292.9" cy="340.3" r="0.6" fill="#9c9caa"/><circle cx="264.0" cy="352.0" r="0.8" fill="#a4a4b0"/><circle cx="289.0" cy="371.8" r="0.8" fill="#9c9caa"/><circle cx="282.8" cy="360.0" r="0.6" fill="#acacb8"/><circle cx="278.8" cy="368.5" r="0.7" fill="#9c9caa"/><circle cx="268.0" cy="366.7" r="0.7" fill="#a4a4b0"/><circle cx="272.3" cy="311.1" r="0.8" fill="#acacb8"/><circle cx="270.4" cy="344.6" r="0.8" fill="#b4b4c0"/>
</g>
<text x="201.8" y="310.4" font-family="'Liberation Serif', serif" font-size="10" fill="#000" font-weight="bold" text-anchor="start">(e)</text>
<text x="313.2" y="310.8" font-family="'Liberation Serif', serif" font-size="6.85" fill="#111" font-weight="bold" text-anchor="start">BIRC5</text>
<text x="313.2" y="319.0" font-family="'Liberation Serif', serif" font-size="6.85" fill="#1e1e1e" text-anchor="start">Female, age 80</text>
<text x="313.2" y="327.3" font-family="'Liberation Serif', serif" font-size="6.85" fill="#1e1e1e" text-anchor="start">Breast (T-04000)</text>
<text x="313.2" y="335.5" font-family="'Liberation Serif', serif" font-size="6.85" fill="#1e1e1e" text-anchor="start">Duct carcinoma</text>
<text x="313.2" y="343.7" font-family="'Liberation Serif', serif" font-size="6.85" fill="#1e1e1e" text-anchor="start">Staining: Low</text>
<text x="313.2" y="352.0" font-family="'Liberation Serif', serif" font-size="6.85" fill="#1e1e1e" text-anchor="start">Intensity: Moderate</text>
<text x="313.2" y="360.2" font-family="'Liberation Serif', serif" font-size="6.85" fill="#1e1e1e" text-anchor="start">Quantity: &lt;25%</text>
<text x="313.2" y="368.4" font-family="'Liberation Serif', serif" font-size="6.85" fill="#1e1e1e" text-anchor="start">Location: Nuclear</text>
<text x="313.2" y="376.6" font-family="'Liberation Serif', serif" font-size="6.85" fill="#1e1e1e" text-anchor="start">Antibody: CAB004270</text>
<defs><filter id="hblur" x="-0.01" y="0" width="1.02" height="1"><feGaussianBlur stdDeviation="0.45 0"/></filter></defs>
<text x="55.1" y="401.9" font-family="'Liberation Sans', sans-serif" font-size="6.0" fill="#111" text-anchor="start" textLength="18.8" lengthAdjust="spacingAndGlyphs">Normal</text>
<text x="341.3" y="401.9" font-family="'Liberation Sans', sans-serif" font-size="5.8" fill="#111" text-anchor="start" textLength="15.3" lengthAdjust="spacingAndGlyphs">Tumor</text>
<text x="4.0" y="412.59999999999997" font-family="'Liberation Serif', serif" font-size="9.2" fill="#000" font-weight="bold" text-anchor="start">(f)</text>
<text x="22.4" y="411.6" font-family="'Liberation Sans', sans-serif" font-size="6.5" fill="#1a1a1a" text-anchor="start" textLength="13.2" lengthAdjust="spacingAndGlyphs">TNBC</text>
<g filter="url(#hblur)"><rect x="39.00" y="404.9" width="171.00" height="9" fill="#1a73e8"/><rect x="60.69" y="404.9" width="1.34" height="9" fill="#5094f0"/><rect x="73.36" y="404.9" width="1.02" height="9" fill="#2c7fec"/><rect x="84.68" y="404.9" width="0.95" height="9" fill="#2c7fec"/><rect x="93.06" y="404.9" width="1.40" height="9" fill="#2c7fec"/><rect x="109.45" y="404.9" width="1.24" height="9" fill="#2c7fec"/><rect x="113.75" y="404.9" width="1.80" height="9" fill="#2c7fec"/><rect x="121.98" y="404.9" width="0.72" height="9" fill="#2c7fec"/><rect x="125.53" y="404.9" width="1.75" height="9" fill="#2c7fec"/><rect x="131.76" y="404.9" width="1.02" height="9" fill="#2c7fec"/><rect x="143.10" y="404.9" width="0.97" height="9" fill="#2c7fec"/><rect x="163.04" y="404.9" width="1.00" height="9" fill="#2c7fec"/><rect x="168.53" y="404.9" width="1.86" height="9" fill="#2c7fec"/><rect x="174.58" y="404.9" width="1.15" height="9" fill="#5094f0"/><rect x="178.00" y="404.9" width="1.85" height="9" fill="#5094f0"/><rect x="187.39" y="404.9" width="0.89" height="9" fill="#5094f0"/><rect x="195.85" y="404.9" width="1.33" height="9" fill="#2c7fec"/><rect x="202.48" y="404.9" width="1.90" height="9" fill="#5094f0"/><rect x="205.17" y="404.9" width="1.02" height="9" fill="#2c7fec"/><rect x="206.19" y="404.9" width="1.76" height="9" fill="#2c7fec"/></g>
<g filter="url(#hblur)"><rect x="210.00" y="404.9" width="172.70" height="9" fill="#bab6f0"/><rect x="210.00" y="404.9" width="1.43" height="9" fill="#287aea"/><rect x="214.60" y="404.9" width="1.50" height="9" fill="#6292f0"/><rect x="216.96" y="404.9" width="0.83" height="9" fill="#d6b6ec"/><rect x="217.78" y="404.9" width="1.03" height="9" fill="#86a2f0"/><rect x="221.83" y="404.9" width="1.29" height="9" fill="#6292f0"/><rect x="226.04" y="404.9" width="0.70" height="9" fill="#86a2f0"/><rect x="228.21" y="404.9" width="1.59" height="9" fill="#d6b6ec"/><rect x="231.02" y="404.9" width="0.79" height="9" fill="#6292f0"/><rect x="231.81" y="404.9" width="1.78" height="9" fill="#d6b6ec"/><rect x="233.59" y="404.9" width="1.70" height="9" fill="#86a2f0"/><rect x="236.17" y="404.9" width="1.07" height="9" fill="#6292f0"/><rect x="237.24" y="404.9" width="1.66" height="9" fill="#6292f0"/><rect x="241.67" y="404.9" width="1.64" height="9" fill="#6292f0"/><rect x="243.31" y="404.9" width="1.19" height="9" fill="#86a2f0"/><rect x="244.50" y="404.9" width="0.89" height="9" fill="#6292f0"/><rect x="245.38" y="404.9" width="1.74" height="9" fill="#287aea"/><rect x="247.12" y="404.9" width="1.67" height="9" fill="#6292f0"/><rect x="248.79" y="404.9" width="0.73" height="9" fill="#86a2f0"/><rect x="249.52" y="404.9" width="1.10" height="9" fill="#6292f0"/><rect x="250.62" y="404.9" width="1.66" height="9" fill="#6292f0"/><rect x="255.60" y="404.9" width="1.75" height="9" fill="#6292f0"/><rect x="257.35" y="404.9" width="0.97" height="9" fill="#86a2f0"/><rect x="261.95" y="404.9" width="1.09" height="9" fill="#6292f0"/><rect x="264.90" y="404.9" width="1.47" height="9" fill="#d6b6ec"/><rect x="266.37" y="404.9" width="1.88" height="9" fill="#d6b6ec"/><rect x="273.80" y="404.9" width="0.83" height="9" fill="#d6b6ec"/><rect x="276.20" y="404.9" width="1.43" height="9" fill="#d6b6ec"/><rect x="277.63" y="404.9" width="1.16" height="9" fill="#d6b6ec"/><rect x="278.79" y="404.9" width="1.01" height="9" fill="#86a2f0"/><rect x="279.80" y="404.9" width="0.70" height="9" fill="#6292f0"/><rect x="280.50" y="404.9" width="1.35" height="9" fill="#86a2f0"/><rect x="281.85" y="404.9" width="1.59" height="9" fill="#86a2f0"/><rect x="286.07" y="404.9" width="1.08" height="9" fill="#6292f0"/><rect x="288.71" y="404.9" width="1.07" height="9" fill="#d6b6ec"/><rect x="290.96" y="404.9" width="0.85" height="9" fill="#d6b6ec"/><rect x="291.82" y="404.9" width="1.83" height="9" fill="#86a2f0"/><rect x="293.65" y="404.9" width="1.78" height="9" fill="#86a2f0"/><rect x="295.43" y="404.9" width="1.06" height="9" fill="#d6b6ec"/><rect x="297.19" y="404.9" width="1.22" height="9" fill="#d6b6ec"/><rect x="298.41" y="404.9" width="1.49" height="9" fill="#d6b6ec"/><rect x="301.12" y="404.9" width="1.27" height="9" fill="#6292f0"/><rect x="304.05" y="404.9" width="0.80" height="9" fill="#d6b6ec"/><rect x="306.31" y="404.9" width="1.68" height="9" fill="#86a2f0"/><rect x="310.44" y="404.9" width="0.99" height="9" fill="#d6b6ec"/><rect x="313.15" y="404.9" width="1.20" height="9" fill="#86a2f0"/><rect x="314.35" y="404.9" width="0.93" height="9" fill="#86a2f0"/><rect x="318.06" y="404.9" width="1.60" height="9" fill="#86a2f0"/><rect x="319.66" y="404.9" width="0.83" height="9" fill="#d6b6ec"/><rect x="320.49" y="404.9" width="0.91" height="9" fill="#287aea"/><rect x="322.72" y="404.9" width="1.00" height="9" fill="#6292f0"/><rect x="323.72" y="404.9" width="1.25" height="9" fill="#86a2f0"/><rect x="324.97" y="404.9" width="1.50" height="9" fill="#287aea"/><rect x="326.47" y="404.9" width="1.41" height="9" fill="#287aea"/><rect x="327.88" y="404.9" width="1.77" height="9" fill="#86a2f0"/><rect x="329.65" y="404.9" width="1.56" height="9" fill="#d6b6ec"/><rect x="331.22" y="404.9" width="1.70" height="9" fill="#d6b6ec"/><rect x="332.91" y="404.9" width="1.78" height="9" fill="#86a2f0"/><rect x="335.96" y="404.9" width="1.00" height="9" fill="#86a2f0"/><rect x="336.96" y="404.9" width="1.62" height="9" fill="#d6b6ec"/><rect x="343.20" y="404.9" width="0.98" height="9" fill="#86a2f0"/><rect x="345.72" y="404.9" width="1.19" height="9" fill="#d6b6ec"/><rect x="348.11" y="404.9" width="1.20" height="9" fill="#6292f0"/><rect x="349.31" y="404.9" width="1.40" height="9" fill="#86a2f0"/><rect x="350.71" y="404.9" width="1.73" height="9" fill="#86a2f0"/><rect x="353.60" y="404.9" width="1.12" height="9" fill="#86a2f0"/><rect x="354.72" y="404.9" width="1.72" height="9" fill="#287aea"/><rect x="356.44" y="404.9" width="1.20" height="9" fill="#86a2f0"/><rect x="357.65" y="404.9" width="1.36" height="9" fill="#86a2f0"/><rect x="361.19" y="404.9" width="1.10" height="9" fill="#86a2f0"/><rect x="366.19" y="404.9" width="1.17" height="9" fill="#d6b6ec"/><rect x="367.36" y="404.9" width="0.73" height="9" fill="#86a2f0"/><rect x="368.09" y="404.9" width="0.86" height="9" fill="#d6b6ec"/><rect x="368.95" y="404.9" width="0.76" height="9" fill="#d6b6ec"/><rect x="370.67" y="404.9" width="1.61" height="9" fill="#d6b6ec"/><rect x="372.28" y="404.9" width="1.60" height="9" fill="#86a2f0"/><rect x="374.89" y="404.9" width="0.72" height="9" fill="#d6b6ec"/><rect x="375.61" y="404.9" width="1.90" height="9" fill="#d6b6ec"/><rect x="377.51" y="404.9" width="1.48" height="9" fill="#86a2f0"/><rect x="378.99" y="404.9" width="1.48" height="9" fill="#86a2f0"/></g>
<rect x="209.5" y="404.9" width="1" height="9" fill="#1a2238"/>
<text x="4.0" y="425.2" font-family="'Liberation Serif', serif" font-size="9.2" fill="#000" font-weight="bold" text-anchor="start">(g)</text>
<text x="21.9" y="423.6" font-family="'Liberation Sans', sans-serif" font-size="6.5" fill="#1a1a1a" text-anchor="start" textLength="13.3" lengthAdjust="spacingAndGlyphs">HER2</text>
<g filter="url(#hblur)"><rect x="39.00" y="417.5" width="260.50" height="9" fill="#1a73e8"/><rect x="45.27" y="417.5" width="1.68" height="9" fill="#5094f0"/><rect x="56.33" y="417.5" width="0.85" height="9" fill="#5094f0"/><rect x="63.06" y="417.5" width="0.83" height="9" fill="#5094f0"/><rect x="66.90" y="417.5" width="1.58" height="9" fill="#5094f0"/><rect x="81.63" y="417.5" width="1.11" height="9" fill="#2c7fec"/><rect x="84.28" y="417.5" width="0.71" height="9" fill="#2c7fec"/><rect x="136.27" y="417.5" width="1.59" height="9" fill="#2c7fec"/><rect x="145.85" y="417.5" width="1.52" height="9" fill="#2c7fec"/><rect x="149.02" y="417.5" width="1.49" height="9" fill="#2c7fec"/><rect x="151.72" y="417.5" width="1.48" height="9" fill="#2c7fec"/><rect x="164.92" y="417.5" width="0.81" height="9" fill="#5094f0"/><rect x="167.43" y="417.5" width="1.84" height="9" fill="#5094f0"/><rect x="181.00" y="417.5" width="1.05" height="9" fill="#2c7fec"/><rect x="184.97" y="417.5" width="1.09" height="9" fill="#5094f0"/><rect x="194.63" y="417.5" width="1.36" height="9" fill="#2c7fec"/><rect x="197.21" y="417.5" width="0.85" height="9" fill="#5094f0"/><rect x="201.74" y="417.5" width="1.89" height="9" fill="#2c7fec"/><rect x="217.00" y="417.5" width="1.20" height="9" fill="#2c7fec"/><rect x="220.55" y="417.5" width="1.40" height="9" fill="#5094f0"/><rect x="246.06" y="417.5" width="1.26" height="9" fill="#5094f0"/><rect x="256.88" y="417.5" width="1.81" height="9" fill="#5094f0"/><rect x="262.85" y="417.5" width="1.53" height="9" fill="#2c7fec"/><rect x="271.09" y="417.5" width="0.99" height="9" fill="#2c7fec"/><rect x="291.60" y="417.5" width="1.30" height="9" fill="#2c7fec"/></g>
<g filter="url(#hblur)"><rect x="299.50" y="417.5" width="84.00" height="9" fill="#80a2f0"/><rect x="299.50" y="417.5" width="1.45" height="9" fill="#6294f0"/><rect x="303.66" y="417.5" width="1.58" height="9" fill="#b6b4f0"/><rect x="305.24" y="417.5" width="1.05" height="9" fill="#6294f0"/><rect x="306.29" y="417.5" width="0.91" height="9" fill="#b6b4f0"/><rect x="307.20" y="417.5" width="1.35" height="9" fill="#327eec"/><rect x="308.55" y="417.5" width="1.34" height="9" fill="#6294f0"/><rect x="309.89" y="417.5" width="1.70" height="9" fill="#d4b6ec"/><rect x="313.27" y="417.5" width="1.67" height="9" fill="#6294f0"/><rect x="314.94" y="417.5" width="1.11" height="9" fill="#b6b4f0"/><rect x="316.05" y="417.5" width="1.86" height="9" fill="#b6b4f0"/><rect x="317.90" y="417.5" width="1.86" height="9" fill="#6294f0"/><rect x="319.76" y="417.5" width="1.57" height="9" fill="#327eec"/><rect x="321.33" y="417.5" width="1.86" height="9" fill="#6294f0"/><rect x="323.19" y="417.5" width="1.14" height="9" fill="#6294f0"/><rect x="325.05" y="417.5" width="1.25" height="9" fill="#6294f0"/><rect x="327.80" y="417.5" width="1.69" height="9" fill="#327eec"/><rect x="329.49" y="417.5" width="0.83" height="9" fill="#d4b6ec"/><rect x="330.32" y="417.5" width="0.73" height="9" fill="#6294f0"/><rect x="331.05" y="417.5" width="1.37" height="9" fill="#6294f0"/><rect x="332.42" y="417.5" width="0.97" height="9" fill="#b6b4f0"/><rect x="333.39" y="417.5" width="1.69" height="9" fill="#6294f0"/><rect x="336.14" y="417.5" width="0.87" height="9" fill="#327eec"/><rect x="338.07" y="417.5" width="0.82" height="9" fill="#6294f0"/><rect x="339.75" y="417.5" width="1.50" height="9" fill="#6294f0"/><rect x="343.09" y="417.5" width="1.59" height="9" fill="#b6b4f0"/><rect x="344.68" y="417.5" width="1.20" height="9" fill="#b6b4f0"/><rect x="347.17" y="417.5" width="1.84" height="9" fill="#b6b4f0"/><rect x="350.15" y="417.5" width="1.84" height="9" fill="#6294f0"/><rect x="351.99" y="417.5" width="0.82" height="9" fill="#6294f0"/><rect x="352.81" y="417.5" width="1.35" height="9" fill="#327eec"/><rect x="355.30" y="417.5" width="0.93" height="9" fill="#b6b4f0"/><rect x="357.94" y="417.5" width="1.50" height="9" fill="#6294f0"/><rect x="359.44" y="417.5" width="1.42" height="9" fill="#b6b4f0"/><rect x="360.85" y="417.5" width="1.64" height="9" fill="#d4b6ec"/><rect x="363.35" y="417.5" width="0.78" height="9" fill="#6294f0"/><rect x="364.13" y="417.5" width="0.95" height="9" fill="#d4b6ec"/><rect x="366.82" y="417.5" width="0.88" height="9" fill="#6294f0"/><rect x="367.70" y="417.5" width="0.70" height="9" fill="#6294f0"/><rect x="368.40" y="417.5" width="0.87" height="9" fill="#b6b4f0"/><rect x="369.28" y="417.5" width="1.00" height="9" fill="#b6b4f0"/><rect x="370.28" y="417.5" width="1.49" height="9" fill="#b6b4f0"/><rect x="371.77" y="417.5" width="0.72" height="9" fill="#6294f0"/><rect x="373.47" y="417.5" width="0.91" height="9" fill="#b6b4f0"/><rect x="380.03" y="417.5" width="1.83" height="9" fill="#b6b4f0"/><rect x="381.87" y="417.5" width="1.63" height="9" fill="#6294f0"/></g>
<rect x="299.0" y="417.5" width="1" height="9" fill="#1a2238"/>
<text x="4.0" y="437.9" font-family="'Liberation Serif', serif" font-size="9.2" fill="#000" font-weight="bold" text-anchor="start">(h)</text>
<text x="15.9" y="437.0" font-family="'Liberation Sans', sans-serif" font-size="6.5" fill="#1a1a1a" text-anchor="start" textLength="19.5" lengthAdjust="spacingAndGlyphs">Luminal</text>
<g filter="url(#hblur)"><rect x="39.00" y="430.2" width="57.50" height="9" fill="#1a73e8"/><rect x="49.81" y="430.2" width="1.09" height="9" fill="#5094f0"/><rect x="75.38" y="430.2" width="1.57" height="9" fill="#5094f0"/><rect x="84.61" y="430.2" width="1.71" height="9" fill="#5094f0"/></g>
<g filter="url(#hblur)"><rect x="96.50" y="430.2" width="287.00" height="9" fill="#5690f0"/><rect x="96.50" y="430.2" width="1.18" height="9" fill="#7ca0f0"/><rect x="97.68" y="430.2" width="1.46" height="9" fill="#b2b4f0"/><rect x="99.14" y="430.2" width="1.60" height="9" fill="#7ca0f0"/><rect x="100.74" y="430.2" width="1.20" height="9" fill="#7ca0f0"/><rect x="104.72" y="430.2" width="0.80" height="9" fill="#b2b4f0"/><rect x="106.41" y="430.2" width="1.51" height="9" fill="#7ca0f0"/><rect x="107.92" y="430.2" width="1.49" height="9" fill="#7ca0f0"/><rect x="109.41" y="430.2" width="1.23" height="9" fill="#7ca0f0"/><rect x="110.64" y="430.2" width="1.61" height="9" fill="#d0b6ec"/><rect x="112.25" y="430.2" width="1.22" height="9" fill="#7ca0f0"/><rect x="113.46" y="430.2" width="1.51" height="9" fill="#7ca0f0"/><rect x="114.98" y="430.2" width="1.50" height="9" fill="#b2b4f0"/><rect x="117.65" y="430.2" width="0.71" height="9" fill="#7ca0f0"/><rect x="118.36" y="430.2" width="0.95" height="9" fill="#7ca0f0"/><rect x="119.31" y="430.2" width="1.01" height="9" fill="#7ca0f0"/><rect x="121.03" y="430.2" width="0.91" height="9" fill="#7ca0f0"/><rect x="125.97" y="430.2" width="0.75" height="9" fill="#b2b4f0"/><rect x="129.92" y="430.2" width="1.55" height="9" fill="#7ca0f0"/><rect x="131.47" y="430.2" width="0.84" height="9" fill="#b2b4f0"/><rect x="134.84" y="430.2" width="1.80" height="9" fill="#b2b4f0"/><rect x="136.64" y="430.2" width="1.71" height="9" fill="#7ca0f0"/><rect x="139.76" y="430.2" width="1.17" height="9" fill="#7ca0f0"/><rect x="140.94" y="430.2" width="1.11" height="9" fill="#7ca0f0"/><rect x="143.78" y="430.2" width="1.79" height="9" fill="#7ca0f0"/><rect x="147.14" y="430.2" width="1.68" height="9" fill="#7ca0f0"/><rect x="148.82" y="430.2" width="0.88" height="9" fill="#7ca0f0"/><rect x="151.12" y="430.2" width="1.49" height="9" fill="#7ca0f0"/><rect x="152.61" y="430.2" width="1.63" height="9" fill="#7ca0f0"/><rect x="155.84" y="430.2" width="1.24" height="9" fill="#307eec"/><rect x="159.91" y="430.2" width="1.45" height="9" fill="#7ca0f0"/><rect x="161.36" y="430.2" width="0.78" height="9" fill="#7ca0f0"/><rect x="162.14" y="430.2" width="1.06" height="9" fill="#7ca0f0"/><rect x="163.97" y="430.2" width="1.07" height="9" fill="#7ca0f0"/><rect x="168.33" y="430.2" width="1.31" height="9" fill="#7ca0f0"/><rect x="171.00" y="430.2" width="1.78" height="9" fill="#7ca0f0"/><rect x="174.45" y="430.2" width="1.09" height="9" fill="#7ca0f0"/><rect x="175.54" y="430.2" width="0.88" height="9" fill="#b2b4f0"/><rect x="178.35" y="430.2" width="1.31" height="9" fill="#7ca0f0"/><rect x="179.66" y="430.2" width="1.00" height="9" fill="#7ca0f0"/><rect x="181.88" y="430.2" width="0.89" height="9" fill="#7ca0f0"/><rect x="182.77" y="430.2" width="1.04" height="9" fill="#7ca0f0"/><rect x="186.57" y="430.2" width="0.78" height="9" fill="#b2b4f0"/><rect x="187.35" y="430.2" width="1.51" height="9" fill="#7ca0f0"/><rect x="193.32" y="430.2" width="0.87" height="9" fill="#7ca0f0"/><rect x="197.22" y="430.2" width="1.83" height="9" fill="#7ca0f0"/><rect x="205.09" y="430.2" width="1.48" height="9" fill="#7ca0f0"/><rect x="206.56" y="430.2" width="1.13" height="9" fill="#7ca0f0"/><rect x="207.70" y="430.2" width="0.92" height="9" fill="#7ca0f0"/><rect x="208.61" y="430.2" width="1.84" height="9" fill="#7ca0f0"/><rect x="210.45" y="430.2" width="0.97" height="9" fill="#7ca0f0"/><rect x="214.74" y="430.2" width="0.75" height="9" fill="#7ca0f0"/><rect x="215.48" y="430.2" width="1.62" height="9" fill="#7ca0f0"/><rect x="217.10" y="430.2" width="1.15" height="9" fill="#7ca0f0"/><rect x="219.95" y="430.2" width="1.67" height="9" fill="#7ca0f0"/><rect x="221.63" y="430.2" width="1.23" height="9" fill="#7ca0f0"/><rect x="222.85" y="430.2" width="1.51" height="9" fill="#7ca0f0"/><rect x="224.36" y="430.2" width="1.23" height="9" fill="#7ca0f0"/><rect x="225.59" y="430.2" width="1.60" height="9" fill="#7ca0f0"/><rect x="227.19" y="430.2" width="1.34" height="9" fill="#7ca0f0"/><rect x="228.53" y="430.2" width="1.67" height="9" fill="#7ca0f0"/><rect x="230.20" y="430.2" width="1.70" height="9" fill="#7ca0f0"/><rect x="231.91" y="430.2" width="1.84" height="9" fill="#307eec"/><rect x="233.74" y="430.2" width="1.25" height="9" fill="#7ca0f0"/><rect x="238.01" y="430.2" width="1.66" height="9" fill="#7ca0f0"/><rect x="243.25" y="430.2" width="1.72" height="9" fill="#7ca0f0"/><rect x="244.97" y="430.2" width="1.62" height="9" fill="#7ca0f0"/><rect x="246.59" y="430.2" width="1.79" height="9" fill="#7ca0f0"/><rect x="248.37" y="430.2" width="1.22" height="9" fill="#307eec"/><rect x="249.60" y="430.2" width="0.97" height="9" fill="#7ca0f0"/><rect x="250.56" y="430.2" width="1.12" height="9" fill="#b2b4f0"/><rect x="252.45" y="430.2" width="0.98" height="9" fill="#307eec"/><rect x="253.43" y="430.2" width="1.15" height="9" fill="#b2b4f0"/><rect x="257.88" y="430.2" width="0.87" height="9" fill="#7ca0f0"/><rect x="261.30" y="430.2" width="1.24" height="9" fill="#b2b4f0"/><rect x="262.54" y="430.2" width="0.80" height="9" fill="#7ca0f0"/><rect x="266.61" y="430.2" width="0.83" height="9" fill="#7ca0f0"/><rect x="267.45" y="430.2" width="1.06" height="9" fill="#b2b4f0"/><rect x="269.71" y="430.2" width="1.25" height="9" fill="#d0b6ec"/><rect x="273.46" y="430.2" width="0.99" height="9" fill="#7ca0f0"/><rect x="275.67" y="430.2" width="0.99" height="9" fill="#7ca0f0"/><rect x="276.66" y="430.2" width="1.50" height="9" fill="#b2b4f0"/><rect x="278.16" y="430.2" width="1.87" height="9" fill="#b2b4f0"/><rect x="283.24" y="430.2" width="1.17" height="9" fill="#7ca0f0"/><rect x="284.41" y="430.2" width="1.46" height="9" fill="#307eec"/><rect x="285.87" y="430.2" width="1.00" height="9" fill="#b2b4f0"/><rect x="286.88" y="430.2" width="1.65" height="9" fill="#7ca0f0"/><rect x="291.73" y="430.2" width="1.10" height="9" fill="#b2b4f0"/><rect x="298.59" y="430.2" width="1.25" height="9" fill="#7ca0f0"/><rect x="299.84" y="430.2" width="0.75" height="9" fill="#7ca0f0"/><rect x="300.59" y="430.2" width="0.75" height="9" fill="#307eec"/><rect x="301.34" y="430.2" width="1.32" height="9" fill="#307eec"/><rect x="302.66" y="430.2" width="1.35" height="9" fill="#7ca0f0"/><rect x="304.01" y="430.2" width="1.60" height="9" fill="#7ca0f0"/><rect x="306.74" y="430.2" width="1.74" height="9" fill="#7ca0f0"/><rect x="308.48" y="430.2" width="0.85" height="9" fill="#7ca0f0"/><rect x="311.10" y="430.2" width="1.77" height="9" fill="#7ca0f0"/><rect x="312.87" y="430.2" width="1.87" height="9" fill="#7ca0f0"/><rect x="314.74" y="430.2" width="1.30" height="9" fill="#307eec"/><rect x="317.36" y="430.2" width="1.57" height="9" fill="#b2b4f0"/><rect x="320.35" y="430.2" width="1.35" height="9" fill="#7ca0f0"/><rect x="324.78" y="430.2" width="1.12" height="9" fill="#b2b4f0"/><rect x="325.91" y="430.2" width="1.74" height="9" fill="#7ca0f0"/><rect x="327.65" y="430.2" width="1.90" height="9" fill="#7ca0f0"/><rect x="329.55" y="430.2" width="1.88" height="9" fill="#307eec"/><rect x="333.35" y="430.2" width="1.52" height="9" fill="#307eec"/><rect x="335.74" y="430.2" width="1.64" height="9" fill="#b2b4f0"/><rect x="338.15" y="430.2" width="1.14" height="9" fill="#7ca0f0"/><rect x="340.67" y="430.2" width="1.51" height="9" fill="#307eec"/><rect x="345.90" y="430.2" width="1.00" height="9" fill="#d0b6ec"/><rect x="346.90" y="430.2" width="1.58" height="9" fill="#7ca0f0"/><rect x="349.65" y="430.2" width="1.01" height="9" fill="#7ca0f0"/><rect x="350.66" y="430.2" width="1.24" height="9" fill="#307eec"/><rect x="351.90" y="430.2" width="1.04" height="9" fill="#307eec"/><rect x="352.94" y="430.2" width="1.29" height="9" fill="#d0b6ec"/><rect x="354.23" y="430.2" width="1.72" height="9" fill="#7ca0f0"/><rect x="355.95" y="430.2" width="1.78" height="9" fill="#7ca0f0"/><rect x="358.54" y="430.2" width="1.71" height="9" fill="#7ca0f0"/><rect x="360.25" y="430.2" width="1.12" height="9" fill="#b2b4f0"/><rect x="367.91" y="430.2" width="0.85" height="9" fill="#7ca0f0"/><rect x="372.86" y="430.2" width="0.80" height="9" fill="#7ca0f0"/><rect x="376.89" y="430.2" width="1.69" height="9" fill="#b2b4f0"/></g>
<rect x="96.0" y="430.2" width="1" height="9" fill="#1a2238"/>
<text x="3.8" y="468.0" font-family="'Liberation Serif', serif" font-size="9.2" fill="#000" font-weight="bold" text-anchor="start">(i)</text>
<text x="22.0" y="467.6" font-family="'Liberation Sans', sans-serif" font-size="6.4" fill="#1a1a1a" text-anchor="start" textLength="13.6" lengthAdjust="spacingAndGlyphs">Stage</text>
<g filter="url(#hblur)"><rect x="39.80" y="462.1" width="32.80" height="8.8" fill="#1a73e8"/><rect x="39.80" y="462.1" width="0.92" height="8.8" fill="#5094f0"/><rect x="40.72" y="462.1" width="1.22" height="8.8" fill="#2c7fec"/><rect x="44.67" y="462.1" width="1.12" height="8.8" fill="#2c7fec"/><rect x="64.60" y="462.1" width="1.05" height="8.8" fill="#2c7fec"/></g>
<g filter="url(#hblur)"><rect x="72.60" y="462.1" width="311.20" height="8.8" fill="#7ca0f0"/><rect x="72.60" y="462.1" width="1.87" height="8.8" fill="#d0b6ec"/><rect x="74.47" y="462.1" width="1.14" height="8.8" fill="#5891f0"/><rect x="78.54" y="462.1" width="1.16" height="8.8" fill="#5891f0"/><rect x="79.70" y="462.1" width="1.00" height="8.8" fill="#5891f0"/><rect x="85.91" y="462.1" width="1.07" height="8.8" fill="#b2b4f0"/><rect x="90.68" y="462.1" width="1.12" height="8.8" fill="#b2b4f0"/><rect x="91.80" y="462.1" width="1.29" height="8.8" fill="#5891f0"/><rect x="94.58" y="462.1" width="1.34" height="8.8" fill="#5891f0"/><rect x="95.92" y="462.1" width="1.22" height="8.8" fill="#5891f0"/><rect x="97.14" y="462.1" width="1.57" height="8.8" fill="#5891f0"/><rect x="101.24" y="462.1" width="1.36" height="8.8" fill="#b2b4f0"/><rect x="102.60" y="462.1" width="1.31" height="8.8" fill="#5891f0"/><rect x="103.91" y="462.1" width="1.04" height="8.8" fill="#307eec"/><rect x="104.94" y="462.1" width="1.52" height="8.8" fill="#b2b4f0"/><rect x="109.98" y="462.1" width="1.83" height="8.8" fill="#5891f0"/><rect x="112.75" y="462.1" width="1.30" height="8.8" fill="#b2b4f0"/><rect x="117.61" y="462.1" width="1.09" height="8.8" fill="#5891f0"/><rect x="118.70" y="462.1" width="0.90" height="8.8" fill="#307eec"/><rect x="121.18" y="462.1" width="1.10" height="8.8" fill="#5891f0"/><rect x="122.29" y="462.1" width="1.34" height="8.8" fill="#5891f0"/><rect x="123.63" y="462.1" width="1.06" height="8.8" fill="#5891f0"/><rect x="124.69" y="462.1" width="1.14" height="8.8" fill="#5891f0"/><rect x="125.83" y="462.1" width="1.88" height="8.8" fill="#5891f0"/><rect x="127.70" y="462.1" width="1.66" height="8.8" fill="#5891f0"/><rect x="129.36" y="462.1" width="1.53" height="8.8" fill="#b2b4f0"/><rect x="130.89" y="462.1" width="1.27" height="8.8" fill="#307eec"/><rect x="132.16" y="462.1" width="1.64" height="8.8" fill="#5891f0"/><rect x="133.79" y="462.1" width="1.39" height="8.8" fill="#5891f0"/><rect x="136.59" y="462.1" width="1.45" height="8.8" fill="#5891f0"/><rect x="138.04" y="462.1" width="1.71" height="8.8" fill="#d0b6ec"/><rect x="139.75" y="462.1" width="1.52" height="8.8" fill="#b2b4f0"/><rect x="141.27" y="462.1" width="1.84" height="8.8" fill="#b2b4f0"/><rect x="143.83" y="462.1" width="0.88" height="8.8" fill="#5891f0"/><rect x="144.71" y="462.1" width="1.19" height="8.8" fill="#5891f0"/><rect x="145.90" y="462.1" width="1.80" height="8.8" fill="#5891f0"/><rect x="147.71" y="462.1" width="1.58" height="8.8" fill="#b2b4f0"/><rect x="150.16" y="462.1" width="1.09" height="8.8" fill="#5891f0"/><rect x="152.58" y="462.1" width="0.91" height="8.8" fill="#5891f0"/><rect x="154.60" y="462.1" width="1.63" height="8.8" fill="#5891f0"/><rect x="156.22" y="462.1" width="1.47" height="8.8" fill="#5891f0"/><rect x="159.13" y="462.1" width="1.00" height="8.8" fill="#5891f0"/><rect x="160.12" y="462.1" width="0.97" height="8.8" fill="#307eec"/><rect x="162.15" y="462.1" width="0.95" height="8.8" fill="#5891f0"/><rect x="164.18" y="462.1" width="1.82" height="8.8" fill="#5891f0"/><rect x="166.00" y="462.1" width="1.03" height="8.8" fill="#d0b6ec"/><rect x="168.54" y="462.1" width="1.88" height="8.8" fill="#5891f0"/><rect x="170.42" y="462.1" width="1.85" height="8.8" fill="#5891f0"/><rect x="177.37" y="462.1" width="1.35" height="8.8" fill="#307eec"/><rect x="178.72" y="462.1" width="1.54" height="8.8" fill="#d0b6ec"/><rect x="180.25" y="462.1" width="1.44" height="8.8" fill="#5891f0"/><rect x="181.69" y="462.1" width="0.99" height="8.8" fill="#5891f0"/><rect x="182.68" y="462.1" width="1.34" height="8.8" fill="#5891f0"/><rect x="184.78" y="462.1" width="1.56" height="8.8" fill="#b2b4f0"/><rect x="186.35" y="462.1" width="1.62" height="8.8" fill="#b2b4f0"/><rect x="187.97" y="462.1" width="1.36" height="8.8" fill="#307eec"/><rect x="189.33" y="462.1" width="1.19" height="8.8" fill="#307eec"/><rect x="192.27" y="462.1" width="0.94" height="8.8" fill="#307eec"/><rect x="193.21" y="462.1" width="1.09" height="8.8" fill="#5891f0"/><rect x="194.30" y="462.1" width="1.79" height="8.8" fill="#b2b4f0"/><rect x="197.48" y="462.1" width="1.57" height="8.8" fill="#307eec"/><rect x="202.60" y="462.1" width="1.80" height="8.8" fill="#307eec"/><rect x="205.58" y="462.1" width="1.82" height="8.8" fill="#307eec"/><rect x="207.40" y="462.1" width="1.81" height="8.8" fill="#5891f0"/><rect x="209.21" y="462.1" width="0.71" height="8.8" fill="#5891f0"/><rect x="209.92" y="462.1" width="0.83" height="8.8" fill="#307eec"/><rect x="210.75" y="462.1" width="1.04" height="8.8" fill="#307eec"/><rect x="213.15" y="462.1" width="1.83" height="8.8" fill="#5891f0"/><rect x="216.23" y="462.1" width="0.84" height="8.8" fill="#d0b6ec"/><rect x="218.32" y="462.1" width="0.92" height="8.8" fill="#5891f0"/><rect x="219.24" y="462.1" width="1.65" height="8.8" fill="#5891f0"/><rect x="222.50" y="462.1" width="1.73" height="8.8" fill="#5891f0"/><rect x="225.92" y="462.1" width="0.80" height="8.8" fill="#5891f0"/><rect x="226.73" y="462.1" width="0.92" height="8.8" fill="#d0b6ec"/><rect x="229.75" y="462.1" width="1.60" height="8.8" fill="#307eec"/><rect x="231.35" y="462.1" width="1.06" height="8.8" fill="#5891f0"/><rect x="232.42" y="462.1" width="0.71" height="8.8" fill="#5891f0"/><rect x="233.13" y="462.1" width="1.53" height="8.8" fill="#b2b4f0"/><rect x="236.69" y="462.1" width="1.77" height="8.8" fill="#5891f0"/><rect x="238.46" y="462.1" width="1.07" height="8.8" fill="#b2b4f0"/><rect x="242.77" y="462.1" width="0.86" height="8.8" fill="#d0b6ec"/><rect x="243.63" y="462.1" width="1.60" height="8.8" fill="#5891f0"/><rect x="249.19" y="462.1" width="1.00" height="8.8" fill="#5891f0"/><rect x="250.19" y="462.1" width="1.75" height="8.8" fill="#b2b4f0"/><rect x="251.94" y="462.1" width="1.24" height="8.8" fill="#5891f0"/><rect x="253.17" y="462.1" width="0.79" height="8.8" fill="#5891f0"/><rect x="254.74" y="462.1" width="1.31" height="8.8" fill="#5891f0"/><rect x="256.93" y="462.1" width="1.32" height="8.8" fill="#b2b4f0"/><rect x="258.25" y="462.1" width="0.95" height="8.8" fill="#5891f0"/><rect x="263.76" y="462.1" width="1.67" height="8.8" fill="#5891f0"/><rect x="265.43" y="462.1" width="1.18" height="8.8" fill="#5891f0"/><rect x="266.61" y="462.1" width="1.59" height="8.8" fill="#5891f0"/><rect x="268.95" y="462.1" width="0.78" height="8.8" fill="#307eec"/><rect x="269.73" y="462.1" width="1.82" height="8.8" fill="#b2b4f0"/><rect x="271.55" y="462.1" width="1.82" height="8.8" fill="#b2b4f0"/><rect x="273.37" y="462.1" width="1.19" height="8.8" fill="#5891f0"/><rect x="274.56" y="462.1" width="1.62" height="8.8" fill="#307eec"/><rect x="279.55" y="462.1" width="1.74" height="8.8" fill="#5891f0"/><rect x="281.29" y="462.1" width="1.15" height="8.8" fill="#5891f0"/><rect x="286.34" y="462.1" width="1.33" height="8.8" fill="#5891f0"/><rect x="287.67" y="462.1" width="0.97" height="8.8" fill="#b2b4f0"/><rect x="290.87" y="462.1" width="1.34" height="8.8" fill="#5891f0"/><rect x="293.21" y="462.1" width="1.03" height="8.8" fill="#307eec"/><rect x="294.24" y="462.1" width="1.57" height="8.8" fill="#b2b4f0"/><rect x="297.48" y="462.1" width="1.62" height="8.8" fill="#5891f0"/><rect x="299.82" y="462.1" width="0.82" height="8.8" fill="#b2b4f0"/><rect x="300.64" y="462.1" width="1.42" height="8.8" fill="#5891f0"/><rect x="302.06" y="462.1" width="0.76" height="8.8" fill="#5891f0"/><rect x="304.00" y="462.1" width="0.96" height="8.8" fill="#5891f0"/><rect x="305.73" y="462.1" width="1.05" height="8.8" fill="#5891f0"/><rect x="308.35" y="462.1" width="1.42" height="8.8" fill="#5891f0"/><rect x="310.85" y="462.1" width="0.87" height="8.8" fill="#5891f0"/><rect x="312.69" y="462.1" width="0.77" height="8.8" fill="#307eec"/><rect x="313.46" y="462.1" width="1.76" height="8.8" fill="#5891f0"/><rect x="316.67" y="462.1" width="1.29" height="8.8" fill="#307eec"/><rect x="317.97" y="462.1" width="1.83" height="8.8" fill="#5891f0"/><rect x="321.44" y="462.1" width="1.20" height="8.8" fill="#d0b6ec"/><rect x="322.64" y="462.1" width="1.15" height="8.8" fill="#5891f0"/><rect x="323.79" y="462.1" width="1.27" height="8.8" fill="#5891f0"/><rect x="325.06" y="462.1" width="1.06" height="8.8" fill="#5891f0"/><rect x="326.12" y="462.1" width="1.67" height="8.8" fill="#5891f0"/><rect x="327.79" y="462.1" width="1.37" height="8.8" fill="#307eec"/><rect x="329.16" y="462.1" width="1.37" height="8.8" fill="#d0b6ec"/><rect x="331.52" y="462.1" width="1.48" height="8.8" fill="#307eec"/><rect x="333.00" y="462.1" width="1.72" height="8.8" fill="#b2b4f0"/><rect x="336.28" y="462.1" width="1.02" height="8.8" fill="#5891f0"/><rect x="337.31" y="462.1" width="1.42" height="8.8" fill="#5891f0"/><rect x="338.73" y="462.1" width="0.93" height="8.8" fill="#5891f0"/><rect x="339.66" y="462.1" width="1.57" height="8.8" fill="#5891f0"/><rect x="341.22" y="462.1" width="1.28" height="8.8" fill="#5891f0"/><rect x="342.50" y="462.1" width="1.10" height="8.8" fill="#307eec"/><rect x="343.60" y="462.1" width="0.72" height="8.8" fill="#307eec"/><rect x="344.32" y="462.1" width="1.85" height="8.8" fill="#b2b4f0"/><rect x="348.07" y="462.1" width="0.99" height="8.8" fill="#5891f0"/><rect x="349.06" y="462.1" width="0.95" height="8.8" fill="#5891f0"/><rect x="350.01" y="462.1" width="1.36" height="8.8" fill="#5891f0"/><rect x="354.97" y="462.1" width="0.82" height="8.8" fill="#307eec"/><rect x="355.79" y="462.1" width="1.26" height="8.8" fill="#5891f0"/><rect x="358.85" y="462.1" width="1.20" height="8.8" fill="#5891f0"/><rect x="360.05" y="462.1" width="0.97" height="8.8" fill="#d0b6ec"/><rect x="361.02" y="462.1" width="1.01" height="8.8" fill="#307eec"/><rect x="364.31" y="462.1" width="1.16" height="8.8" fill="#5891f0"/><rect x="365.46" y="462.1" width="1.30" height="8.8" fill="#5891f0"/><rect x="368.28" y="462.1" width="1.69" height="8.8" fill="#307eec"/><rect x="371.44" y="462.1" width="0.90" height="8.8" fill="#5891f0"/><rect x="372.34" y="462.1" width="0.90" height="8.8" fill="#5891f0"/><rect x="373.24" y="462.1" width="1.29" height="8.8" fill="#5891f0"/><rect x="374.53" y="462.1" width="1.35" height="8.8" fill="#5891f0"/><rect x="375.88" y="462.1" width="0.77" height="8.8" fill="#b2b4f0"/><rect x="376.65" y="462.1" width="1.72" height="8.8" fill="#307eec"/><rect x="378.37" y="462.1" width="1.50" height="8.8" fill="#5891f0"/><rect x="379.87" y="462.1" width="1.19" height="8.8" fill="#5891f0"/><rect x="381.06" y="462.1" width="0.98" height="8.8" fill="#5891f0"/><rect x="382.75" y="462.1" width="1.05" height="8.8" fill="#5891f0"/></g>
<rect x="72.1" y="462.1" width="1" height="8.8" fill="#1a2238"/>
<rect x="125.7" y="462.1" width="1" height="8.8" fill="#1a2238"/>
<rect x="306.0" y="462.1" width="1" height="8.8" fill="#1a2238"/>
<rect x="379.0" y="462.1" width="1" height="8.8" fill="#1a2238"/>
<text transform="translate(56.699999999999996,482.0) rotate(57)" font-family="'Liberation Sans', sans-serif" font-size="6.0" fill="#6e1c1c" stroke="#6e1c1c" stroke-width="0.18">Normal</text>
<text transform="translate(93.2,482.0) rotate(57)" font-family="'Liberation Sans', sans-serif" font-size="6.0" fill="#6e1c1c" stroke="#6e1c1c" stroke-width="0.18">Stage1</text>
<text transform="translate(191.4,482.0) rotate(57)" font-family="'Liberation Sans', sans-serif" font-size="6.0" fill="#6e1c1c" stroke="#6e1c1c" stroke-width="0.18">Stage2</text>
<text transform="translate(330.7,482.0) rotate(57)" font-family="'Liberation Sans', sans-serif" font-size="6.0" fill="#6e1c1c" stroke="#6e1c1c" stroke-width="0.18">Stage3</text>
<text transform="translate(377.09999999999997,482.0) rotate(57)" font-family="'Liberation Sans', sans-serif" font-size="6.0" fill="#6e1c1c" stroke="#6e1c1c" stroke-width="0.18">Stage4</text>
<line x1="388.3" y1="476" x2="388.3" y2="544.5" stroke="#c8c8c8" stroke-width="0.8"/>
<text x="150.8" y="515.6" font-family="'Liberation Sans', sans-serif" font-size="6.9" fill="#222" font-weight="bold" text-anchor="start" textLength="39.3" lengthAdjust="spacingAndGlyphs">Log2(TPM+1)</text>
<defs><linearGradient id="cbar" x1="0" x2="1" y1="0" y2="0"><stop offset="0" stop-color="#1a6ef0"/><stop offset="0.2" stop-color="#3a82f0"/><stop offset="0.33" stop-color="#7098f0"/><stop offset="0.45" stop-color="#b4b0f0"/><stop offset="0.55" stop-color="#f2c2e8"/><stop offset="0.66" stop-color="#ff6a84"/><stop offset="0.8" stop-color="#ff3c4c"/><stop offset="1" stop-color="#ff0a0a"/></linearGradient></defs>
<rect x="150.1" y="521.4" width="100.7" height="6.1" fill="url(#cbar)"/>
<line x1="183.5" y1="521.4" x2="183.5" y2="527.5" stroke="#fff" stroke-width="0.5"/>
<line x1="217.0" y1="521.4" x2="217.0" y2="527.5" stroke="#fff" stroke-width="0.5"/>
<text x="151.6" y="537.3" font-family="'Liberation Sans', sans-serif" font-size="5.6" fill="#777" text-anchor="middle">0</text>
<text x="183.8" y="537.3" font-family="'Liberation Sans', sans-serif" font-size="5.6" fill="#777" text-anchor="middle">5</text>
<text x="218" y="537.3" font-family="'Liberation Sans', sans-serif" font-size="5.6" fill="#777" text-anchor="middle">10</text>
<text x="247.1" y="537.3" font-family="'Liberation Sans', sans-serif" font-size="5.6" fill="#777" text-anchor="middle">15</text>
</svg>
</body></html>
